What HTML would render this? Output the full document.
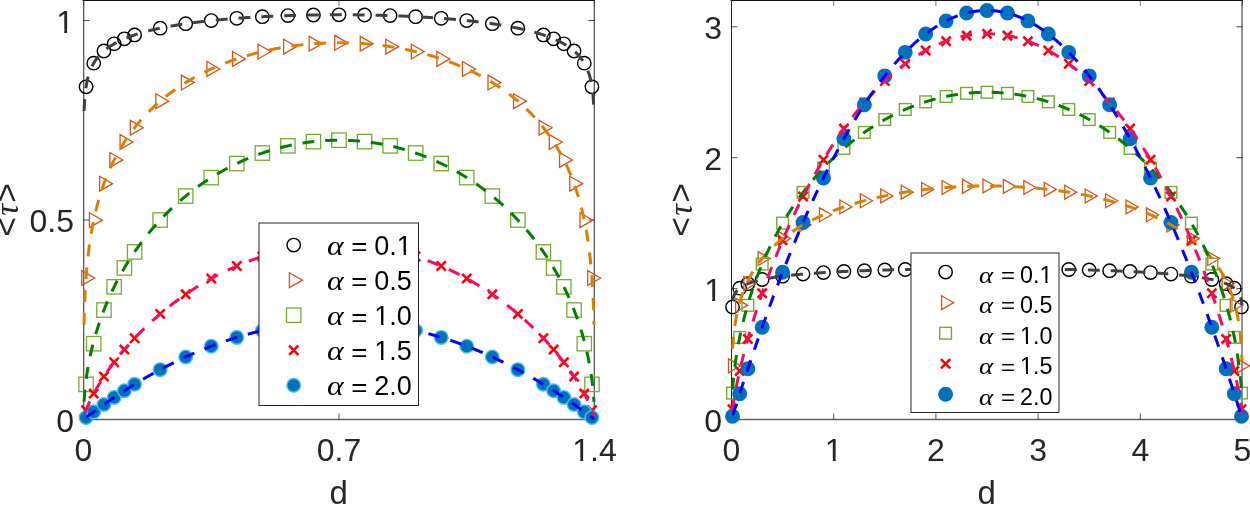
<!DOCTYPE html>
<html><head><meta charset="utf-8"><title>plot</title>
<style>html,body{margin:0;padding:0;background:#fff;overflow:hidden}svg{display:block}</style>
</head><body>
<svg width="1250" height="505" viewBox="0 0 1250 505" font-family="'Liberation Sans', Helvetica, Arial, sans-serif" font-size="32" fill="#262626">
<defs><clipPath id="c0"><path clip-rule="evenodd" d="M552.26,421.20h84.48v60.00h-84.48zM573.20,457.50H580.29V464.20H573.20zM583.15,457.50H589.76V464.20H583.15z"/></clipPath><clipPath id="c1"><path clip-rule="evenodd" d="M36.20,-7.50h57.80v60.00h-57.80zM57.14,28.80H64.23V35.50H57.14zM67.09,28.80H73.70V35.50H67.09z"/></clipPath><clipPath id="c2"><path clip-rule="evenodd" d="M354.30,215.00h77.53v60.00h-77.53zM397.61,251.69H403.59V258.00H397.61zM406.01,251.69H411.58V258.00H406.01z"/></clipPath><clipPath id="c3"><path clip-rule="evenodd" d="M354.30,285.10h77.53v60.00h-77.53zM375.09,321.79H381.08V328.10H375.09zM383.49,321.79H389.07V328.10H383.49z"/></clipPath><clipPath id="c4"><path clip-rule="evenodd" d="M354.30,320.15h77.53v60.00h-77.53zM375.09,356.84H381.08V363.15H375.09zM383.49,356.84H389.07V363.15H383.49z"/></clipPath><clipPath id="c5"><path clip-rule="evenodd" d="M804.80,421.20h57.80v60.00h-57.80zM825.74,457.50H832.83V464.20H825.74zM835.69,457.50H842.30V464.20H835.69z"/></clipPath><clipPath id="c6"><path clip-rule="evenodd" d="M684.20,260.60h57.80v60.00h-57.80zM705.14,296.90H712.23V303.60H705.14zM715.09,296.90H721.70V303.60H715.09z"/></clipPath><clipPath id="c7"><path clip-rule="evenodd" d="M1000.10,242.60h72.39v60.00h-72.39zM1040.21,279.58H1045.38V285.60H1040.21zM1047.46,279.58H1052.27V285.60H1047.46z"/></clipPath><clipPath id="c8"><path clip-rule="evenodd" d="M1000.10,303.70h72.39v60.00h-72.39zM1020.78,340.68H1025.95V346.70H1020.78zM1028.03,340.68H1032.84V346.70H1028.03z"/></clipPath><clipPath id="c9"><path clip-rule="evenodd" d="M1000.10,334.25h72.39v60.00h-72.39zM1020.78,371.23H1025.95V377.25H1020.78zM1028.03,371.23H1032.84V377.25H1028.03z"/></clipPath></defs>
<rect x="82.5" y="0" width="512.5" height="1" fill="#111"/>
<line x1="83.75" y1="0" x2="83.75" y2="420.00" stroke="#262626" stroke-width="1" opacity="1.0"/>
<line x1="594.25" y1="0" x2="594.25" y2="420.00" stroke="#262626" stroke-width="1" opacity="1.0"/>
<line x1="83.50" y1="419.50" x2="595.00" y2="419.50" stroke="#262626" stroke-width="1.3" opacity="0.72"/>
<line x1="83.50" y1="419.50" x2="83.50" y2="413.50" stroke="#262626" stroke-width="1" opacity="0.8"/>
<line x1="83.50" y1="0" x2="83.50" y2="6.00" stroke="#262626" stroke-width="1" opacity="0.6"/>
<text x="83.50" y="461.20" text-anchor="middle">0</text>
<line x1="339.00" y1="419.50" x2="339.00" y2="413.50" stroke="#262626" stroke-width="1" opacity="0.8"/>
<line x1="339.00" y1="0" x2="339.00" y2="6.00" stroke="#262626" stroke-width="1" opacity="0.6"/>
<text x="339.00" y="461.20" text-anchor="middle">0.7</text>
<line x1="594.50" y1="419.50" x2="594.50" y2="413.50" stroke="#262626" stroke-width="1" opacity="0.8"/>
<line x1="594.50" y1="0" x2="594.50" y2="6.00" stroke="#262626" stroke-width="1" opacity="0.6"/>
<text x="594.50" y="461.20" text-anchor="middle" clip-path="url(#c0)">1.4</text>
<line x1="83.50" y1="419.50" x2="89.50" y2="419.50" stroke="#262626" stroke-width="1" opacity="0.8"/>
<line x1="594.50" y1="419.50" x2="588.50" y2="419.50" stroke="#262626" stroke-width="1" opacity="0.9"/>
<text x="74.00" y="431.50" text-anchor="end">0</text>
<line x1="83.50" y1="220.00" x2="89.50" y2="220.00" stroke="#262626" stroke-width="1" opacity="0.8"/>
<line x1="594.50" y1="220.00" x2="588.50" y2="220.00" stroke="#262626" stroke-width="1" opacity="0.9"/>
<text x="74.00" y="232.00" text-anchor="end">0.5</text>
<line x1="83.50" y1="20.50" x2="89.50" y2="20.50" stroke="#262626" stroke-width="1" opacity="0.8"/>
<line x1="594.50" y1="20.50" x2="588.50" y2="20.50" stroke="#262626" stroke-width="1" opacity="0.9"/>
<text x="74.00" y="32.50" text-anchor="end" clip-path="url(#c1)">1</text>
<text x="338.70" y="503.8" text-anchor="middle" font-size="33">d</text>
<circle cx="86.06" cy="86.78" r="6.7" fill="none" stroke="#000" stroke-width="1.4"/>
<circle cx="93.72" cy="63.17" r="6.7" fill="none" stroke="#000" stroke-width="1.4"/>
<circle cx="103.94" cy="50.98" r="6.7" fill="none" stroke="#000" stroke-width="1.4"/>
<circle cx="114.16" cy="43.83" r="6.7" fill="none" stroke="#000" stroke-width="1.4"/>
<circle cx="124.38" cy="38.79" r="6.7" fill="none" stroke="#000" stroke-width="1.4"/>
<circle cx="134.60" cy="34.95" r="6.7" fill="none" stroke="#000" stroke-width="1.4"/>
<circle cx="160.15" cy="28.19" r="6.7" fill="none" stroke="#000" stroke-width="1.4"/>
<circle cx="185.70" cy="23.72" r="6.7" fill="none" stroke="#000" stroke-width="1.4"/>
<circle cx="211.25" cy="20.57" r="6.7" fill="none" stroke="#000" stroke-width="1.4"/>
<circle cx="236.80" cy="18.30" r="6.7" fill="none" stroke="#000" stroke-width="1.4"/>
<circle cx="262.35" cy="16.70" r="6.7" fill="none" stroke="#000" stroke-width="1.4"/>
<circle cx="287.90" cy="15.62" r="6.7" fill="none" stroke="#000" stroke-width="1.4"/>
<circle cx="313.45" cy="15.00" r="6.7" fill="none" stroke="#000" stroke-width="1.4"/>
<circle cx="339.00" cy="14.79" r="6.7" fill="none" stroke="#000" stroke-width="1.4"/>
<circle cx="364.55" cy="15.00" r="6.7" fill="none" stroke="#000" stroke-width="1.4"/>
<circle cx="390.10" cy="15.62" r="6.7" fill="none" stroke="#000" stroke-width="1.4"/>
<circle cx="415.65" cy="16.70" r="6.7" fill="none" stroke="#000" stroke-width="1.4"/>
<circle cx="441.20" cy="18.30" r="6.7" fill="none" stroke="#000" stroke-width="1.4"/>
<circle cx="466.75" cy="20.57" r="6.7" fill="none" stroke="#000" stroke-width="1.4"/>
<circle cx="492.30" cy="23.72" r="6.7" fill="none" stroke="#000" stroke-width="1.4"/>
<circle cx="517.85" cy="28.19" r="6.7" fill="none" stroke="#000" stroke-width="1.4"/>
<circle cx="543.40" cy="34.95" r="6.7" fill="none" stroke="#000" stroke-width="1.4"/>
<circle cx="553.62" cy="38.79" r="6.7" fill="none" stroke="#000" stroke-width="1.4"/>
<circle cx="563.84" cy="43.83" r="6.7" fill="none" stroke="#000" stroke-width="1.4"/>
<circle cx="574.06" cy="50.98" r="6.7" fill="none" stroke="#000" stroke-width="1.4"/>
<circle cx="584.28" cy="63.17" r="6.7" fill="none" stroke="#000" stroke-width="1.4"/>
<circle cx="591.94" cy="86.78" r="6.7" fill="none" stroke="#000" stroke-width="1.4"/>
<polygon points="81.76,270.62 94.66,278.02 81.76,285.42" fill="none" stroke="#D95319" stroke-width="1.3"/>
<polygon points="89.42,212.78 102.32,220.18 89.42,227.58" fill="none" stroke="#D95319" stroke-width="1.3"/>
<polygon points="99.64,176.28 112.54,183.68 99.64,191.08" fill="none" stroke="#D95319" stroke-width="1.3"/>
<polygon points="109.86,152.50 122.76,159.90 109.86,167.30" fill="none" stroke="#D95319" stroke-width="1.3"/>
<polygon points="120.08,134.63 132.98,142.03 120.08,149.43" fill="none" stroke="#D95319" stroke-width="1.3"/>
<polygon points="130.30,120.32 143.20,127.72 130.30,135.12" fill="none" stroke="#D95319" stroke-width="1.3"/>
<polygon points="155.85,93.78 168.75,101.18 155.85,108.58" fill="none" stroke="#D95319" stroke-width="1.3"/>
<polygon points="181.40,75.18 194.30,82.58 181.40,89.98" fill="none" stroke="#D95319" stroke-width="1.3"/>
<polygon points="206.95,61.56 219.85,68.96 206.95,76.36" fill="none" stroke="#D95319" stroke-width="1.3"/>
<polygon points="232.50,51.48 245.40,58.88 232.50,66.28" fill="none" stroke="#D95319" stroke-width="1.3"/>
<polygon points="258.05,44.19 270.95,51.59 258.05,58.99" fill="none" stroke="#D95319" stroke-width="1.3"/>
<polygon points="283.60,39.24 296.50,46.64 283.60,54.04" fill="none" stroke="#D95319" stroke-width="1.3"/>
<polygon points="309.15,36.36 322.05,43.76 309.15,51.16" fill="none" stroke="#D95319" stroke-width="1.3"/>
<polygon points="334.70,35.42 347.60,42.82 334.70,50.22" fill="none" stroke="#D95319" stroke-width="1.3"/>
<polygon points="360.25,36.36 373.15,43.76 360.25,51.16" fill="none" stroke="#D95319" stroke-width="1.3"/>
<polygon points="385.80,39.24 398.70,46.64 385.80,54.04" fill="none" stroke="#D95319" stroke-width="1.3"/>
<polygon points="411.35,44.19 424.25,51.59 411.35,58.99" fill="none" stroke="#D95319" stroke-width="1.3"/>
<polygon points="436.90,51.48 449.80,58.88 436.90,66.28" fill="none" stroke="#D95319" stroke-width="1.3"/>
<polygon points="462.45,61.56 475.35,68.96 462.45,76.36" fill="none" stroke="#D95319" stroke-width="1.3"/>
<polygon points="488.00,75.18 500.90,82.58 488.00,89.98" fill="none" stroke="#D95319" stroke-width="1.3"/>
<polygon points="513.55,93.78 526.45,101.18 513.55,108.58" fill="none" stroke="#D95319" stroke-width="1.3"/>
<polygon points="539.10,120.32 552.00,127.72 539.10,135.12" fill="none" stroke="#D95319" stroke-width="1.3"/>
<polygon points="549.32,134.63 562.22,142.03 549.32,149.43" fill="none" stroke="#D95319" stroke-width="1.3"/>
<polygon points="559.54,152.50 572.44,159.90 559.54,167.30" fill="none" stroke="#D95319" stroke-width="1.3"/>
<polygon points="569.76,176.28 582.66,183.68 569.76,191.08" fill="none" stroke="#D95319" stroke-width="1.3"/>
<polygon points="579.98,212.78 592.88,220.18 579.98,227.58" fill="none" stroke="#D95319" stroke-width="1.3"/>
<polygon points="587.64,270.62 600.54,278.02 587.64,285.42" fill="none" stroke="#D95319" stroke-width="1.3"/>
<rect x="78.86" y="377.19" width="14.40" height="14.40" fill="none" stroke="#77AC30" stroke-width="1.3"/>
<rect x="86.52" y="336.49" width="14.40" height="14.40" fill="none" stroke="#77AC30" stroke-width="1.3"/>
<rect x="96.74" y="302.84" width="14.40" height="14.40" fill="none" stroke="#77AC30" stroke-width="1.3"/>
<rect x="106.96" y="279.64" width="14.40" height="14.40" fill="none" stroke="#77AC30" stroke-width="1.3"/>
<rect x="117.18" y="260.76" width="14.40" height="14.40" fill="none" stroke="#77AC30" stroke-width="1.3"/>
<rect x="127.40" y="244.72" width="14.40" height="14.40" fill="none" stroke="#77AC30" stroke-width="1.3"/>
<rect x="152.95" y="212.84" width="14.40" height="14.40" fill="none" stroke="#77AC30" stroke-width="1.3"/>
<rect x="178.50" y="188.86" width="14.40" height="14.40" fill="none" stroke="#77AC30" stroke-width="1.3"/>
<rect x="204.05" y="170.42" width="14.40" height="14.40" fill="none" stroke="#77AC30" stroke-width="1.3"/>
<rect x="229.60" y="156.32" width="14.40" height="14.40" fill="none" stroke="#77AC30" stroke-width="1.3"/>
<rect x="255.15" y="145.86" width="14.40" height="14.40" fill="none" stroke="#77AC30" stroke-width="1.3"/>
<rect x="280.70" y="138.64" width="14.40" height="14.40" fill="none" stroke="#77AC30" stroke-width="1.3"/>
<rect x="306.25" y="134.40" width="14.40" height="14.40" fill="none" stroke="#77AC30" stroke-width="1.3"/>
<rect x="331.80" y="133.00" width="14.40" height="14.40" fill="none" stroke="#77AC30" stroke-width="1.3"/>
<rect x="357.35" y="134.40" width="14.40" height="14.40" fill="none" stroke="#77AC30" stroke-width="1.3"/>
<rect x="382.90" y="138.64" width="14.40" height="14.40" fill="none" stroke="#77AC30" stroke-width="1.3"/>
<rect x="408.45" y="145.86" width="14.40" height="14.40" fill="none" stroke="#77AC30" stroke-width="1.3"/>
<rect x="434.00" y="156.32" width="14.40" height="14.40" fill="none" stroke="#77AC30" stroke-width="1.3"/>
<rect x="459.55" y="170.42" width="14.40" height="14.40" fill="none" stroke="#77AC30" stroke-width="1.3"/>
<rect x="485.10" y="188.86" width="14.40" height="14.40" fill="none" stroke="#77AC30" stroke-width="1.3"/>
<rect x="510.65" y="212.84" width="14.40" height="14.40" fill="none" stroke="#77AC30" stroke-width="1.3"/>
<rect x="536.20" y="244.72" width="14.40" height="14.40" fill="none" stroke="#77AC30" stroke-width="1.3"/>
<rect x="546.42" y="260.76" width="14.40" height="14.40" fill="none" stroke="#77AC30" stroke-width="1.3"/>
<rect x="556.64" y="279.64" width="14.40" height="14.40" fill="none" stroke="#77AC30" stroke-width="1.3"/>
<rect x="566.86" y="302.84" width="14.40" height="14.40" fill="none" stroke="#77AC30" stroke-width="1.3"/>
<rect x="577.08" y="336.49" width="14.40" height="14.40" fill="none" stroke="#77AC30" stroke-width="1.3"/>
<rect x="584.74" y="377.19" width="14.40" height="14.40" fill="none" stroke="#77AC30" stroke-width="1.3"/>
<path d="M81.46,405.63L90.66,414.83M81.46,414.83L90.66,405.63" stroke="#FF0000" stroke-width="2.6" fill="none"/>
<path d="M89.12,388.99L98.32,398.19M89.12,398.19L98.32,388.99" stroke="#FF0000" stroke-width="2.6" fill="none"/>
<path d="M99.34,371.99L108.54,381.19M99.34,381.19L108.54,371.99" stroke="#FF0000" stroke-width="2.6" fill="none"/>
<path d="M109.56,357.65L118.76,366.85M109.56,366.85L118.76,357.65" stroke="#FF0000" stroke-width="2.6" fill="none"/>
<path d="M119.78,344.99L128.98,354.19M119.78,354.19L128.98,344.99" stroke="#FF0000" stroke-width="2.6" fill="none"/>
<path d="M130.00,333.61L139.20,342.81M130.00,342.81L139.20,333.61" stroke="#FF0000" stroke-width="2.6" fill="none"/>
<path d="M155.55,309.34L164.75,318.54M155.55,318.54L164.75,309.34" stroke="#FF0000" stroke-width="2.6" fill="none"/>
<path d="M181.10,289.75L190.30,298.95M181.10,298.95L190.30,289.75" stroke="#FF0000" stroke-width="2.6" fill="none"/>
<path d="M206.65,273.94L215.85,283.14M206.65,283.14L215.85,273.94" stroke="#FF0000" stroke-width="2.6" fill="none"/>
<path d="M232.20,261.43L241.40,270.63M232.20,270.63L241.40,261.43" stroke="#FF0000" stroke-width="2.6" fill="none"/>
<path d="M257.75,251.94L266.95,261.14M257.75,261.14L266.95,251.94" stroke="#FF0000" stroke-width="2.6" fill="none"/>
<path d="M283.30,245.27L292.50,254.47M283.30,254.47L292.50,245.27" stroke="#FF0000" stroke-width="2.6" fill="none"/>
<path d="M308.85,241.31L318.05,250.51M308.85,250.51L318.05,241.31" stroke="#FF0000" stroke-width="2.6" fill="none"/>
<path d="M334.40,239.99L343.60,249.19M334.40,249.19L343.60,239.99" stroke="#FF0000" stroke-width="2.6" fill="none"/>
<path d="M359.95,241.31L369.15,250.51M359.95,250.51L369.15,241.31" stroke="#FF0000" stroke-width="2.6" fill="none"/>
<path d="M385.50,245.27L394.70,254.47M385.50,254.47L394.70,245.27" stroke="#FF0000" stroke-width="2.6" fill="none"/>
<path d="M411.05,251.94L420.25,261.14M411.05,261.14L420.25,251.94" stroke="#FF0000" stroke-width="2.6" fill="none"/>
<path d="M436.60,261.43L445.80,270.63M436.60,270.63L445.80,261.43" stroke="#FF0000" stroke-width="2.6" fill="none"/>
<path d="M462.15,273.94L471.35,283.14M462.15,283.14L471.35,273.94" stroke="#FF0000" stroke-width="2.6" fill="none"/>
<path d="M487.70,289.75L496.90,298.95M487.70,298.95L496.90,289.75" stroke="#FF0000" stroke-width="2.6" fill="none"/>
<path d="M513.25,309.34L522.45,318.54M513.25,318.54L522.45,309.34" stroke="#FF0000" stroke-width="2.6" fill="none"/>
<path d="M538.80,333.61L548.00,342.81M538.80,342.81L548.00,333.61" stroke="#FF0000" stroke-width="2.6" fill="none"/>
<path d="M549.02,344.99L558.22,354.19M549.02,354.19L558.22,344.99" stroke="#FF0000" stroke-width="2.6" fill="none"/>
<path d="M559.24,357.65L568.44,366.85M559.24,366.85L568.44,357.65" stroke="#FF0000" stroke-width="2.6" fill="none"/>
<path d="M569.46,371.99L578.66,381.19M569.46,381.19L578.66,371.99" stroke="#FF0000" stroke-width="2.6" fill="none"/>
<path d="M579.68,388.99L588.88,398.19M579.68,398.19L588.88,388.99" stroke="#FF0000" stroke-width="2.6" fill="none"/>
<path d="M587.34,405.63L596.54,414.83M587.34,414.83L596.54,405.63" stroke="#FF0000" stroke-width="2.6" fill="none"/>
<circle cx="86.06" cy="417.55" r="6.8" fill="#0072BD" stroke="#4DBEEE" stroke-width="1.4"/>
<circle cx="93.72" cy="411.84" r="6.8" fill="#0072BD" stroke="#4DBEEE" stroke-width="1.4"/>
<circle cx="103.94" cy="404.48" r="6.8" fill="#0072BD" stroke="#4DBEEE" stroke-width="1.4"/>
<circle cx="114.16" cy="397.45" r="6.8" fill="#0072BD" stroke="#4DBEEE" stroke-width="1.4"/>
<circle cx="124.38" cy="390.72" r="6.8" fill="#0072BD" stroke="#4DBEEE" stroke-width="1.4"/>
<circle cx="134.60" cy="384.31" r="6.8" fill="#0072BD" stroke="#4DBEEE" stroke-width="1.4"/>
<circle cx="160.15" cy="369.64" r="6.8" fill="#0072BD" stroke="#4DBEEE" stroke-width="1.4"/>
<circle cx="185.70" cy="356.94" r="6.8" fill="#0072BD" stroke="#4DBEEE" stroke-width="1.4"/>
<circle cx="211.25" cy="346.18" r="6.8" fill="#0072BD" stroke="#4DBEEE" stroke-width="1.4"/>
<circle cx="236.80" cy="337.39" r="6.8" fill="#0072BD" stroke="#4DBEEE" stroke-width="1.4"/>
<circle cx="262.35" cy="330.54" r="6.8" fill="#0072BD" stroke="#4DBEEE" stroke-width="1.4"/>
<circle cx="287.90" cy="325.66" r="6.8" fill="#0072BD" stroke="#4DBEEE" stroke-width="1.4"/>
<circle cx="313.45" cy="322.72" r="6.8" fill="#0072BD" stroke="#4DBEEE" stroke-width="1.4"/>
<circle cx="339.00" cy="321.75" r="6.8" fill="#0072BD" stroke="#4DBEEE" stroke-width="1.4"/>
<circle cx="364.55" cy="322.72" r="6.8" fill="#0072BD" stroke="#4DBEEE" stroke-width="1.4"/>
<circle cx="390.10" cy="325.66" r="6.8" fill="#0072BD" stroke="#4DBEEE" stroke-width="1.4"/>
<circle cx="415.65" cy="330.54" r="6.8" fill="#0072BD" stroke="#4DBEEE" stroke-width="1.4"/>
<circle cx="441.20" cy="337.39" r="6.8" fill="#0072BD" stroke="#4DBEEE" stroke-width="1.4"/>
<circle cx="466.75" cy="346.18" r="6.8" fill="#0072BD" stroke="#4DBEEE" stroke-width="1.4"/>
<circle cx="492.30" cy="356.94" r="6.8" fill="#0072BD" stroke="#4DBEEE" stroke-width="1.4"/>
<circle cx="517.85" cy="369.64" r="6.8" fill="#0072BD" stroke="#4DBEEE" stroke-width="1.4"/>
<circle cx="543.40" cy="384.31" r="6.8" fill="#0072BD" stroke="#4DBEEE" stroke-width="1.4"/>
<circle cx="553.62" cy="390.72" r="6.8" fill="#0072BD" stroke="#4DBEEE" stroke-width="1.4"/>
<circle cx="563.84" cy="397.45" r="6.8" fill="#0072BD" stroke="#4DBEEE" stroke-width="1.4"/>
<circle cx="574.06" cy="404.48" r="6.8" fill="#0072BD" stroke="#4DBEEE" stroke-width="1.4"/>
<circle cx="584.28" cy="411.84" r="6.8" fill="#0072BD" stroke="#4DBEEE" stroke-width="1.4"/>
<circle cx="591.94" cy="417.55" r="6.8" fill="#0072BD" stroke="#4DBEEE" stroke-width="1.4"/>
<polyline points="84.01,112.44 84.52,101.63 85.03,95.13 85.54,90.45 86.06,86.78 86.57,83.75 87.08,81.16 87.59,78.92 88.10,76.92 88.61,75.13 89.12,73.50 89.63,72.01 90.14,70.63 90.65,69.36 91.17,68.17 91.68,67.05 92.19,66.00 92.70,65.00 93.21,64.06 93.72,63.17 94.23,62.31 94.74,61.50 95.25,60.72 95.76,59.98 96.28,59.26 96.79,58.57 97.30,57.91 97.81,57.27 98.32,56.65 98.83,56.05 99.34,55.48 99.85,54.92 100.36,54.37 100.87,53.85 101.39,53.34 101.90,52.84 102.41,52.36 102.92,51.89 103.43,51.43 103.94,50.98 104.45,50.54 104.96,50.12 105.47,49.70 105.98,49.30 106.49,48.90 107.01,48.51 107.52,48.13 108.03,47.76 108.54,47.40 109.05,47.04 109.56,46.69 110.07,46.35 110.58,46.01 111.09,45.68 111.61,45.36 112.12,45.04 112.63,44.73 113.14,44.42 113.65,44.12 114.16,43.83 114.67,43.54 115.18,43.25 115.69,42.97 116.20,42.69 116.72,42.42 117.23,42.15 117.74,41.89 118.25,41.63 118.76,41.38 119.27,41.12 119.78,40.88 120.29,40.63 120.80,40.39 121.31,40.15 121.82,39.92 122.34,39.69 122.85,39.46 123.36,39.24 123.87,39.01 124.38,38.79 124.89,38.58 125.40,38.37 125.91,38.16 126.42,37.95 126.94,37.74 127.45,37.54 127.96,37.34 128.47,37.14 128.98,36.95 129.49,36.76 130.00,36.56 130.51,36.38 131.02,36.19 131.53,36.01 132.05,35.82 132.56,35.65 133.07,35.47 133.58,35.29 134.09,35.12 134.60,34.95 135.11,34.78 135.62,34.61 136.13,34.44 136.64,34.28 137.16,34.11 137.67,33.95 138.18,33.79 138.69,33.64 139.20,33.48 139.71,33.32 140.22,33.17 140.73,33.02 141.24,32.87 141.75,32.72 142.26,32.57 142.78,32.43 143.29,32.28 143.80,32.14 144.31,32.00 144.82,31.86 145.33,31.72 145.84,31.58 146.35,31.45 146.86,31.31 147.38,31.18 147.89,31.05 148.40,30.92 148.91,30.78 149.42,30.66 149.93,30.53 150.44,30.40 150.95,30.28 151.46,30.15 151.97,30.03 152.49,29.91 153.00,29.78 153.51,29.66 154.02,29.55 154.53,29.43 155.04,29.31 155.55,29.19 156.06,29.08 156.57,28.96 157.08,28.85 157.59,28.74 158.11,28.63 158.62,28.52 159.13,28.41 159.64,28.30 160.15,28.19 160.66,28.08 161.17,27.98 161.68,27.87 162.19,27.77 162.70,27.66 163.22,27.56 163.73,27.46 164.24,27.36 164.75,27.26 165.26,27.16 165.77,27.06 166.28,26.96 166.79,26.86 167.30,26.77 167.81,26.67 168.33,26.58 168.84,26.48 169.35,26.39 169.86,26.29 170.37,26.20 170.88,26.11 171.39,26.02 171.90,25.93 172.41,25.84 172.92,25.75 173.44,25.66 173.95,25.57 174.46,25.49 174.97,25.40 175.48,25.32 175.99,25.23 176.50,25.15 177.01,25.06 177.52,24.98 178.03,24.90 178.55,24.81 179.06,24.73 179.57,24.65 180.08,24.57 180.59,24.49 181.10,24.41 181.61,24.33 182.12,24.25 182.63,24.18 183.15,24.10 183.66,24.02 184.17,23.95 184.68,23.87 185.19,23.80 185.70,23.72 186.21,23.65 186.72,23.58 187.23,23.50 187.74,23.43 188.25,23.36 188.77,23.29 189.28,23.22 189.79,23.14 190.30,23.07 190.81,23.01 191.32,22.94 191.83,22.87 192.34,22.80 192.85,22.73 193.37,22.66 193.88,22.60 194.39,22.53 194.90,22.47 195.41,22.40 195.92,22.34 196.43,22.27 196.94,22.21 197.45,22.14 197.96,22.08 198.47,22.02 198.99,21.95 199.50,21.89 200.01,21.83 200.52,21.77 201.03,21.71 201.54,21.65 202.05,21.59 202.56,21.53 203.07,21.47 203.59,21.41 204.10,21.35 204.61,21.29 205.12,21.24 205.63,21.18 206.14,21.12 206.65,21.06 207.16,21.01 207.67,20.95 208.18,20.90 208.69,20.84 209.21,20.79 209.72,20.73 210.23,20.68 210.74,20.62 211.25,20.57 211.76,20.52 212.27,20.47 212.78,20.41 213.29,20.36 213.81,20.31 214.32,20.26 214.83,20.21 215.34,20.16 215.85,20.11 216.36,20.06 216.87,20.01 217.38,19.96 217.89,19.91 218.40,19.86 218.91,19.81 219.43,19.76 219.94,19.72 220.45,19.67 220.96,19.62 221.47,19.57 221.98,19.53 222.49,19.48 223.00,19.44 223.51,19.39 224.03,19.34 224.54,19.30 225.05,19.25 225.56,19.21 226.07,19.17 226.58,19.12 227.09,19.08 227.60,19.04 228.11,18.99 228.62,18.95 229.14,18.91 229.65,18.87 230.16,18.82 230.67,18.78 231.18,18.74 231.69,18.70 232.20,18.66 232.71,18.62 233.22,18.58 233.73,18.54 234.25,18.50 234.76,18.46 235.27,18.42 235.78,18.38 236.29,18.34 236.80,18.30 237.31,18.27 237.82,18.23 238.33,18.19 238.84,18.15 239.35,18.12 239.87,18.08 240.38,18.04 240.89,18.01 241.40,17.97 241.91,17.94 242.42,17.90 242.93,17.86 243.44,17.83 243.95,17.79 244.47,17.76 244.98,17.73 245.49,17.69 246.00,17.66 246.51,17.62 247.02,17.59 247.53,17.56 248.04,17.52 248.55,17.49 249.06,17.46 249.57,17.43 250.09,17.40 250.60,17.36 251.11,17.33 251.62,17.30 252.13,17.27 252.64,17.24 253.15,17.21 253.66,17.18 254.17,17.15 254.68,17.12 255.20,17.09 255.71,17.06 256.22,17.03 256.73,17.00 257.24,16.97 257.75,16.94 258.26,16.91 258.77,16.89 259.28,16.86 259.79,16.83 260.31,16.80 260.82,16.78 261.33,16.75 261.84,16.72 262.35,16.70 262.86,16.67 263.37,16.64 263.88,16.62 264.39,16.59 264.90,16.57 265.42,16.54 265.93,16.51 266.44,16.49 266.95,16.47 267.46,16.44 267.97,16.42 268.48,16.39 268.99,16.37 269.50,16.34 270.01,16.32 270.53,16.30 271.04,16.27 271.55,16.25 272.06,16.23 272.57,16.21 273.08,16.18 273.59,16.16 274.10,16.14 274.61,16.12 275.12,16.10 275.64,16.07 276.15,16.05 276.66,16.03 277.17,16.01 277.68,15.99 278.19,15.97 278.70,15.95 279.21,15.93 279.72,15.91 280.24,15.89 280.75,15.87 281.26,15.85 281.77,15.83 282.28,15.81 282.79,15.79 283.30,15.78 283.81,15.76 284.32,15.74 284.83,15.72 285.35,15.70 285.86,15.69 286.37,15.67 286.88,15.65 287.39,15.63 287.90,15.62 288.41,15.60 288.92,15.58 289.43,15.57 289.94,15.55 290.45,15.54 290.97,15.52 291.48,15.50 291.99,15.49 292.50,15.47 293.01,15.46 293.52,15.44 294.03,15.43 294.54,15.41 295.05,15.40 295.56,15.38 296.08,15.37 296.59,15.36 297.10,15.34 297.61,15.33 298.12,15.32 298.63,15.30 299.14,15.29 299.65,15.28 300.16,15.26 300.67,15.25 301.19,15.24 301.70,15.23 302.21,15.22 302.72,15.20 303.23,15.19 303.74,15.18 304.25,15.17 304.76,15.16 305.27,15.15 305.78,15.14 306.30,15.13 306.81,15.12 307.32,15.11 307.83,15.10 308.34,15.09 308.85,15.08 309.36,15.07 309.87,15.06 310.38,15.05 310.89,15.04 311.41,15.03 311.92,15.02 312.43,15.01 312.94,15.00 313.45,15.00 313.96,14.99 314.47,14.98 314.98,14.97 315.49,14.96 316.00,14.96 316.52,14.95 317.03,14.94 317.54,14.94 318.05,14.93 318.56,14.92 319.07,14.92 319.58,14.91 320.09,14.90 320.60,14.90 321.12,14.89 321.63,14.89 322.14,14.88 322.65,14.87 323.16,14.87 323.67,14.86 324.18,14.86 324.69,14.86 325.20,14.85 325.71,14.85 326.23,14.84 326.74,14.84 327.25,14.83 327.76,14.83 328.27,14.83 328.78,14.82 329.29,14.82 329.80,14.82 330.31,14.82 330.82,14.81 331.34,14.81 331.85,14.81 332.36,14.81 332.87,14.80 333.38,14.80 333.89,14.80 334.40,14.80 334.91,14.80 335.42,14.80 335.93,14.79 336.44,14.79 336.96,14.79 337.47,14.79 337.98,14.79 338.49,14.79 339.00,14.79 339.51,14.79 340.02,14.79 340.53,14.79 341.04,14.79 341.56,14.79 342.07,14.79 342.58,14.80 343.09,14.80 343.60,14.80 344.11,14.80 344.62,14.80 345.13,14.80 345.64,14.81 346.15,14.81 346.66,14.81 347.18,14.81 347.69,14.82 348.20,14.82 348.71,14.82 349.22,14.82 349.73,14.83 350.24,14.83 350.75,14.83 351.26,14.84 351.77,14.84 352.29,14.85 352.80,14.85 353.31,14.86 353.82,14.86 354.33,14.86 354.84,14.87 355.35,14.87 355.86,14.88 356.37,14.89 356.88,14.89 357.40,14.90 357.91,14.90 358.42,14.91 358.93,14.92 359.44,14.92 359.95,14.93 360.46,14.94 360.97,14.94 361.48,14.95 362.00,14.96 362.51,14.96 363.02,14.97 363.53,14.98 364.04,14.99 364.55,15.00 365.06,15.00 365.57,15.01 366.08,15.02 366.59,15.03 367.11,15.04 367.62,15.05 368.13,15.06 368.64,15.07 369.15,15.08 369.66,15.09 370.17,15.10 370.68,15.11 371.19,15.12 371.70,15.13 372.22,15.14 372.73,15.15 373.24,15.16 373.75,15.17 374.26,15.18 374.77,15.19 375.28,15.20 375.79,15.22 376.30,15.23 376.81,15.24 377.33,15.25 377.84,15.26 378.35,15.28 378.86,15.29 379.37,15.30 379.88,15.32 380.39,15.33 380.90,15.34 381.41,15.36 381.92,15.37 382.44,15.38 382.95,15.40 383.46,15.41 383.97,15.43 384.48,15.44 384.99,15.46 385.50,15.47 386.01,15.49 386.52,15.50 387.03,15.52 387.54,15.54 388.06,15.55 388.57,15.57 389.08,15.58 389.59,15.60 390.10,15.62 390.61,15.63 391.12,15.65 391.63,15.67 392.14,15.69 392.65,15.70 393.17,15.72 393.68,15.74 394.19,15.76 394.70,15.78 395.21,15.79 395.72,15.81 396.23,15.83 396.74,15.85 397.25,15.87 397.76,15.89 398.28,15.91 398.79,15.93 399.30,15.95 399.81,15.97 400.32,15.99 400.83,16.01 401.34,16.03 401.85,16.05 402.36,16.07 402.88,16.10 403.39,16.12 403.90,16.14 404.41,16.16 404.92,16.18 405.43,16.21 405.94,16.23 406.45,16.25 406.96,16.27 407.47,16.30 407.99,16.32 408.50,16.34 409.01,16.37 409.52,16.39 410.03,16.42 410.54,16.44 411.05,16.47 411.56,16.49 412.07,16.51 412.58,16.54 413.09,16.57 413.61,16.59 414.12,16.62 414.63,16.64 415.14,16.67 415.65,16.70 416.16,16.72 416.67,16.75 417.18,16.78 417.69,16.80 418.20,16.83 418.72,16.86 419.23,16.89 419.74,16.91 420.25,16.94 420.76,16.97 421.27,17.00 421.78,17.03 422.29,17.06 422.80,17.09 423.31,17.12 423.83,17.15 424.34,17.18 424.85,17.21 425.36,17.24 425.87,17.27 426.38,17.30 426.89,17.33 427.40,17.36 427.91,17.40 428.42,17.43 428.94,17.46 429.45,17.49 429.96,17.52 430.47,17.56 430.98,17.59 431.49,17.62 432.00,17.66 432.51,17.69 433.02,17.73 433.53,17.76 434.05,17.79 434.56,17.83 435.07,17.86 435.58,17.90 436.09,17.94 436.60,17.97 437.11,18.01 437.62,18.04 438.13,18.08 438.64,18.12 439.16,18.15 439.67,18.19 440.18,18.23 440.69,18.27 441.20,18.30 441.71,18.34 442.22,18.38 442.73,18.42 443.24,18.46 443.75,18.50 444.27,18.54 444.78,18.58 445.29,18.62 445.80,18.66 446.31,18.70 446.82,18.74 447.33,18.78 447.84,18.82 448.35,18.87 448.86,18.91 449.38,18.95 449.89,18.99 450.40,19.04 450.91,19.08 451.42,19.12 451.93,19.17 452.44,19.21 452.95,19.25 453.46,19.30 453.97,19.34 454.49,19.39 455.00,19.44 455.51,19.48 456.02,19.53 456.53,19.57 457.04,19.62 457.55,19.67 458.06,19.72 458.57,19.76 459.08,19.81 459.60,19.86 460.11,19.91 460.62,19.96 461.13,20.01 461.64,20.06 462.15,20.11 462.66,20.16 463.17,20.21 463.68,20.26 464.19,20.31 464.71,20.36 465.22,20.41 465.73,20.47 466.24,20.52 466.75,20.57 467.26,20.62 467.77,20.68 468.28,20.73 468.79,20.79 469.30,20.84 469.82,20.90 470.33,20.95 470.84,21.01 471.35,21.06 471.86,21.12 472.37,21.18 472.88,21.24 473.39,21.29 473.90,21.35 474.41,21.41 474.93,21.47 475.44,21.53 475.95,21.59 476.46,21.65 476.97,21.71 477.48,21.77 477.99,21.83 478.50,21.89 479.01,21.95 479.52,22.02 480.04,22.08 480.55,22.14 481.06,22.21 481.57,22.27 482.08,22.34 482.59,22.40 483.10,22.47 483.61,22.53 484.12,22.60 484.63,22.66 485.15,22.73 485.66,22.80 486.17,22.87 486.68,22.94 487.19,23.01 487.70,23.07 488.21,23.14 488.72,23.22 489.23,23.29 489.75,23.36 490.26,23.43 490.77,23.50 491.28,23.58 491.79,23.65 492.30,23.72 492.81,23.80 493.32,23.87 493.83,23.95 494.34,24.02 494.86,24.10 495.37,24.18 495.88,24.25 496.39,24.33 496.90,24.41 497.41,24.49 497.92,24.57 498.43,24.65 498.94,24.73 499.45,24.81 499.97,24.90 500.48,24.98 500.99,25.06 501.50,25.15 502.01,25.23 502.52,25.32 503.03,25.40 503.54,25.49 504.05,25.57 504.56,25.66 505.07,25.75 505.59,25.84 506.10,25.93 506.61,26.02 507.12,26.11 507.63,26.20 508.14,26.29 508.65,26.39 509.16,26.48 509.67,26.58 510.19,26.67 510.70,26.77 511.21,26.86 511.72,26.96 512.23,27.06 512.74,27.16 513.25,27.26 513.76,27.36 514.27,27.46 514.78,27.56 515.30,27.66 515.81,27.77 516.32,27.87 516.83,27.98 517.34,28.08 517.85,28.19 518.36,28.30 518.87,28.41 519.38,28.52 519.89,28.63 520.40,28.74 520.92,28.85 521.43,28.96 521.94,29.08 522.45,29.19 522.96,29.31 523.47,29.43 523.98,29.55 524.49,29.66 525.00,29.78 525.52,29.91 526.03,30.03 526.54,30.15 527.05,30.28 527.56,30.40 528.07,30.53 528.58,30.66 529.09,30.78 529.60,30.92 530.11,31.05 530.62,31.18 531.14,31.31 531.65,31.45 532.16,31.58 532.67,31.72 533.18,31.86 533.69,32.00 534.20,32.14 534.71,32.28 535.22,32.43 535.74,32.57 536.25,32.72 536.76,32.87 537.27,33.02 537.78,33.17 538.29,33.32 538.80,33.48 539.31,33.64 539.82,33.79 540.33,33.95 540.85,34.11 541.36,34.28 541.87,34.44 542.38,34.61 542.89,34.78 543.40,34.95 543.91,35.12 544.42,35.29 544.93,35.47 545.44,35.65 545.95,35.82 546.47,36.01 546.98,36.19 547.49,36.38 548.00,36.56 548.51,36.76 549.02,36.95 549.53,37.14 550.04,37.34 550.55,37.54 551.07,37.74 551.58,37.95 552.09,38.16 552.60,38.37 553.11,38.58 553.62,38.79 554.13,39.01 554.64,39.24 555.15,39.46 555.66,39.69 556.17,39.92 556.69,40.15 557.20,40.39 557.71,40.63 558.22,40.88 558.73,41.12 559.24,41.38 559.75,41.63 560.26,41.89 560.77,42.15 561.28,42.42 561.80,42.69 562.31,42.97 562.82,43.25 563.33,43.54 563.84,43.83 564.35,44.12 564.86,44.42 565.37,44.73 565.88,45.04 566.39,45.36 566.91,45.68 567.42,46.01 567.93,46.35 568.44,46.69 568.95,47.04 569.46,47.40 569.97,47.76 570.48,48.13 570.99,48.51 571.50,48.90 572.02,49.30 572.53,49.70 573.04,50.12 573.55,50.54 574.06,50.98 574.57,51.43 575.08,51.89 575.59,52.36 576.10,52.84 576.62,53.34 577.13,53.85 577.64,54.37 578.15,54.92 578.66,55.48 579.17,56.05 579.68,56.65 580.19,57.27 580.70,57.91 581.21,58.57 581.73,59.26 582.24,59.98 582.75,60.72 583.26,61.50 583.77,62.31 584.28,63.17 584.79,64.06 585.30,65.00 585.81,66.00 586.32,67.05 586.84,68.17 587.35,69.36 587.86,70.63 588.37,72.01 588.88,73.50 589.39,75.13 589.90,76.92 590.41,78.92 590.92,81.16 591.43,83.75 591.94,86.78 592.46,90.45 592.97,95.13 593.48,101.63 593.99,112.44" fill="none" stroke="#404040" stroke-width="3.0" stroke-dasharray="11.9 10.95" stroke-dashoffset="-1.43" stroke-linejoin="round"/>
<polyline points="84.01,324.79 84.52,306.90 85.03,294.92 85.54,285.66 86.06,278.02 86.57,271.46 87.08,265.68 87.59,260.50 88.10,255.79 88.61,251.46 89.12,247.46 89.63,243.72 90.14,240.21 90.65,236.90 91.17,233.77 91.68,230.80 92.19,227.97 92.70,225.26 93.21,222.67 93.72,220.18 94.23,217.78 94.74,215.48 95.25,213.25 95.76,211.10 96.28,209.01 96.79,206.99 97.30,205.03 97.81,203.13 98.32,201.28 98.83,199.48 99.34,197.72 99.85,196.02 100.36,194.35 100.87,192.72 101.39,191.13 101.90,189.57 102.41,188.05 102.92,186.57 103.43,185.11 103.94,183.68 104.45,182.28 104.96,180.91 105.47,179.57 105.98,178.25 106.49,176.95 107.01,175.68 107.52,174.43 108.03,173.20 108.54,171.99 109.05,170.81 109.56,169.64 110.07,168.49 110.58,167.36 111.09,166.24 111.61,165.14 112.12,164.06 112.63,163.00 113.14,161.95 113.65,160.92 114.16,159.90 114.67,158.89 115.18,157.90 115.69,156.92 116.20,155.95 116.72,155.00 117.23,154.06 117.74,153.13 118.25,152.22 118.76,151.31 119.27,150.42 119.78,149.53 120.29,148.66 120.80,147.80 121.31,146.95 121.82,146.10 122.34,145.27 122.85,144.45 123.36,143.63 123.87,142.83 124.38,142.03 124.89,141.25 125.40,140.47 125.91,139.70 126.42,138.93 126.94,138.18 127.45,137.43 127.96,136.69 128.47,135.96 128.98,135.24 129.49,134.52 130.00,133.81 130.51,133.11 131.02,132.41 131.53,131.72 132.05,131.04 132.56,130.36 133.07,129.69 133.58,129.03 134.09,128.37 134.60,127.72 135.11,127.08 135.62,126.44 136.13,125.80 136.64,125.17 137.16,124.55 137.67,123.94 138.18,123.32 138.69,122.72 139.20,122.12 139.71,121.52 140.22,120.93 140.73,120.34 141.24,119.76 141.75,119.19 142.26,118.61 142.78,118.05 143.29,117.48 143.80,116.93 144.31,116.37 144.82,115.83 145.33,115.28 145.84,114.74 146.35,114.21 146.86,113.67 147.38,113.15 147.89,112.62 148.40,112.11 148.91,111.59 149.42,111.08 149.93,110.57 150.44,110.07 150.95,109.57 151.46,109.07 151.97,108.58 152.49,108.09 153.00,107.61 153.51,107.13 154.02,106.65 154.53,106.17 155.04,105.70 155.55,105.24 156.06,104.77 156.57,104.31 157.08,103.85 157.59,103.40 158.11,102.95 158.62,102.50 159.13,102.06 159.64,101.61 160.15,101.18 160.66,100.74 161.17,100.31 161.68,99.88 162.19,99.45 162.70,99.03 163.22,98.61 163.73,98.19 164.24,97.78 164.75,97.36 165.26,96.95 165.77,96.55 166.28,96.14 166.79,95.74 167.30,95.34 167.81,94.95 168.33,94.55 168.84,94.16 169.35,93.78 169.86,93.39 170.37,93.01 170.88,92.63 171.39,92.25 171.90,91.87 172.41,91.50 172.92,91.13 173.44,90.76 173.95,90.39 174.46,90.03 174.97,89.67 175.48,89.31 175.99,88.95 176.50,88.60 177.01,88.25 177.52,87.90 178.03,87.55 178.55,87.20 179.06,86.86 179.57,86.52 180.08,86.18 180.59,85.84 181.10,85.51 181.61,85.17 182.12,84.84 182.63,84.51 183.15,84.19 183.66,83.86 184.17,83.54 184.68,83.22 185.19,82.90 185.70,82.58 186.21,82.27 186.72,81.96 187.23,81.64 187.74,81.34 188.25,81.03 188.77,80.72 189.28,80.42 189.79,80.12 190.30,79.82 190.81,79.52 191.32,79.22 191.83,78.93 192.34,78.64 192.85,78.35 193.37,78.06 193.88,77.77 194.39,77.48 194.90,77.20 195.41,76.92 195.92,76.64 196.43,76.36 196.94,76.08 197.45,75.80 197.96,75.53 198.47,75.26 198.99,74.99 199.50,74.72 200.01,74.45 200.52,74.19 201.03,73.92 201.54,73.66 202.05,73.40 202.56,73.14 203.07,72.88 203.59,72.62 204.10,72.37 204.61,72.12 205.12,71.86 205.63,71.61 206.14,71.36 206.65,71.12 207.16,70.87 207.67,70.63 208.18,70.38 208.69,70.14 209.21,69.90 209.72,69.66 210.23,69.43 210.74,69.19 211.25,68.96 211.76,68.72 212.27,68.49 212.78,68.26 213.29,68.03 213.81,67.81 214.32,67.58 214.83,67.35 215.34,67.13 215.85,66.91 216.36,66.69 216.87,66.47 217.38,66.25 217.89,66.03 218.40,65.82 218.91,65.60 219.43,65.39 219.94,65.18 220.45,64.97 220.96,64.76 221.47,64.55 221.98,64.35 222.49,64.14 223.00,63.94 223.51,63.73 224.03,63.53 224.54,63.33 225.05,63.13 225.56,62.94 226.07,62.74 226.58,62.54 227.09,62.35 227.60,62.16 228.11,61.97 228.62,61.77 229.14,61.59 229.65,61.40 230.16,61.21 230.67,61.02 231.18,60.84 231.69,60.66 232.20,60.47 232.71,60.29 233.22,60.11 233.73,59.93 234.25,59.76 234.76,59.58 235.27,59.40 235.78,59.23 236.29,59.05 236.80,58.88 237.31,58.71 237.82,58.54 238.33,58.37 238.84,58.20 239.35,58.04 239.87,57.87 240.38,57.71 240.89,57.54 241.40,57.38 241.91,57.22 242.42,57.06 242.93,56.90 243.44,56.74 243.95,56.58 244.47,56.43 244.98,56.27 245.49,56.12 246.00,55.97 246.51,55.81 247.02,55.66 247.53,55.51 248.04,55.36 248.55,55.22 249.06,55.07 249.57,54.92 250.09,54.78 250.60,54.63 251.11,54.49 251.62,54.35 252.13,54.21 252.64,54.07 253.15,53.93 253.66,53.79 254.17,53.65 254.68,53.52 255.20,53.38 255.71,53.25 256.22,53.12 256.73,52.98 257.24,52.85 257.75,52.72 258.26,52.59 258.77,52.47 259.28,52.34 259.79,52.21 260.31,52.09 260.82,51.96 261.33,51.84 261.84,51.72 262.35,51.59 262.86,51.47 263.37,51.35 263.88,51.23 264.39,51.12 264.90,51.00 265.42,50.88 265.93,50.77 266.44,50.65 266.95,50.54 267.46,50.43 267.97,50.32 268.48,50.20 268.99,50.09 269.50,49.99 270.01,49.88 270.53,49.77 271.04,49.66 271.55,49.56 272.06,49.45 272.57,49.35 273.08,49.25 273.59,49.15 274.10,49.04 274.61,48.94 275.12,48.85 275.64,48.75 276.15,48.65 276.66,48.55 277.17,48.46 277.68,48.36 278.19,48.27 278.70,48.17 279.21,48.08 279.72,47.99 280.24,47.90 280.75,47.81 281.26,47.72 281.77,47.63 282.28,47.55 282.79,47.46 283.30,47.37 283.81,47.29 284.32,47.20 284.83,47.12 285.35,47.04 285.86,46.96 286.37,46.88 286.88,46.80 287.39,46.72 287.90,46.64 288.41,46.56 288.92,46.49 289.43,46.41 289.94,46.34 290.45,46.26 290.97,46.19 291.48,46.12 291.99,46.05 292.50,45.98 293.01,45.91 293.52,45.84 294.03,45.77 294.54,45.70 295.05,45.63 295.56,45.57 296.08,45.50 296.59,45.44 297.10,45.37 297.61,45.31 298.12,45.25 298.63,45.19 299.14,45.13 299.65,45.07 300.16,45.01 300.67,44.95 301.19,44.90 301.70,44.84 302.21,44.78 302.72,44.73 303.23,44.68 303.74,44.62 304.25,44.57 304.76,44.52 305.27,44.47 305.78,44.42 306.30,44.37 306.81,44.32 307.32,44.27 307.83,44.23 308.34,44.18 308.85,44.13 309.36,44.09 309.87,44.05 310.38,44.00 310.89,43.96 311.41,43.92 311.92,43.88 312.43,43.84 312.94,43.80 313.45,43.76 313.96,43.72 314.47,43.69 314.98,43.65 315.49,43.62 316.00,43.58 316.52,43.55 317.03,43.51 317.54,43.48 318.05,43.45 318.56,43.42 319.07,43.39 319.58,43.36 320.09,43.33 320.60,43.31 321.12,43.28 321.63,43.25 322.14,43.23 322.65,43.20 323.16,43.18 323.67,43.16 324.18,43.13 324.69,43.11 325.20,43.09 325.71,43.07 326.23,43.05 326.74,43.03 327.25,43.02 327.76,43.00 328.27,42.98 328.78,42.97 329.29,42.95 329.80,42.94 330.31,42.93 330.82,42.91 331.34,42.90 331.85,42.89 332.36,42.88 332.87,42.87 333.38,42.86 333.89,42.85 334.40,42.85 334.91,42.84 335.42,42.83 335.93,42.83 336.44,42.83 336.96,42.82 337.47,42.82 337.98,42.82 338.49,42.82 339.00,42.82 339.51,42.82 340.02,42.82 340.53,42.82 341.04,42.82 341.56,42.83 342.07,42.83 342.58,42.83 343.09,42.84 343.60,42.85 344.11,42.85 344.62,42.86 345.13,42.87 345.64,42.88 346.15,42.89 346.66,42.90 347.18,42.91 347.69,42.93 348.20,42.94 348.71,42.95 349.22,42.97 349.73,42.98 350.24,43.00 350.75,43.02 351.26,43.03 351.77,43.05 352.29,43.07 352.80,43.09 353.31,43.11 353.82,43.13 354.33,43.16 354.84,43.18 355.35,43.20 355.86,43.23 356.37,43.25 356.88,43.28 357.40,43.31 357.91,43.33 358.42,43.36 358.93,43.39 359.44,43.42 359.95,43.45 360.46,43.48 360.97,43.51 361.48,43.55 362.00,43.58 362.51,43.62 363.02,43.65 363.53,43.69 364.04,43.72 364.55,43.76 365.06,43.80 365.57,43.84 366.08,43.88 366.59,43.92 367.11,43.96 367.62,44.00 368.13,44.05 368.64,44.09 369.15,44.13 369.66,44.18 370.17,44.23 370.68,44.27 371.19,44.32 371.70,44.37 372.22,44.42 372.73,44.47 373.24,44.52 373.75,44.57 374.26,44.62 374.77,44.68 375.28,44.73 375.79,44.78 376.30,44.84 376.81,44.90 377.33,44.95 377.84,45.01 378.35,45.07 378.86,45.13 379.37,45.19 379.88,45.25 380.39,45.31 380.90,45.37 381.41,45.44 381.92,45.50 382.44,45.57 382.95,45.63 383.46,45.70 383.97,45.77 384.48,45.84 384.99,45.91 385.50,45.98 386.01,46.05 386.52,46.12 387.03,46.19 387.54,46.26 388.06,46.34 388.57,46.41 389.08,46.49 389.59,46.56 390.10,46.64 390.61,46.72 391.12,46.80 391.63,46.88 392.14,46.96 392.65,47.04 393.17,47.12 393.68,47.20 394.19,47.29 394.70,47.37 395.21,47.46 395.72,47.55 396.23,47.63 396.74,47.72 397.25,47.81 397.76,47.90 398.28,47.99 398.79,48.08 399.30,48.17 399.81,48.27 400.32,48.36 400.83,48.46 401.34,48.55 401.85,48.65 402.36,48.75 402.88,48.85 403.39,48.94 403.90,49.04 404.41,49.15 404.92,49.25 405.43,49.35 405.94,49.45 406.45,49.56 406.96,49.66 407.47,49.77 407.99,49.88 408.50,49.99 409.01,50.09 409.52,50.20 410.03,50.32 410.54,50.43 411.05,50.54 411.56,50.65 412.07,50.77 412.58,50.88 413.09,51.00 413.61,51.12 414.12,51.23 414.63,51.35 415.14,51.47 415.65,51.59 416.16,51.72 416.67,51.84 417.18,51.96 417.69,52.09 418.20,52.21 418.72,52.34 419.23,52.47 419.74,52.59 420.25,52.72 420.76,52.85 421.27,52.98 421.78,53.12 422.29,53.25 422.80,53.38 423.31,53.52 423.83,53.65 424.34,53.79 424.85,53.93 425.36,54.07 425.87,54.21 426.38,54.35 426.89,54.49 427.40,54.63 427.91,54.78 428.42,54.92 428.94,55.07 429.45,55.22 429.96,55.36 430.47,55.51 430.98,55.66 431.49,55.81 432.00,55.97 432.51,56.12 433.02,56.27 433.53,56.43 434.05,56.58 434.56,56.74 435.07,56.90 435.58,57.06 436.09,57.22 436.60,57.38 437.11,57.54 437.62,57.71 438.13,57.87 438.64,58.04 439.16,58.20 439.67,58.37 440.18,58.54 440.69,58.71 441.20,58.88 441.71,59.05 442.22,59.23 442.73,59.40 443.24,59.58 443.75,59.76 444.27,59.93 444.78,60.11 445.29,60.29 445.80,60.47 446.31,60.66 446.82,60.84 447.33,61.02 447.84,61.21 448.35,61.40 448.86,61.59 449.38,61.77 449.89,61.97 450.40,62.16 450.91,62.35 451.42,62.54 451.93,62.74 452.44,62.94 452.95,63.13 453.46,63.33 453.97,63.53 454.49,63.73 455.00,63.94 455.51,64.14 456.02,64.35 456.53,64.55 457.04,64.76 457.55,64.97 458.06,65.18 458.57,65.39 459.08,65.60 459.60,65.82 460.11,66.03 460.62,66.25 461.13,66.47 461.64,66.69 462.15,66.91 462.66,67.13 463.17,67.35 463.68,67.58 464.19,67.81 464.71,68.03 465.22,68.26 465.73,68.49 466.24,68.72 466.75,68.96 467.26,69.19 467.77,69.43 468.28,69.66 468.79,69.90 469.30,70.14 469.82,70.38 470.33,70.63 470.84,70.87 471.35,71.12 471.86,71.36 472.37,71.61 472.88,71.86 473.39,72.12 473.90,72.37 474.41,72.62 474.93,72.88 475.44,73.14 475.95,73.40 476.46,73.66 476.97,73.92 477.48,74.19 477.99,74.45 478.50,74.72 479.01,74.99 479.52,75.26 480.04,75.53 480.55,75.80 481.06,76.08 481.57,76.36 482.08,76.64 482.59,76.92 483.10,77.20 483.61,77.48 484.12,77.77 484.63,78.06 485.15,78.35 485.66,78.64 486.17,78.93 486.68,79.22 487.19,79.52 487.70,79.82 488.21,80.12 488.72,80.42 489.23,80.72 489.75,81.03 490.26,81.34 490.77,81.64 491.28,81.96 491.79,82.27 492.30,82.58 492.81,82.90 493.32,83.22 493.83,83.54 494.34,83.86 494.86,84.19 495.37,84.51 495.88,84.84 496.39,85.17 496.90,85.51 497.41,85.84 497.92,86.18 498.43,86.52 498.94,86.86 499.45,87.20 499.97,87.55 500.48,87.90 500.99,88.25 501.50,88.60 502.01,88.95 502.52,89.31 503.03,89.67 503.54,90.03 504.05,90.39 504.56,90.76 505.07,91.13 505.59,91.50 506.10,91.87 506.61,92.25 507.12,92.63 507.63,93.01 508.14,93.39 508.65,93.78 509.16,94.16 509.67,94.55 510.19,94.95 510.70,95.34 511.21,95.74 511.72,96.14 512.23,96.55 512.74,96.95 513.25,97.36 513.76,97.78 514.27,98.19 514.78,98.61 515.30,99.03 515.81,99.45 516.32,99.88 516.83,100.31 517.34,100.74 517.85,101.18 518.36,101.61 518.87,102.06 519.38,102.50 519.89,102.95 520.40,103.40 520.92,103.85 521.43,104.31 521.94,104.77 522.45,105.24 522.96,105.70 523.47,106.17 523.98,106.65 524.49,107.13 525.00,107.61 525.52,108.09 526.03,108.58 526.54,109.07 527.05,109.57 527.56,110.07 528.07,110.57 528.58,111.08 529.09,111.59 529.60,112.11 530.11,112.62 530.62,113.15 531.14,113.67 531.65,114.21 532.16,114.74 532.67,115.28 533.18,115.83 533.69,116.37 534.20,116.93 534.71,117.48 535.22,118.05 535.74,118.61 536.25,119.19 536.76,119.76 537.27,120.34 537.78,120.93 538.29,121.52 538.80,122.12 539.31,122.72 539.82,123.32 540.33,123.94 540.85,124.55 541.36,125.17 541.87,125.80 542.38,126.44 542.89,127.08 543.40,127.72 543.91,128.37 544.42,129.03 544.93,129.69 545.44,130.36 545.95,131.04 546.47,131.72 546.98,132.41 547.49,133.11 548.00,133.81 548.51,134.52 549.02,135.24 549.53,135.96 550.04,136.69 550.55,137.43 551.07,138.18 551.58,138.93 552.09,139.70 552.60,140.47 553.11,141.25 553.62,142.03 554.13,142.83 554.64,143.63 555.15,144.45 555.66,145.27 556.17,146.10 556.69,146.95 557.20,147.80 557.71,148.66 558.22,149.53 558.73,150.42 559.24,151.31 559.75,152.22 560.26,153.13 560.77,154.06 561.28,155.00 561.80,155.95 562.31,156.92 562.82,157.90 563.33,158.89 563.84,159.90 564.35,160.92 564.86,161.95 565.37,163.00 565.88,164.06 566.39,165.14 566.91,166.24 567.42,167.36 567.93,168.49 568.44,169.64 568.95,170.81 569.46,171.99 569.97,173.20 570.48,174.43 570.99,175.68 571.50,176.95 572.02,178.25 572.53,179.57 573.04,180.91 573.55,182.28 574.06,183.68 574.57,185.11 575.08,186.57 575.59,188.05 576.10,189.57 576.62,191.13 577.13,192.72 577.64,194.35 578.15,196.02 578.66,197.72 579.17,199.48 579.68,201.28 580.19,203.13 580.70,205.03 581.21,206.99 581.73,209.01 582.24,211.10 582.75,213.25 583.26,215.48 583.77,217.78 584.28,220.18 584.79,222.67 585.30,225.26 585.81,227.97 586.32,230.80 586.84,233.77 587.35,236.90 587.86,240.21 588.37,243.72 588.88,247.46 589.39,251.46 589.90,255.79 590.41,260.50 590.92,265.68 591.43,271.46 591.94,278.02 592.46,285.66 592.97,294.92 593.48,306.90 593.99,324.79" fill="none" stroke="#E07E00" stroke-width="3.0" stroke-dasharray="11.9 10.95" stroke-dashoffset="0.0" stroke-linejoin="round"/>
<polyline points="84.01,401.84 84.52,394.54 85.03,388.95 85.54,384.24 86.06,380.10 86.57,376.36 87.08,372.93 87.59,369.74 88.10,366.75 88.61,363.92 89.12,361.24 89.63,358.68 90.14,356.23 90.65,353.87 91.17,351.60 91.68,349.41 92.19,347.29 92.70,345.23 93.21,343.24 93.72,341.30 94.23,339.41 94.74,337.56 95.25,335.76 95.76,334.01 96.28,332.29 96.79,330.61 97.30,328.96 97.81,327.35 98.32,325.76 98.83,324.21 99.34,322.68 99.85,321.19 100.36,319.71 100.87,318.27 101.39,316.84 101.90,315.44 102.41,314.06 102.92,312.70 103.43,311.36 103.94,310.04 104.45,308.74 104.96,307.45 105.47,306.18 105.98,304.93 106.49,303.70 107.01,302.48 107.52,301.28 108.03,300.09 108.54,298.92 109.05,297.76 109.56,296.61 110.07,295.48 110.58,294.35 111.09,293.25 111.61,292.15 112.12,291.07 112.63,289.99 113.14,288.93 113.65,287.88 114.16,286.84 114.67,285.81 115.18,284.79 115.69,283.78 116.20,282.78 116.72,281.79 117.23,280.81 117.74,279.84 118.25,278.87 118.76,277.92 119.27,276.97 119.78,276.04 120.29,275.11 120.80,274.19 121.31,273.27 121.82,272.37 122.34,271.47 122.85,270.58 123.36,269.70 123.87,268.82 124.38,267.96 124.89,267.09 125.40,266.24 125.91,265.39 126.42,264.55 126.94,263.72 127.45,262.89 127.96,262.07 128.47,261.25 128.98,260.44 129.49,259.64 130.00,258.84 130.51,258.05 131.02,257.26 131.53,256.48 132.05,255.71 132.56,254.94 133.07,254.18 133.58,253.42 134.09,252.67 134.60,251.92 135.11,251.18 135.62,250.44 136.13,249.71 136.64,248.98 137.16,248.26 137.67,247.54 138.18,246.83 138.69,246.12 139.20,245.42 139.71,244.72 140.22,244.03 140.73,243.34 141.24,242.65 141.75,241.97 142.26,241.29 142.78,240.62 143.29,239.95 143.80,239.29 144.31,238.63 144.82,237.98 145.33,237.33 145.84,236.68 146.35,236.03 146.86,235.40 147.38,234.76 147.89,234.13 148.40,233.50 148.91,232.88 149.42,232.26 149.93,231.64 150.44,231.03 150.95,230.42 151.46,229.81 151.97,229.21 152.49,228.61 153.00,228.02 153.51,227.43 154.02,226.84 154.53,226.25 155.04,225.67 155.55,225.10 156.06,224.52 156.57,223.95 157.08,223.38 157.59,222.82 158.11,222.25 158.62,221.70 159.13,221.14 159.64,220.59 160.15,220.04 160.66,219.49 161.17,218.95 161.68,218.41 162.19,217.87 162.70,217.34 163.22,216.81 163.73,216.28 164.24,215.76 164.75,215.23 165.26,214.71 165.77,214.20 166.28,213.68 166.79,213.17 167.30,212.66 167.81,212.16 168.33,211.66 168.84,211.16 169.35,210.66 169.86,210.16 170.37,209.67 170.88,209.18 171.39,208.70 171.90,208.21 172.41,207.73 172.92,207.25 173.44,206.77 173.95,206.30 174.46,205.83 174.97,205.36 175.48,204.89 175.99,204.43 176.50,203.97 177.01,203.51 177.52,203.05 178.03,202.60 178.55,202.15 179.06,201.70 179.57,201.25 180.08,200.80 180.59,200.36 181.10,199.92 181.61,199.48 182.12,199.05 182.63,198.61 183.15,198.18 183.66,197.75 184.17,197.33 184.68,196.90 185.19,196.48 185.70,196.06 186.21,195.64 186.72,195.23 187.23,194.81 187.74,194.40 188.25,193.99 188.77,193.59 189.28,193.18 189.79,192.78 190.30,192.38 190.81,191.98 191.32,191.58 191.83,191.19 192.34,190.79 192.85,190.40 193.37,190.01 193.88,189.63 194.39,189.24 194.90,188.86 195.41,188.48 195.92,188.10 196.43,187.73 196.94,187.35 197.45,186.98 197.96,186.61 198.47,186.24 198.99,185.87 199.50,185.51 200.01,185.14 200.52,184.78 201.03,184.42 201.54,184.07 202.05,183.71 202.56,183.36 203.07,183.00 203.59,182.65 204.10,182.31 204.61,181.96 205.12,181.62 205.63,181.27 206.14,180.93 206.65,180.59 207.16,180.25 207.67,179.92 208.18,179.59 208.69,179.25 209.21,178.92 209.72,178.59 210.23,178.27 210.74,177.94 211.25,177.62 211.76,177.30 212.27,176.98 212.78,176.66 213.29,176.34 213.81,176.03 214.32,175.71 214.83,175.40 215.34,175.09 215.85,174.79 216.36,174.48 216.87,174.17 217.38,173.87 217.89,173.57 218.40,173.27 218.91,172.97 219.43,172.67 219.94,172.38 220.45,172.09 220.96,171.79 221.47,171.50 221.98,171.22 222.49,170.93 223.00,170.64 223.51,170.36 224.03,170.08 224.54,169.80 225.05,169.52 225.56,169.24 226.07,168.96 226.58,168.69 227.09,168.42 227.60,168.14 228.11,167.88 228.62,167.61 229.14,167.34 229.65,167.07 230.16,166.81 230.67,166.55 231.18,166.29 231.69,166.03 232.20,165.77 232.71,165.51 233.22,165.26 233.73,165.01 234.25,164.75 234.76,164.50 235.27,164.26 235.78,164.01 236.29,163.76 236.80,163.52 237.31,163.27 237.82,163.03 238.33,162.79 238.84,162.55 239.35,162.32 239.87,162.08 240.38,161.85 240.89,161.61 241.40,161.38 241.91,161.15 242.42,160.92 242.93,160.70 243.44,160.47 243.95,160.24 244.47,160.02 244.98,159.80 245.49,159.58 246.00,159.36 246.51,159.14 247.02,158.93 247.53,158.71 248.04,158.50 248.55,158.29 249.06,158.08 249.57,157.87 250.09,157.66 250.60,157.45 251.11,157.25 251.62,157.04 252.13,156.84 252.64,156.64 253.15,156.44 253.66,156.24 254.17,156.04 254.68,155.85 255.20,155.65 255.71,155.46 256.22,155.27 256.73,155.08 257.24,154.89 257.75,154.70 258.26,154.51 258.77,154.33 259.28,154.14 259.79,153.96 260.31,153.78 260.82,153.60 261.33,153.42 261.84,153.24 262.35,153.06 262.86,152.89 263.37,152.72 263.88,152.54 264.39,152.37 264.90,152.20 265.42,152.03 265.93,151.87 266.44,151.70 266.95,151.54 267.46,151.37 267.97,151.21 268.48,151.05 268.99,150.89 269.50,150.73 270.01,150.57 270.53,150.42 271.04,150.26 271.55,150.11 272.06,149.96 272.57,149.81 273.08,149.66 273.59,149.51 274.10,149.36 274.61,149.21 275.12,149.07 275.64,148.93 276.15,148.78 276.66,148.64 277.17,148.50 277.68,148.36 278.19,148.23 278.70,148.09 279.21,147.95 279.72,147.82 280.24,147.69 280.75,147.56 281.26,147.43 281.77,147.30 282.28,147.17 282.79,147.04 283.30,146.92 283.81,146.79 284.32,146.67 284.83,146.55 285.35,146.43 285.86,146.31 286.37,146.19 286.88,146.07 287.39,145.96 287.90,145.84 288.41,145.73 288.92,145.62 289.43,145.51 289.94,145.40 290.45,145.29 290.97,145.18 291.48,145.07 291.99,144.97 292.50,144.86 293.01,144.76 293.52,144.66 294.03,144.56 294.54,144.46 295.05,144.36 295.56,144.27 296.08,144.17 296.59,144.08 297.10,143.98 297.61,143.89 298.12,143.80 298.63,143.71 299.14,143.62 299.65,143.53 300.16,143.45 300.67,143.36 301.19,143.28 301.70,143.19 302.21,143.11 302.72,143.03 303.23,142.95 303.74,142.87 304.25,142.80 304.76,142.72 305.27,142.64 305.78,142.57 306.30,142.50 306.81,142.43 307.32,142.36 307.83,142.29 308.34,142.22 308.85,142.15 309.36,142.09 309.87,142.02 310.38,141.96 310.89,141.89 311.41,141.83 311.92,141.77 312.43,141.71 312.94,141.66 313.45,141.60 313.96,141.54 314.47,141.49 314.98,141.44 315.49,141.38 316.00,141.33 316.52,141.28 317.03,141.23 317.54,141.19 318.05,141.14 318.56,141.10 319.07,141.05 319.58,141.01 320.09,140.97 320.60,140.92 321.12,140.89 321.63,140.85 322.14,140.81 322.65,140.77 323.16,140.74 323.67,140.70 324.18,140.67 324.69,140.64 325.20,140.61 325.71,140.58 326.23,140.55 326.74,140.52 327.25,140.50 327.76,140.47 328.27,140.45 328.78,140.42 329.29,140.40 329.80,140.38 330.31,140.36 330.82,140.34 331.34,140.33 331.85,140.31 332.36,140.29 332.87,140.28 333.38,140.27 333.89,140.26 334.40,140.25 334.91,140.24 335.42,140.23 335.93,140.22 336.44,140.21 336.96,140.21 337.47,140.21 337.98,140.20 338.49,140.20 339.00,140.20 339.51,140.20 340.02,140.20 340.53,140.21 341.04,140.21 341.56,140.21 342.07,140.22 342.58,140.23 343.09,140.24 343.60,140.25 344.11,140.26 344.62,140.27 345.13,140.28 345.64,140.29 346.15,140.31 346.66,140.33 347.18,140.34 347.69,140.36 348.20,140.38 348.71,140.40 349.22,140.42 349.73,140.45 350.24,140.47 350.75,140.50 351.26,140.52 351.77,140.55 352.29,140.58 352.80,140.61 353.31,140.64 353.82,140.67 354.33,140.70 354.84,140.74 355.35,140.77 355.86,140.81 356.37,140.85 356.88,140.89 357.40,140.92 357.91,140.97 358.42,141.01 358.93,141.05 359.44,141.10 359.95,141.14 360.46,141.19 360.97,141.23 361.48,141.28 362.00,141.33 362.51,141.38 363.02,141.44 363.53,141.49 364.04,141.54 364.55,141.60 365.06,141.66 365.57,141.71 366.08,141.77 366.59,141.83 367.11,141.89 367.62,141.96 368.13,142.02 368.64,142.09 369.15,142.15 369.66,142.22 370.17,142.29 370.68,142.36 371.19,142.43 371.70,142.50 372.22,142.57 372.73,142.64 373.24,142.72 373.75,142.80 374.26,142.87 374.77,142.95 375.28,143.03 375.79,143.11 376.30,143.19 376.81,143.28 377.33,143.36 377.84,143.45 378.35,143.53 378.86,143.62 379.37,143.71 379.88,143.80 380.39,143.89 380.90,143.98 381.41,144.08 381.92,144.17 382.44,144.27 382.95,144.36 383.46,144.46 383.97,144.56 384.48,144.66 384.99,144.76 385.50,144.86 386.01,144.97 386.52,145.07 387.03,145.18 387.54,145.29 388.06,145.40 388.57,145.51 389.08,145.62 389.59,145.73 390.10,145.84 390.61,145.96 391.12,146.07 391.63,146.19 392.14,146.31 392.65,146.43 393.17,146.55 393.68,146.67 394.19,146.79 394.70,146.92 395.21,147.04 395.72,147.17 396.23,147.30 396.74,147.43 397.25,147.56 397.76,147.69 398.28,147.82 398.79,147.95 399.30,148.09 399.81,148.23 400.32,148.36 400.83,148.50 401.34,148.64 401.85,148.78 402.36,148.93 402.88,149.07 403.39,149.21 403.90,149.36 404.41,149.51 404.92,149.66 405.43,149.81 405.94,149.96 406.45,150.11 406.96,150.26 407.47,150.42 407.99,150.57 408.50,150.73 409.01,150.89 409.52,151.05 410.03,151.21 410.54,151.37 411.05,151.54 411.56,151.70 412.07,151.87 412.58,152.03 413.09,152.20 413.61,152.37 414.12,152.54 414.63,152.72 415.14,152.89 415.65,153.06 416.16,153.24 416.67,153.42 417.18,153.60 417.69,153.78 418.20,153.96 418.72,154.14 419.23,154.33 419.74,154.51 420.25,154.70 420.76,154.89 421.27,155.08 421.78,155.27 422.29,155.46 422.80,155.65 423.31,155.85 423.83,156.04 424.34,156.24 424.85,156.44 425.36,156.64 425.87,156.84 426.38,157.04 426.89,157.25 427.40,157.45 427.91,157.66 428.42,157.87 428.94,158.08 429.45,158.29 429.96,158.50 430.47,158.71 430.98,158.93 431.49,159.14 432.00,159.36 432.51,159.58 433.02,159.80 433.53,160.02 434.05,160.24 434.56,160.47 435.07,160.70 435.58,160.92 436.09,161.15 436.60,161.38 437.11,161.61 437.62,161.85 438.13,162.08 438.64,162.32 439.16,162.55 439.67,162.79 440.18,163.03 440.69,163.27 441.20,163.52 441.71,163.76 442.22,164.01 442.73,164.26 443.24,164.50 443.75,164.75 444.27,165.01 444.78,165.26 445.29,165.51 445.80,165.77 446.31,166.03 446.82,166.29 447.33,166.55 447.84,166.81 448.35,167.07 448.86,167.34 449.38,167.61 449.89,167.88 450.40,168.14 450.91,168.42 451.42,168.69 451.93,168.96 452.44,169.24 452.95,169.52 453.46,169.80 453.97,170.08 454.49,170.36 455.00,170.64 455.51,170.93 456.02,171.22 456.53,171.50 457.04,171.79 457.55,172.09 458.06,172.38 458.57,172.67 459.08,172.97 459.60,173.27 460.11,173.57 460.62,173.87 461.13,174.17 461.64,174.48 462.15,174.79 462.66,175.09 463.17,175.40 463.68,175.71 464.19,176.03 464.71,176.34 465.22,176.66 465.73,176.98 466.24,177.30 466.75,177.62 467.26,177.94 467.77,178.27 468.28,178.59 468.79,178.92 469.30,179.25 469.82,179.59 470.33,179.92 470.84,180.25 471.35,180.59 471.86,180.93 472.37,181.27 472.88,181.62 473.39,181.96 473.90,182.31 474.41,182.65 474.93,183.00 475.44,183.36 475.95,183.71 476.46,184.07 476.97,184.42 477.48,184.78 477.99,185.14 478.50,185.51 479.01,185.87 479.52,186.24 480.04,186.61 480.55,186.98 481.06,187.35 481.57,187.73 482.08,188.10 482.59,188.48 483.10,188.86 483.61,189.24 484.12,189.63 484.63,190.01 485.15,190.40 485.66,190.79 486.17,191.19 486.68,191.58 487.19,191.98 487.70,192.38 488.21,192.78 488.72,193.18 489.23,193.59 489.75,193.99 490.26,194.40 490.77,194.81 491.28,195.23 491.79,195.64 492.30,196.06 492.81,196.48 493.32,196.90 493.83,197.33 494.34,197.75 494.86,198.18 495.37,198.61 495.88,199.05 496.39,199.48 496.90,199.92 497.41,200.36 497.92,200.80 498.43,201.25 498.94,201.70 499.45,202.15 499.97,202.60 500.48,203.05 500.99,203.51 501.50,203.97 502.01,204.43 502.52,204.89 503.03,205.36 503.54,205.83 504.05,206.30 504.56,206.77 505.07,207.25 505.59,207.73 506.10,208.21 506.61,208.70 507.12,209.18 507.63,209.67 508.14,210.16 508.65,210.66 509.16,211.16 509.67,211.66 510.19,212.16 510.70,212.66 511.21,213.17 511.72,213.68 512.23,214.20 512.74,214.71 513.25,215.23 513.76,215.76 514.27,216.28 514.78,216.81 515.30,217.34 515.81,217.87 516.32,218.41 516.83,218.95 517.34,219.49 517.85,220.04 518.36,220.59 518.87,221.14 519.38,221.70 519.89,222.25 520.40,222.82 520.92,223.38 521.43,223.95 521.94,224.52 522.45,225.10 522.96,225.67 523.47,226.25 523.98,226.84 524.49,227.43 525.00,228.02 525.52,228.61 526.03,229.21 526.54,229.81 527.05,230.42 527.56,231.03 528.07,231.64 528.58,232.26 529.09,232.88 529.60,233.50 530.11,234.13 530.62,234.76 531.14,235.40 531.65,236.03 532.16,236.68 532.67,237.33 533.18,237.98 533.69,238.63 534.20,239.29 534.71,239.95 535.22,240.62 535.74,241.29 536.25,241.97 536.76,242.65 537.27,243.34 537.78,244.03 538.29,244.72 538.80,245.42 539.31,246.12 539.82,246.83 540.33,247.54 540.85,248.26 541.36,248.98 541.87,249.71 542.38,250.44 542.89,251.18 543.40,251.92 543.91,252.67 544.42,253.42 544.93,254.18 545.44,254.94 545.95,255.71 546.47,256.48 546.98,257.26 547.49,258.05 548.00,258.84 548.51,259.64 549.02,260.44 549.53,261.25 550.04,262.07 550.55,262.89 551.07,263.72 551.58,264.55 552.09,265.39 552.60,266.24 553.11,267.09 553.62,267.96 554.13,268.82 554.64,269.70 555.15,270.58 555.66,271.47 556.17,272.37 556.69,273.27 557.20,274.19 557.71,275.11 558.22,276.04 558.73,276.97 559.24,277.92 559.75,278.87 560.26,279.84 560.77,280.81 561.28,281.79 561.80,282.78 562.31,283.78 562.82,284.79 563.33,285.81 563.84,286.84 564.35,287.88 564.86,288.93 565.37,289.99 565.88,291.07 566.39,292.15 566.91,293.25 567.42,294.35 567.93,295.48 568.44,296.61 568.95,297.76 569.46,298.92 569.97,300.09 570.48,301.28 570.99,302.48 571.50,303.70 572.02,304.93 572.53,306.18 573.04,307.45 573.55,308.74 574.06,310.04 574.57,311.36 575.08,312.70 575.59,314.06 576.10,315.44 576.62,316.84 577.13,318.27 577.64,319.71 578.15,321.19 578.66,322.68 579.17,324.21 579.68,325.76 580.19,327.35 580.70,328.96 581.21,330.61 581.73,332.29 582.24,334.01 582.75,335.76 583.26,337.56 583.77,339.41 584.28,341.30 584.79,343.24 585.30,345.23 585.81,347.29 586.32,349.41 586.84,351.60 587.35,353.87 587.86,356.23 588.37,358.68 588.88,361.24 589.39,363.92 589.90,366.75 590.41,369.74 590.92,372.93 591.43,376.36 591.94,380.10 592.46,384.24 592.97,388.95 593.48,394.54 593.99,401.84" fill="none" stroke="#008000" stroke-width="3.0" stroke-dasharray="11.9 10.95" stroke-dashoffset="-0.32" stroke-linejoin="round"/>
<polyline points="84.01,416.72 84.52,414.83 85.03,413.17 85.54,411.66 86.06,410.23 86.57,408.88 87.08,407.59 87.59,406.35 88.10,405.14 88.61,403.97 89.12,402.84 89.63,401.73 90.14,400.64 90.65,399.58 91.17,398.53 91.68,397.51 92.19,396.51 92.70,395.52 93.21,394.54 93.72,393.59 94.23,392.64 94.74,391.71 95.25,390.79 95.76,389.88 96.28,388.98 96.79,388.09 97.30,387.22 97.81,386.35 98.32,385.49 98.83,384.64 99.34,383.80 99.85,382.97 100.36,382.15 100.87,381.33 101.39,380.52 101.90,379.72 102.41,378.93 102.92,378.14 103.43,377.36 103.94,376.59 104.45,375.82 104.96,375.06 105.47,374.30 105.98,373.55 106.49,372.81 107.01,372.07 107.52,371.33 108.03,370.61 108.54,369.88 109.05,369.16 109.56,368.45 110.07,367.74 110.58,367.04 111.09,366.34 111.61,365.65 112.12,364.96 112.63,364.27 113.14,363.59 113.65,362.92 114.16,362.25 114.67,361.58 115.18,360.91 115.69,360.25 116.20,359.60 116.72,358.95 117.23,358.30 117.74,357.65 118.25,357.01 118.76,356.38 119.27,355.74 119.78,355.11 120.29,354.49 120.80,353.86 121.31,353.24 121.82,352.63 122.34,352.01 122.85,351.40 123.36,350.80 123.87,350.19 124.38,349.59 124.89,349.00 125.40,348.40 125.91,347.81 126.42,347.23 126.94,346.64 127.45,346.06 127.96,345.48 128.47,344.90 128.98,344.33 129.49,343.76 130.00,343.19 130.51,342.63 131.02,342.07 131.53,341.51 132.05,340.95 132.56,340.40 133.07,339.85 133.58,339.30 134.09,338.75 134.60,338.21 135.11,337.67 135.62,337.13 136.13,336.60 136.64,336.06 137.16,335.53 137.67,335.00 138.18,334.48 138.69,333.96 139.20,333.43 139.71,332.92 140.22,332.40 140.73,331.89 141.24,331.37 141.75,330.86 142.26,330.36 142.78,329.85 143.29,329.35 143.80,328.85 144.31,328.35 144.82,327.86 145.33,327.36 145.84,326.87 146.35,326.38 146.86,325.90 147.38,325.41 147.89,324.93 148.40,324.45 148.91,323.97 149.42,323.49 149.93,323.02 150.44,322.55 150.95,322.07 151.46,321.61 151.97,321.14 152.49,320.68 153.00,320.21 153.51,319.75 154.02,319.29 154.53,318.84 155.04,318.38 155.55,317.93 156.06,317.48 156.57,317.03 157.08,316.58 157.59,316.14 158.11,315.70 158.62,315.26 159.13,314.82 159.64,314.38 160.15,313.94 160.66,313.51 161.17,313.08 161.68,312.65 162.19,312.22 162.70,311.79 163.22,311.37 163.73,310.95 164.24,310.52 164.75,310.11 165.26,309.69 165.77,309.27 166.28,308.86 166.79,308.45 167.30,308.03 167.81,307.63 168.33,307.22 168.84,306.81 169.35,306.41 169.86,306.01 170.37,305.61 170.88,305.21 171.39,304.81 171.90,304.42 172.41,304.02 172.92,303.63 173.44,303.24 173.95,302.85 174.46,302.46 174.97,302.08 175.48,301.69 175.99,301.31 176.50,300.93 177.01,300.55 177.52,300.17 178.03,299.80 178.55,299.42 179.06,299.05 179.57,298.68 180.08,298.31 180.59,297.94 181.10,297.58 181.61,297.21 182.12,296.85 182.63,296.49 183.15,296.13 183.66,295.77 184.17,295.41 184.68,295.05 185.19,294.70 185.70,294.35 186.21,294.00 186.72,293.65 187.23,293.30 187.74,292.95 188.25,292.61 188.77,292.26 189.28,291.92 189.79,291.58 190.30,291.24 190.81,290.90 191.32,290.56 191.83,290.23 192.34,289.90 192.85,289.56 193.37,289.23 193.88,288.90 194.39,288.58 194.90,288.25 195.41,287.93 195.92,287.60 196.43,287.28 196.94,286.96 197.45,286.64 197.96,286.32 198.47,286.01 198.99,285.69 199.50,285.38 200.01,285.06 200.52,284.75 201.03,284.44 201.54,284.14 202.05,283.83 202.56,283.52 203.07,283.22 203.59,282.92 204.10,282.62 204.61,282.32 205.12,282.02 205.63,281.72 206.14,281.42 206.65,281.13 207.16,280.84 207.67,280.54 208.18,280.25 208.69,279.96 209.21,279.68 209.72,279.39 210.23,279.10 210.74,278.82 211.25,278.54 211.76,278.26 212.27,277.98 212.78,277.70 213.29,277.42 213.81,277.14 214.32,276.87 214.83,276.60 215.34,276.32 215.85,276.05 216.36,275.78 216.87,275.52 217.38,275.25 217.89,274.98 218.40,274.72 218.91,274.46 219.43,274.19 219.94,273.93 220.45,273.67 220.96,273.42 221.47,273.16 221.98,272.90 222.49,272.65 223.00,272.40 223.51,272.14 224.03,271.89 224.54,271.64 225.05,271.40 225.56,271.15 226.07,270.90 226.58,270.66 227.09,270.42 227.60,270.18 228.11,269.93 228.62,269.70 229.14,269.46 229.65,269.22 230.16,268.98 230.67,268.75 231.18,268.52 231.69,268.29 232.20,268.05 232.71,267.83 233.22,267.60 233.73,267.37 234.25,267.14 234.76,266.92 235.27,266.70 235.78,266.47 236.29,266.25 236.80,266.03 237.31,265.81 237.82,265.60 238.33,265.38 238.84,265.17 239.35,264.95 239.87,264.74 240.38,264.53 240.89,264.32 241.40,264.11 241.91,263.90 242.42,263.69 242.93,263.49 243.44,263.28 243.95,263.08 244.47,262.88 244.98,262.68 245.49,262.48 246.00,262.28 246.51,262.08 247.02,261.89 247.53,261.69 248.04,261.50 248.55,261.30 249.06,261.11 249.57,260.92 250.09,260.73 250.60,260.55 251.11,260.36 251.62,260.17 252.13,259.99 252.64,259.80 253.15,259.62 253.66,259.44 254.17,259.26 254.68,259.08 255.20,258.90 255.71,258.73 256.22,258.55 256.73,258.38 257.24,258.21 257.75,258.03 258.26,257.86 258.77,257.69 259.28,257.52 259.79,257.36 260.31,257.19 260.82,257.03 261.33,256.86 261.84,256.70 262.35,256.54 262.86,256.38 263.37,256.22 263.88,256.06 264.39,255.90 264.90,255.75 265.42,255.59 265.93,255.44 266.44,255.28 266.95,255.13 267.46,254.98 267.97,254.83 268.48,254.68 268.99,254.54 269.50,254.39 270.01,254.25 270.53,254.10 271.04,253.96 271.55,253.82 272.06,253.68 272.57,253.54 273.08,253.40 273.59,253.26 274.10,253.13 274.61,252.99 275.12,252.86 275.64,252.72 276.15,252.59 276.66,252.46 277.17,252.33 277.68,252.20 278.19,252.08 278.70,251.95 279.21,251.83 279.72,251.70 280.24,251.58 280.75,251.46 281.26,251.34 281.77,251.22 282.28,251.10 282.79,250.98 283.30,250.87 283.81,250.75 284.32,250.64 284.83,250.52 285.35,250.41 285.86,250.30 286.37,250.19 286.88,250.08 287.39,249.97 287.90,249.87 288.41,249.76 288.92,249.66 289.43,249.55 289.94,249.45 290.45,249.35 290.97,249.25 291.48,249.15 291.99,249.05 292.50,248.96 293.01,248.86 293.52,248.77 294.03,248.67 294.54,248.58 295.05,248.49 295.56,248.40 296.08,248.31 296.59,248.22 297.10,248.13 297.61,248.05 298.12,247.96 298.63,247.88 299.14,247.80 299.65,247.71 300.16,247.63 300.67,247.55 301.19,247.47 301.70,247.40 302.21,247.32 302.72,247.24 303.23,247.17 303.74,247.10 304.25,247.03 304.76,246.95 305.27,246.88 305.78,246.81 306.30,246.75 306.81,246.68 307.32,246.61 307.83,246.55 308.34,246.49 308.85,246.42 309.36,246.36 309.87,246.30 310.38,246.24 310.89,246.18 311.41,246.13 311.92,246.07 312.43,246.01 312.94,245.96 313.45,245.91 313.96,245.85 314.47,245.80 314.98,245.75 315.49,245.70 316.00,245.66 316.52,245.61 317.03,245.56 317.54,245.52 318.05,245.48 318.56,245.43 319.07,245.39 319.58,245.35 320.09,245.31 320.60,245.27 321.12,245.24 321.63,245.20 322.14,245.16 322.65,245.13 323.16,245.10 323.67,245.07 324.18,245.03 324.69,245.00 325.20,244.98 325.71,244.95 326.23,244.92 326.74,244.90 327.25,244.87 327.76,244.85 328.27,244.82 328.78,244.80 329.29,244.78 329.80,244.76 330.31,244.74 330.82,244.73 331.34,244.71 331.85,244.70 332.36,244.68 332.87,244.67 333.38,244.66 333.89,244.65 334.40,244.64 334.91,244.63 335.42,244.62 335.93,244.61 336.44,244.61 336.96,244.60 337.47,244.60 337.98,244.60 338.49,244.59 339.00,244.59 339.51,244.59 340.02,244.60 340.53,244.60 341.04,244.60 341.56,244.61 342.07,244.61 342.58,244.62 343.09,244.63 343.60,244.64 344.11,244.65 344.62,244.66 345.13,244.67 345.64,244.68 346.15,244.70 346.66,244.71 347.18,244.73 347.69,244.74 348.20,244.76 348.71,244.78 349.22,244.80 349.73,244.82 350.24,244.85 350.75,244.87 351.26,244.90 351.77,244.92 352.29,244.95 352.80,244.98 353.31,245.00 353.82,245.03 354.33,245.07 354.84,245.10 355.35,245.13 355.86,245.16 356.37,245.20 356.88,245.24 357.40,245.27 357.91,245.31 358.42,245.35 358.93,245.39 359.44,245.43 359.95,245.48 360.46,245.52 360.97,245.56 361.48,245.61 362.00,245.66 362.51,245.70 363.02,245.75 363.53,245.80 364.04,245.85 364.55,245.91 365.06,245.96 365.57,246.01 366.08,246.07 366.59,246.13 367.11,246.18 367.62,246.24 368.13,246.30 368.64,246.36 369.15,246.42 369.66,246.49 370.17,246.55 370.68,246.61 371.19,246.68 371.70,246.75 372.22,246.81 372.73,246.88 373.24,246.95 373.75,247.03 374.26,247.10 374.77,247.17 375.28,247.24 375.79,247.32 376.30,247.40 376.81,247.47 377.33,247.55 377.84,247.63 378.35,247.71 378.86,247.80 379.37,247.88 379.88,247.96 380.39,248.05 380.90,248.13 381.41,248.22 381.92,248.31 382.44,248.40 382.95,248.49 383.46,248.58 383.97,248.67 384.48,248.77 384.99,248.86 385.50,248.96 386.01,249.05 386.52,249.15 387.03,249.25 387.54,249.35 388.06,249.45 388.57,249.55 389.08,249.66 389.59,249.76 390.10,249.87 390.61,249.97 391.12,250.08 391.63,250.19 392.14,250.30 392.65,250.41 393.17,250.52 393.68,250.64 394.19,250.75 394.70,250.87 395.21,250.98 395.72,251.10 396.23,251.22 396.74,251.34 397.25,251.46 397.76,251.58 398.28,251.70 398.79,251.83 399.30,251.95 399.81,252.08 400.32,252.20 400.83,252.33 401.34,252.46 401.85,252.59 402.36,252.72 402.88,252.86 403.39,252.99 403.90,253.13 404.41,253.26 404.92,253.40 405.43,253.54 405.94,253.68 406.45,253.82 406.96,253.96 407.47,254.10 407.99,254.25 408.50,254.39 409.01,254.54 409.52,254.68 410.03,254.83 410.54,254.98 411.05,255.13 411.56,255.28 412.07,255.44 412.58,255.59 413.09,255.75 413.61,255.90 414.12,256.06 414.63,256.22 415.14,256.38 415.65,256.54 416.16,256.70 416.67,256.86 417.18,257.03 417.69,257.19 418.20,257.36 418.72,257.52 419.23,257.69 419.74,257.86 420.25,258.03 420.76,258.21 421.27,258.38 421.78,258.55 422.29,258.73 422.80,258.90 423.31,259.08 423.83,259.26 424.34,259.44 424.85,259.62 425.36,259.80 425.87,259.99 426.38,260.17 426.89,260.36 427.40,260.55 427.91,260.73 428.42,260.92 428.94,261.11 429.45,261.30 429.96,261.50 430.47,261.69 430.98,261.89 431.49,262.08 432.00,262.28 432.51,262.48 433.02,262.68 433.53,262.88 434.05,263.08 434.56,263.28 435.07,263.49 435.58,263.69 436.09,263.90 436.60,264.11 437.11,264.32 437.62,264.53 438.13,264.74 438.64,264.95 439.16,265.17 439.67,265.38 440.18,265.60 440.69,265.81 441.20,266.03 441.71,266.25 442.22,266.47 442.73,266.70 443.24,266.92 443.75,267.14 444.27,267.37 444.78,267.60 445.29,267.83 445.80,268.05 446.31,268.29 446.82,268.52 447.33,268.75 447.84,268.98 448.35,269.22 448.86,269.46 449.38,269.70 449.89,269.93 450.40,270.18 450.91,270.42 451.42,270.66 451.93,270.90 452.44,271.15 452.95,271.40 453.46,271.64 453.97,271.89 454.49,272.14 455.00,272.40 455.51,272.65 456.02,272.90 456.53,273.16 457.04,273.42 457.55,273.67 458.06,273.93 458.57,274.19 459.08,274.46 459.60,274.72 460.11,274.98 460.62,275.25 461.13,275.52 461.64,275.78 462.15,276.05 462.66,276.32 463.17,276.60 463.68,276.87 464.19,277.14 464.71,277.42 465.22,277.70 465.73,277.98 466.24,278.26 466.75,278.54 467.26,278.82 467.77,279.10 468.28,279.39 468.79,279.68 469.30,279.96 469.82,280.25 470.33,280.54 470.84,280.84 471.35,281.13 471.86,281.42 472.37,281.72 472.88,282.02 473.39,282.32 473.90,282.62 474.41,282.92 474.93,283.22 475.44,283.52 475.95,283.83 476.46,284.14 476.97,284.44 477.48,284.75 477.99,285.06 478.50,285.38 479.01,285.69 479.52,286.01 480.04,286.32 480.55,286.64 481.06,286.96 481.57,287.28 482.08,287.60 482.59,287.93 483.10,288.25 483.61,288.58 484.12,288.90 484.63,289.23 485.15,289.56 485.66,289.90 486.17,290.23 486.68,290.56 487.19,290.90 487.70,291.24 488.21,291.58 488.72,291.92 489.23,292.26 489.75,292.61 490.26,292.95 490.77,293.30 491.28,293.65 491.79,294.00 492.30,294.35 492.81,294.70 493.32,295.05 493.83,295.41 494.34,295.77 494.86,296.13 495.37,296.49 495.88,296.85 496.39,297.21 496.90,297.58 497.41,297.94 497.92,298.31 498.43,298.68 498.94,299.05 499.45,299.42 499.97,299.80 500.48,300.17 500.99,300.55 501.50,300.93 502.01,301.31 502.52,301.69 503.03,302.08 503.54,302.46 504.05,302.85 504.56,303.24 505.07,303.63 505.59,304.02 506.10,304.42 506.61,304.81 507.12,305.21 507.63,305.61 508.14,306.01 508.65,306.41 509.16,306.81 509.67,307.22 510.19,307.63 510.70,308.03 511.21,308.45 511.72,308.86 512.23,309.27 512.74,309.69 513.25,310.11 513.76,310.52 514.27,310.95 514.78,311.37 515.30,311.79 515.81,312.22 516.32,312.65 516.83,313.08 517.34,313.51 517.85,313.94 518.36,314.38 518.87,314.82 519.38,315.26 519.89,315.70 520.40,316.14 520.92,316.58 521.43,317.03 521.94,317.48 522.45,317.93 522.96,318.38 523.47,318.84 523.98,319.29 524.49,319.75 525.00,320.21 525.52,320.68 526.03,321.14 526.54,321.61 527.05,322.07 527.56,322.55 528.07,323.02 528.58,323.49 529.09,323.97 529.60,324.45 530.11,324.93 530.62,325.41 531.14,325.90 531.65,326.38 532.16,326.87 532.67,327.36 533.18,327.86 533.69,328.35 534.20,328.85 534.71,329.35 535.22,329.85 535.74,330.36 536.25,330.86 536.76,331.37 537.27,331.89 537.78,332.40 538.29,332.92 538.80,333.43 539.31,333.96 539.82,334.48 540.33,335.00 540.85,335.53 541.36,336.06 541.87,336.60 542.38,337.13 542.89,337.67 543.40,338.21 543.91,338.75 544.42,339.30 544.93,339.85 545.44,340.40 545.95,340.95 546.47,341.51 546.98,342.07 547.49,342.63 548.00,343.19 548.51,343.76 549.02,344.33 549.53,344.90 550.04,345.48 550.55,346.06 551.07,346.64 551.58,347.23 552.09,347.81 552.60,348.40 553.11,349.00 553.62,349.59 554.13,350.19 554.64,350.80 555.15,351.40 555.66,352.01 556.17,352.63 556.69,353.24 557.20,353.86 557.71,354.49 558.22,355.11 558.73,355.74 559.24,356.38 559.75,357.01 560.26,357.65 560.77,358.30 561.28,358.95 561.80,359.60 562.31,360.25 562.82,360.91 563.33,361.58 563.84,362.25 564.35,362.92 564.86,363.59 565.37,364.27 565.88,364.96 566.39,365.65 566.91,366.34 567.42,367.04 567.93,367.74 568.44,368.45 568.95,369.16 569.46,369.88 569.97,370.61 570.48,371.33 570.99,372.07 571.50,372.81 572.02,373.55 572.53,374.30 573.04,375.06 573.55,375.82 574.06,376.59 574.57,377.36 575.08,378.14 575.59,378.93 576.10,379.72 576.62,380.52 577.13,381.33 577.64,382.15 578.15,382.97 578.66,383.80 579.17,384.64 579.68,385.49 580.19,386.35 580.70,387.22 581.21,388.09 581.73,388.98 582.24,389.88 582.75,390.79 583.26,391.71 583.77,392.64 584.28,393.59 584.79,394.54 585.30,395.52 585.81,396.51 586.32,397.51 586.84,398.53 587.35,399.58 587.86,400.64 588.37,401.73 588.88,402.84 589.39,403.97 589.90,405.14 590.41,406.35 590.92,407.59 591.43,408.88 591.94,410.23 592.46,411.66 592.97,413.17 593.48,414.83 593.99,416.72" fill="none" stroke="#FA0A64" stroke-width="3.0" stroke-dasharray="11.9 10.95" stroke-dashoffset="-4.6" stroke-linejoin="round"/>
<polyline points="84.01,419.11 84.52,418.72 85.03,418.33 85.54,417.94 86.06,417.55 86.57,417.17 87.08,416.78 87.59,416.40 88.10,416.01 88.61,415.63 89.12,415.25 89.63,414.86 90.14,414.48 90.65,414.10 91.17,413.72 91.68,413.34 92.19,412.97 92.70,412.59 93.21,412.21 93.72,411.84 94.23,411.46 94.74,411.09 95.25,410.71 95.76,410.34 96.28,409.97 96.79,409.60 97.30,409.23 97.81,408.86 98.32,408.49 98.83,408.12 99.34,407.75 99.85,407.39 100.36,407.02 100.87,406.66 101.39,406.29 101.90,405.93 102.41,405.57 102.92,405.21 103.43,404.84 103.94,404.48 104.45,404.13 104.96,403.77 105.47,403.41 105.98,403.05 106.49,402.70 107.01,402.34 107.52,401.99 108.03,401.63 108.54,401.28 109.05,400.93 109.56,400.58 110.07,400.22 110.58,399.87 111.09,399.53 111.61,399.18 112.12,398.83 112.63,398.48 113.14,398.14 113.65,397.79 114.16,397.45 114.67,397.10 115.18,396.76 115.69,396.42 116.20,396.08 116.72,395.74 117.23,395.40 117.74,395.06 118.25,394.72 118.76,394.38 119.27,394.04 119.78,393.71 120.29,393.37 120.80,393.04 121.31,392.71 121.82,392.37 122.34,392.04 122.85,391.71 123.36,391.38 123.87,391.05 124.38,390.72 124.89,390.39 125.40,390.07 125.91,389.74 126.42,389.41 126.94,389.09 127.45,388.76 127.96,388.44 128.47,388.12 128.98,387.80 129.49,387.48 130.00,387.16 130.51,386.84 131.02,386.52 131.53,386.20 132.05,385.88 132.56,385.57 133.07,385.25 133.58,384.94 134.09,384.62 134.60,384.31 135.11,384.00 135.62,383.68 136.13,383.37 136.64,383.06 137.16,382.75 137.67,382.45 138.18,382.14 138.69,381.83 139.20,381.52 139.71,381.22 140.22,380.91 140.73,380.61 141.24,380.31 141.75,380.01 142.26,379.70 142.78,379.40 143.29,379.10 143.80,378.80 144.31,378.51 144.82,378.21 145.33,377.91 145.84,377.62 146.35,377.32 146.86,377.03 147.38,376.73 147.89,376.44 148.40,376.15 148.91,375.86 149.42,375.57 149.93,375.28 150.44,374.99 150.95,374.70 151.46,374.41 151.97,374.12 152.49,373.84 153.00,373.55 153.51,373.27 154.02,372.99 154.53,372.70 155.04,372.42 155.55,372.14 156.06,371.86 156.57,371.58 157.08,371.30 157.59,371.02 158.11,370.75 158.62,370.47 159.13,370.19 159.64,369.92 160.15,369.64 160.66,369.37 161.17,369.10 161.68,368.83 162.19,368.56 162.70,368.29 163.22,368.02 163.73,367.75 164.24,367.48 164.75,367.21 165.26,366.95 165.77,366.68 166.28,366.42 166.79,366.15 167.30,365.89 167.81,365.63 168.33,365.37 168.84,365.10 169.35,364.84 169.86,364.59 170.37,364.33 170.88,364.07 171.39,363.81 171.90,363.56 172.41,363.30 172.92,363.05 173.44,362.79 173.95,362.54 174.46,362.29 174.97,362.04 175.48,361.79 175.99,361.54 176.50,361.29 177.01,361.04 177.52,360.79 178.03,360.54 178.55,360.30 179.06,360.05 179.57,359.81 180.08,359.56 180.59,359.32 181.10,359.08 181.61,358.84 182.12,358.60 182.63,358.36 183.15,358.12 183.66,357.88 184.17,357.64 184.68,357.41 185.19,357.17 185.70,356.94 186.21,356.70 186.72,356.47 187.23,356.24 187.74,356.00 188.25,355.77 188.77,355.54 189.28,355.31 189.79,355.08 190.30,354.86 190.81,354.63 191.32,354.40 191.83,354.18 192.34,353.95 192.85,353.73 193.37,353.51 193.88,353.28 194.39,353.06 194.90,352.84 195.41,352.62 195.92,352.40 196.43,352.18 196.94,351.96 197.45,351.75 197.96,351.53 198.47,351.32 198.99,351.10 199.50,350.89 200.01,350.67 200.52,350.46 201.03,350.25 201.54,350.04 202.05,349.83 202.56,349.62 203.07,349.41 203.59,349.20 204.10,349.00 204.61,348.79 205.12,348.59 205.63,348.38 206.14,348.18 206.65,347.98 207.16,347.77 207.67,347.57 208.18,347.37 208.69,347.17 209.21,346.97 209.72,346.77 210.23,346.58 210.74,346.38 211.25,346.18 211.76,345.99 212.27,345.79 212.78,345.60 213.29,345.41 213.81,345.22 214.32,345.02 214.83,344.83 215.34,344.64 215.85,344.46 216.36,344.27 216.87,344.08 217.38,343.89 217.89,343.71 218.40,343.52 218.91,343.34 219.43,343.16 219.94,342.97 220.45,342.79 220.96,342.61 221.47,342.43 221.98,342.25 222.49,342.07 223.00,341.89 223.51,341.72 224.03,341.54 224.54,341.36 225.05,341.19 225.56,341.02 226.07,340.84 226.58,340.67 227.09,340.50 227.60,340.33 228.11,340.16 228.62,339.99 229.14,339.82 229.65,339.65 230.16,339.49 230.67,339.32 231.18,339.15 231.69,338.99 232.20,338.83 232.71,338.66 233.22,338.50 233.73,338.34 234.25,338.18 234.76,338.02 235.27,337.86 235.78,337.70 236.29,337.54 236.80,337.39 237.31,337.23 237.82,337.07 238.33,336.92 238.84,336.77 239.35,336.61 239.87,336.46 240.38,336.31 240.89,336.16 241.40,336.01 241.91,335.86 242.42,335.71 242.93,335.57 243.44,335.42 243.95,335.27 244.47,335.13 244.98,334.98 245.49,334.84 246.00,334.70 246.51,334.56 247.02,334.41 247.53,334.27 248.04,334.13 248.55,334.00 249.06,333.86 249.57,333.72 250.09,333.58 250.60,333.45 251.11,333.31 251.62,333.18 252.13,333.05 252.64,332.91 253.15,332.78 253.66,332.65 254.17,332.52 254.68,332.39 255.20,332.26 255.71,332.13 256.22,332.01 256.73,331.88 257.24,331.76 257.75,331.63 258.26,331.51 258.77,331.38 259.28,331.26 259.79,331.14 260.31,331.02 260.82,330.90 261.33,330.78 261.84,330.66 262.35,330.54 262.86,330.43 263.37,330.31 263.88,330.19 264.39,330.08 264.90,329.97 265.42,329.85 265.93,329.74 266.44,329.63 266.95,329.52 267.46,329.41 267.97,329.30 268.48,329.19 268.99,329.08 269.50,328.98 270.01,328.87 270.53,328.77 271.04,328.66 271.55,328.56 272.06,328.46 272.57,328.35 273.08,328.25 273.59,328.15 274.10,328.05 274.61,327.95 275.12,327.85 275.64,327.76 276.15,327.66 276.66,327.56 277.17,327.47 277.68,327.38 278.19,327.28 278.70,327.19 279.21,327.10 279.72,327.01 280.24,326.92 280.75,326.83 281.26,326.74 281.77,326.65 282.28,326.56 282.79,326.48 283.30,326.39 283.81,326.31 284.32,326.22 284.83,326.14 285.35,326.06 285.86,325.97 286.37,325.89 286.88,325.81 287.39,325.73 287.90,325.66 288.41,325.58 288.92,325.50 289.43,325.42 289.94,325.35 290.45,325.27 290.97,325.20 291.48,325.13 291.99,325.05 292.50,324.98 293.01,324.91 293.52,324.84 294.03,324.77 294.54,324.70 295.05,324.64 295.56,324.57 296.08,324.50 296.59,324.44 297.10,324.37 297.61,324.31 298.12,324.25 298.63,324.19 299.14,324.12 299.65,324.06 300.16,324.00 300.67,323.94 301.19,323.89 301.70,323.83 302.21,323.77 302.72,323.72 303.23,323.66 303.74,323.61 304.25,323.55 304.76,323.50 305.27,323.45 305.78,323.40 306.30,323.35 306.81,323.30 307.32,323.25 307.83,323.20 308.34,323.15 308.85,323.11 309.36,323.06 309.87,323.02 310.38,322.97 310.89,322.93 311.41,322.89 311.92,322.84 312.43,322.80 312.94,322.76 313.45,322.72 313.96,322.68 314.47,322.65 314.98,322.61 315.49,322.57 316.00,322.54 316.52,322.50 317.03,322.47 317.54,322.43 318.05,322.40 318.56,322.37 319.07,322.34 319.58,322.31 320.09,322.28 320.60,322.25 321.12,322.22 321.63,322.20 322.14,322.17 322.65,322.15 323.16,322.12 323.67,322.10 324.18,322.07 324.69,322.05 325.20,322.03 325.71,322.01 326.23,321.99 326.74,321.97 327.25,321.95 327.76,321.93 328.27,321.92 328.78,321.90 329.29,321.89 329.80,321.87 330.31,321.86 330.82,321.85 331.34,321.83 331.85,321.82 332.36,321.81 332.87,321.80 333.38,321.79 333.89,321.78 334.40,321.78 334.91,321.77 335.42,321.76 335.93,321.76 336.44,321.75 336.96,321.75 337.47,321.75 337.98,321.75 338.49,321.75 339.00,321.75 339.51,321.75 340.02,321.75 340.53,321.75 341.04,321.75 341.56,321.75 342.07,321.76 342.58,321.76 343.09,321.77 343.60,321.78 344.11,321.78 344.62,321.79 345.13,321.80 345.64,321.81 346.15,321.82 346.66,321.83 347.18,321.85 347.69,321.86 348.20,321.87 348.71,321.89 349.22,321.90 349.73,321.92 350.24,321.93 350.75,321.95 351.26,321.97 351.77,321.99 352.29,322.01 352.80,322.03 353.31,322.05 353.82,322.07 354.33,322.10 354.84,322.12 355.35,322.15 355.86,322.17 356.37,322.20 356.88,322.22 357.40,322.25 357.91,322.28 358.42,322.31 358.93,322.34 359.44,322.37 359.95,322.40 360.46,322.43 360.97,322.47 361.48,322.50 362.00,322.54 362.51,322.57 363.02,322.61 363.53,322.65 364.04,322.68 364.55,322.72 365.06,322.76 365.57,322.80 366.08,322.84 366.59,322.89 367.11,322.93 367.62,322.97 368.13,323.02 368.64,323.06 369.15,323.11 369.66,323.15 370.17,323.20 370.68,323.25 371.19,323.30 371.70,323.35 372.22,323.40 372.73,323.45 373.24,323.50 373.75,323.55 374.26,323.61 374.77,323.66 375.28,323.72 375.79,323.77 376.30,323.83 376.81,323.89 377.33,323.94 377.84,324.00 378.35,324.06 378.86,324.12 379.37,324.19 379.88,324.25 380.39,324.31 380.90,324.37 381.41,324.44 381.92,324.50 382.44,324.57 382.95,324.64 383.46,324.70 383.97,324.77 384.48,324.84 384.99,324.91 385.50,324.98 386.01,325.05 386.52,325.13 387.03,325.20 387.54,325.27 388.06,325.35 388.57,325.42 389.08,325.50 389.59,325.58 390.10,325.66 390.61,325.73 391.12,325.81 391.63,325.89 392.14,325.97 392.65,326.06 393.17,326.14 393.68,326.22 394.19,326.31 394.70,326.39 395.21,326.48 395.72,326.56 396.23,326.65 396.74,326.74 397.25,326.83 397.76,326.92 398.28,327.01 398.79,327.10 399.30,327.19 399.81,327.28 400.32,327.38 400.83,327.47 401.34,327.56 401.85,327.66 402.36,327.76 402.88,327.85 403.39,327.95 403.90,328.05 404.41,328.15 404.92,328.25 405.43,328.35 405.94,328.46 406.45,328.56 406.96,328.66 407.47,328.77 407.99,328.87 408.50,328.98 409.01,329.08 409.52,329.19 410.03,329.30 410.54,329.41 411.05,329.52 411.56,329.63 412.07,329.74 412.58,329.85 413.09,329.97 413.61,330.08 414.12,330.19 414.63,330.31 415.14,330.43 415.65,330.54 416.16,330.66 416.67,330.78 417.18,330.90 417.69,331.02 418.20,331.14 418.72,331.26 419.23,331.38 419.74,331.51 420.25,331.63 420.76,331.76 421.27,331.88 421.78,332.01 422.29,332.13 422.80,332.26 423.31,332.39 423.83,332.52 424.34,332.65 424.85,332.78 425.36,332.91 425.87,333.05 426.38,333.18 426.89,333.31 427.40,333.45 427.91,333.58 428.42,333.72 428.94,333.86 429.45,334.00 429.96,334.13 430.47,334.27 430.98,334.41 431.49,334.56 432.00,334.70 432.51,334.84 433.02,334.98 433.53,335.13 434.05,335.27 434.56,335.42 435.07,335.57 435.58,335.71 436.09,335.86 436.60,336.01 437.11,336.16 437.62,336.31 438.13,336.46 438.64,336.61 439.16,336.77 439.67,336.92 440.18,337.07 440.69,337.23 441.20,337.39 441.71,337.54 442.22,337.70 442.73,337.86 443.24,338.02 443.75,338.18 444.27,338.34 444.78,338.50 445.29,338.66 445.80,338.83 446.31,338.99 446.82,339.15 447.33,339.32 447.84,339.49 448.35,339.65 448.86,339.82 449.38,339.99 449.89,340.16 450.40,340.33 450.91,340.50 451.42,340.67 451.93,340.84 452.44,341.02 452.95,341.19 453.46,341.36 453.97,341.54 454.49,341.72 455.00,341.89 455.51,342.07 456.02,342.25 456.53,342.43 457.04,342.61 457.55,342.79 458.06,342.97 458.57,343.16 459.08,343.34 459.60,343.52 460.11,343.71 460.62,343.89 461.13,344.08 461.64,344.27 462.15,344.46 462.66,344.64 463.17,344.83 463.68,345.02 464.19,345.22 464.71,345.41 465.22,345.60 465.73,345.79 466.24,345.99 466.75,346.18 467.26,346.38 467.77,346.58 468.28,346.77 468.79,346.97 469.30,347.17 469.82,347.37 470.33,347.57 470.84,347.77 471.35,347.98 471.86,348.18 472.37,348.38 472.88,348.59 473.39,348.79 473.90,349.00 474.41,349.20 474.93,349.41 475.44,349.62 475.95,349.83 476.46,350.04 476.97,350.25 477.48,350.46 477.99,350.67 478.50,350.89 479.01,351.10 479.52,351.32 480.04,351.53 480.55,351.75 481.06,351.96 481.57,352.18 482.08,352.40 482.59,352.62 483.10,352.84 483.61,353.06 484.12,353.28 484.63,353.51 485.15,353.73 485.66,353.95 486.17,354.18 486.68,354.40 487.19,354.63 487.70,354.86 488.21,355.08 488.72,355.31 489.23,355.54 489.75,355.77 490.26,356.00 490.77,356.24 491.28,356.47 491.79,356.70 492.30,356.94 492.81,357.17 493.32,357.41 493.83,357.64 494.34,357.88 494.86,358.12 495.37,358.36 495.88,358.60 496.39,358.84 496.90,359.08 497.41,359.32 497.92,359.56 498.43,359.81 498.94,360.05 499.45,360.30 499.97,360.54 500.48,360.79 500.99,361.04 501.50,361.29 502.01,361.54 502.52,361.79 503.03,362.04 503.54,362.29 504.05,362.54 504.56,362.79 505.07,363.05 505.59,363.30 506.10,363.56 506.61,363.81 507.12,364.07 507.63,364.33 508.14,364.59 508.65,364.84 509.16,365.10 509.67,365.37 510.19,365.63 510.70,365.89 511.21,366.15 511.72,366.42 512.23,366.68 512.74,366.95 513.25,367.21 513.76,367.48 514.27,367.75 514.78,368.02 515.30,368.29 515.81,368.56 516.32,368.83 516.83,369.10 517.34,369.37 517.85,369.64 518.36,369.92 518.87,370.19 519.38,370.47 519.89,370.75 520.40,371.02 520.92,371.30 521.43,371.58 521.94,371.86 522.45,372.14 522.96,372.42 523.47,372.70 523.98,372.99 524.49,373.27 525.00,373.55 525.52,373.84 526.03,374.12 526.54,374.41 527.05,374.70 527.56,374.99 528.07,375.28 528.58,375.57 529.09,375.86 529.60,376.15 530.11,376.44 530.62,376.73 531.14,377.03 531.65,377.32 532.16,377.62 532.67,377.91 533.18,378.21 533.69,378.51 534.20,378.80 534.71,379.10 535.22,379.40 535.74,379.70 536.25,380.01 536.76,380.31 537.27,380.61 537.78,380.91 538.29,381.22 538.80,381.52 539.31,381.83 539.82,382.14 540.33,382.45 540.85,382.75 541.36,383.06 541.87,383.37 542.38,383.68 542.89,384.00 543.40,384.31 543.91,384.62 544.42,384.94 544.93,385.25 545.44,385.57 545.95,385.88 546.47,386.20 546.98,386.52 547.49,386.84 548.00,387.16 548.51,387.48 549.02,387.80 549.53,388.12 550.04,388.44 550.55,388.76 551.07,389.09 551.58,389.41 552.09,389.74 552.60,390.07 553.11,390.39 553.62,390.72 554.13,391.05 554.64,391.38 555.15,391.71 555.66,392.04 556.17,392.37 556.69,392.71 557.20,393.04 557.71,393.37 558.22,393.71 558.73,394.04 559.24,394.38 559.75,394.72 560.26,395.06 560.77,395.40 561.28,395.74 561.80,396.08 562.31,396.42 562.82,396.76 563.33,397.10 563.84,397.45 564.35,397.79 564.86,398.14 565.37,398.48 565.88,398.83 566.39,399.18 566.91,399.53 567.42,399.87 567.93,400.22 568.44,400.58 568.95,400.93 569.46,401.28 569.97,401.63 570.48,401.99 570.99,402.34 571.50,402.70 572.02,403.05 572.53,403.41 573.04,403.77 573.55,404.13 574.06,404.48 574.57,404.84 575.08,405.21 575.59,405.57 576.10,405.93 576.62,406.29 577.13,406.66 577.64,407.02 578.15,407.39 578.66,407.75 579.17,408.12 579.68,408.49 580.19,408.86 580.70,409.23 581.21,409.60 581.73,409.97 582.24,410.34 582.75,410.71 583.26,411.09 583.77,411.46 584.28,411.84 584.79,412.21 585.30,412.59 585.81,412.97 586.32,413.34 586.84,413.72 587.35,414.10 587.86,414.48 588.37,414.86 588.88,415.25 589.39,415.63 589.90,416.01 590.41,416.40 590.92,416.78 591.43,417.17 591.94,417.55 592.46,417.94 592.97,418.33 593.48,418.72 593.99,419.11" fill="none" stroke="#0000FF" stroke-width="3.0" stroke-dasharray="11.9 10.95" stroke-dashoffset="-2.81" stroke-linejoin="round"/>
<rect x="259.0" y="223.0" width="159.5" height="182.5" fill="#fff" stroke="#262626" stroke-width="1"/>
<circle cx="293.70" cy="245.10" r="6.7" fill="none" stroke="#000" stroke-width="1.4"/>
<text transform="translate(327.00,255.00) scale(1.18,1)" font-family="'Liberation Serif', serif" font-style="italic" font-size="27.0" fill="#000">α</text>
<text transform="translate(351.30,255.40) scale(1.03,0.95)" font-size="27.0" fill="#000">=</text>
<text x="374.30" y="255.00" font-size="27.0" fill="#000" clip-path="url(#c2)">0.1</text>
<polygon points="289.40,272.75 302.30,280.15 289.40,287.55" fill="none" stroke="#D95319" stroke-width="1.3"/>
<text transform="translate(327.00,290.05) scale(1.18,1)" font-family="'Liberation Serif', serif" font-style="italic" font-size="27.0" fill="#000">α</text>
<text transform="translate(351.30,290.45) scale(1.03,0.95)" font-size="27.0" fill="#000">=</text>
<text x="374.30" y="290.05" font-size="27.0" fill="#000">0.5</text>
<rect x="286.50" y="308.00" width="14.40" height="14.40" fill="none" stroke="#77AC30" stroke-width="1.3"/>
<text transform="translate(327.00,325.10) scale(1.18,1)" font-family="'Liberation Serif', serif" font-style="italic" font-size="27.0" fill="#000">α</text>
<text transform="translate(351.30,325.50) scale(1.03,0.95)" font-size="27.0" fill="#000">=</text>
<text x="374.30" y="325.10" font-size="27.0" fill="#000" clip-path="url(#c3)">1.0</text>
<path d="M289.10,345.65L298.30,354.85M289.10,354.85L298.30,345.65" stroke="#FF0000" stroke-width="2.6" fill="none"/>
<text transform="translate(327.00,360.15) scale(1.18,1)" font-family="'Liberation Serif', serif" font-style="italic" font-size="27.0" fill="#000">α</text>
<text transform="translate(351.30,360.55) scale(1.03,0.95)" font-size="27.0" fill="#000">=</text>
<text x="374.30" y="360.15" font-size="27.0" fill="#000" clip-path="url(#c4)">1.5</text>
<circle cx="293.70" cy="385.30" r="6.8" fill="#0072BD" stroke="#4DBEEE" stroke-width="1.4"/>
<text transform="translate(327.00,395.20) scale(1.18,1)" font-family="'Liberation Serif', serif" font-style="italic" font-size="27.0" fill="#000">α</text>
<text transform="translate(351.30,395.60) scale(1.03,0.95)" font-size="27.0" fill="#000">=</text>
<text x="374.30" y="395.20" font-size="27.0" fill="#000">2.0</text>
<text transform="translate(18.10,209.05) rotate(-90)" text-anchor="middle" font-size="33" letter-spacing="1.5">&lt;<tspan font-family="'Liberation Serif', serif" font-style="italic">τ</tspan>&gt;</text>
<rect x="730.5" y="0" width="512.5" height="1" fill="#111"/>
<line x1="731.50" y1="0" x2="731.50" y2="420.00" stroke="#262626" stroke-width="1" opacity="1.0"/>
<line x1="1242.00" y1="0" x2="1242.00" y2="420.00" stroke="#262626" stroke-width="1" opacity="1.0"/>
<line x1="731.50" y1="419.50" x2="1243.00" y2="419.50" stroke="#262626" stroke-width="1.3" opacity="0.72"/>
<line x1="731.50" y1="419.50" x2="731.50" y2="413.50" stroke="#262626" stroke-width="1" opacity="0.8"/>
<line x1="731.50" y1="0" x2="731.50" y2="6.00" stroke="#262626" stroke-width="1" opacity="0.6"/>
<text x="731.50" y="461.20" text-anchor="middle">0</text>
<line x1="833.70" y1="419.50" x2="833.70" y2="413.50" stroke="#262626" stroke-width="1" opacity="0.8"/>
<line x1="833.70" y1="0" x2="833.70" y2="6.00" stroke="#262626" stroke-width="1" opacity="0.6"/>
<text x="833.70" y="461.20" text-anchor="middle" clip-path="url(#c5)">1</text>
<line x1="935.90" y1="419.50" x2="935.90" y2="413.50" stroke="#262626" stroke-width="1" opacity="0.8"/>
<line x1="935.90" y1="0" x2="935.90" y2="6.00" stroke="#262626" stroke-width="1" opacity="0.6"/>
<text x="935.90" y="461.20" text-anchor="middle">2</text>
<line x1="1038.10" y1="419.50" x2="1038.10" y2="413.50" stroke="#262626" stroke-width="1" opacity="0.8"/>
<line x1="1038.10" y1="0" x2="1038.10" y2="6.00" stroke="#262626" stroke-width="1" opacity="0.6"/>
<text x="1038.10" y="461.20" text-anchor="middle">3</text>
<line x1="1140.30" y1="419.50" x2="1140.30" y2="413.50" stroke="#262626" stroke-width="1" opacity="0.8"/>
<line x1="1140.30" y1="0" x2="1140.30" y2="6.00" stroke="#262626" stroke-width="1" opacity="0.6"/>
<text x="1140.30" y="461.20" text-anchor="middle">4</text>
<line x1="1242.50" y1="419.50" x2="1242.50" y2="413.50" stroke="#262626" stroke-width="1" opacity="0.8"/>
<line x1="1242.50" y1="0" x2="1242.50" y2="6.00" stroke="#262626" stroke-width="1" opacity="0.6"/>
<text x="1242.50" y="461.20" text-anchor="middle">5</text>
<line x1="731.50" y1="419.50" x2="737.50" y2="419.50" stroke="#262626" stroke-width="1" opacity="0.8"/>
<line x1="1242.50" y1="419.50" x2="1236.50" y2="419.50" stroke="#262626" stroke-width="1" opacity="0.9"/>
<text x="722.00" y="431.50" text-anchor="end">0</text>
<line x1="731.50" y1="288.60" x2="737.50" y2="288.60" stroke="#262626" stroke-width="1" opacity="0.8"/>
<line x1="1242.50" y1="288.60" x2="1236.50" y2="288.60" stroke="#262626" stroke-width="1" opacity="0.9"/>
<text x="722.00" y="300.60" text-anchor="end" clip-path="url(#c6)">1</text>
<line x1="731.50" y1="157.70" x2="737.50" y2="157.70" stroke="#262626" stroke-width="1" opacity="0.8"/>
<line x1="1242.50" y1="157.70" x2="1236.50" y2="157.70" stroke="#262626" stroke-width="1" opacity="0.9"/>
<text x="722.00" y="169.70" text-anchor="end">2</text>
<line x1="731.50" y1="26.80" x2="737.50" y2="26.80" stroke="#262626" stroke-width="1" opacity="0.8"/>
<line x1="1242.50" y1="26.80" x2="1236.50" y2="26.80" stroke="#262626" stroke-width="1" opacity="0.9"/>
<text x="722.00" y="38.80" text-anchor="end">3</text>
<text x="986.70" y="503.8" text-anchor="middle" font-size="33">d</text>
<circle cx="732.52" cy="306.93" r="6.7" fill="none" stroke="#000" stroke-width="1.4"/>
<circle cx="739.68" cy="288.17" r="6.7" fill="none" stroke="#000" stroke-width="1.4"/>
<circle cx="747.85" cy="283.65" r="6.7" fill="none" stroke="#000" stroke-width="1.4"/>
<circle cx="762.16" cy="279.52" r="6.7" fill="none" stroke="#000" stroke-width="1.4"/>
<circle cx="782.60" cy="276.21" r="6.7" fill="none" stroke="#000" stroke-width="1.4"/>
<circle cx="803.04" cy="274.11" r="6.7" fill="none" stroke="#000" stroke-width="1.4"/>
<circle cx="823.48" cy="272.62" r="6.7" fill="none" stroke="#000" stroke-width="1.4"/>
<circle cx="843.92" cy="271.51" r="6.7" fill="none" stroke="#000" stroke-width="1.4"/>
<circle cx="864.36" cy="270.66" r="6.7" fill="none" stroke="#000" stroke-width="1.4"/>
<circle cx="884.80" cy="270.01" r="6.7" fill="none" stroke="#000" stroke-width="1.4"/>
<circle cx="905.24" cy="269.52" r="6.7" fill="none" stroke="#000" stroke-width="1.4"/>
<circle cx="925.68" cy="269.15" r="6.7" fill="none" stroke="#000" stroke-width="1.4"/>
<circle cx="946.12" cy="268.90" r="6.7" fill="none" stroke="#000" stroke-width="1.4"/>
<circle cx="966.56" cy="268.75" r="6.7" fill="none" stroke="#000" stroke-width="1.4"/>
<circle cx="987.00" cy="268.70" r="6.7" fill="none" stroke="#000" stroke-width="1.4"/>
<circle cx="1007.44" cy="268.75" r="6.7" fill="none" stroke="#000" stroke-width="1.4"/>
<circle cx="1027.88" cy="268.90" r="6.7" fill="none" stroke="#000" stroke-width="1.4"/>
<circle cx="1048.32" cy="269.15" r="6.7" fill="none" stroke="#000" stroke-width="1.4"/>
<circle cx="1068.76" cy="269.52" r="6.7" fill="none" stroke="#000" stroke-width="1.4"/>
<circle cx="1089.20" cy="270.01" r="6.7" fill="none" stroke="#000" stroke-width="1.4"/>
<circle cx="1109.64" cy="270.66" r="6.7" fill="none" stroke="#000" stroke-width="1.4"/>
<circle cx="1130.08" cy="271.51" r="6.7" fill="none" stroke="#000" stroke-width="1.4"/>
<circle cx="1150.52" cy="272.62" r="6.7" fill="none" stroke="#000" stroke-width="1.4"/>
<circle cx="1170.96" cy="274.11" r="6.7" fill="none" stroke="#000" stroke-width="1.4"/>
<circle cx="1191.40" cy="276.21" r="6.7" fill="none" stroke="#000" stroke-width="1.4"/>
<circle cx="1211.84" cy="279.52" r="6.7" fill="none" stroke="#000" stroke-width="1.4"/>
<circle cx="1226.15" cy="283.65" r="6.7" fill="none" stroke="#000" stroke-width="1.4"/>
<circle cx="1234.32" cy="288.17" r="6.7" fill="none" stroke="#000" stroke-width="1.4"/>
<circle cx="1241.48" cy="306.93" r="6.7" fill="none" stroke="#000" stroke-width="1.4"/>
<polygon points="728.48,358.88 740.61,365.83 728.48,372.79" fill="none" stroke="#D95319" stroke-width="1.3"/>
<polygon points="735.63,298.40 747.76,305.36 735.63,312.31" fill="none" stroke="#D95319" stroke-width="1.3"/>
<polygon points="743.81,276.67 755.94,283.63 743.81,290.58" fill="none" stroke="#D95319" stroke-width="1.3"/>
<polygon points="758.12,251.59 770.24,258.55 758.12,265.50" fill="none" stroke="#D95319" stroke-width="1.3"/>
<polygon points="778.56,231.64 790.68,238.60 778.56,245.56" fill="none" stroke="#D95319" stroke-width="1.3"/>
<polygon points="799.00,217.99 811.12,224.95 799.00,231.90" fill="none" stroke="#D95319" stroke-width="1.3"/>
<polygon points="819.44,207.83 831.56,214.78 819.44,221.74" fill="none" stroke="#D95319" stroke-width="1.3"/>
<polygon points="839.88,199.97 852.00,206.93 839.88,213.88" fill="none" stroke="#D95319" stroke-width="1.3"/>
<polygon points="860.32,193.80 872.44,200.76 860.32,207.71" fill="none" stroke="#D95319" stroke-width="1.3"/>
<polygon points="880.76,188.96 892.88,195.92 880.76,202.88" fill="none" stroke="#D95319" stroke-width="1.3"/>
<polygon points="901.20,185.23 913.32,192.18 901.20,199.14" fill="none" stroke="#D95319" stroke-width="1.3"/>
<polygon points="921.64,182.44 933.76,189.40 921.64,196.35" fill="none" stroke="#D95319" stroke-width="1.3"/>
<polygon points="942.08,180.51 954.20,187.47 942.08,194.42" fill="none" stroke="#D95319" stroke-width="1.3"/>
<polygon points="962.52,179.38 974.64,186.33 962.52,193.29" fill="none" stroke="#D95319" stroke-width="1.3"/>
<polygon points="982.96,179.00 995.08,185.96 982.96,192.91" fill="none" stroke="#D95319" stroke-width="1.3"/>
<polygon points="1003.40,179.38 1015.52,186.33 1003.40,193.29" fill="none" stroke="#D95319" stroke-width="1.3"/>
<polygon points="1023.84,180.51 1035.96,187.47 1023.84,194.42" fill="none" stroke="#D95319" stroke-width="1.3"/>
<polygon points="1044.28,182.44 1056.40,189.40 1044.28,196.35" fill="none" stroke="#D95319" stroke-width="1.3"/>
<polygon points="1064.72,185.23 1076.84,192.18 1064.72,199.14" fill="none" stroke="#D95319" stroke-width="1.3"/>
<polygon points="1085.16,188.96 1097.28,195.92 1085.16,202.88" fill="none" stroke="#D95319" stroke-width="1.3"/>
<polygon points="1105.60,193.80 1117.72,200.76 1105.60,207.71" fill="none" stroke="#D95319" stroke-width="1.3"/>
<polygon points="1126.04,199.97 1138.16,206.93 1126.04,213.88" fill="none" stroke="#D95319" stroke-width="1.3"/>
<polygon points="1146.48,207.83 1158.60,214.78 1146.48,221.74" fill="none" stroke="#D95319" stroke-width="1.3"/>
<polygon points="1166.92,217.99 1179.04,224.95 1166.92,231.90" fill="none" stroke="#D95319" stroke-width="1.3"/>
<polygon points="1187.36,231.64 1199.48,238.60 1187.36,245.56" fill="none" stroke="#D95319" stroke-width="1.3"/>
<polygon points="1207.80,251.59 1219.92,258.55 1207.80,265.50" fill="none" stroke="#D95319" stroke-width="1.3"/>
<polygon points="1222.11,276.67 1234.23,283.63 1222.11,290.58" fill="none" stroke="#D95319" stroke-width="1.3"/>
<polygon points="1230.28,298.40 1242.41,305.36 1230.28,312.31" fill="none" stroke="#D95319" stroke-width="1.3"/>
<polygon points="1237.44,358.88 1249.56,365.83 1237.44,372.79" fill="none" stroke="#D95319" stroke-width="1.3"/>
<rect x="726.67" y="387.21" width="11.70" height="11.70" fill="none" stroke="#77AC30" stroke-width="1.4"/>
<rect x="733.83" y="331.53" width="11.70" height="11.70" fill="none" stroke="#77AC30" stroke-width="1.4"/>
<rect x="742.00" y="299.51" width="11.70" height="11.70" fill="none" stroke="#77AC30" stroke-width="1.4"/>
<rect x="756.31" y="258.21" width="11.70" height="11.70" fill="none" stroke="#77AC30" stroke-width="1.4"/>
<rect x="776.75" y="217.30" width="11.70" height="11.70" fill="none" stroke="#77AC30" stroke-width="1.4"/>
<rect x="797.19" y="186.55" width="11.70" height="11.70" fill="none" stroke="#77AC30" stroke-width="1.4"/>
<rect x="817.63" y="162.20" width="11.70" height="11.70" fill="none" stroke="#77AC30" stroke-width="1.4"/>
<rect x="838.07" y="142.53" width="11.70" height="11.70" fill="none" stroke="#77AC30" stroke-width="1.4"/>
<rect x="858.51" y="126.56" width="11.70" height="11.70" fill="none" stroke="#77AC30" stroke-width="1.4"/>
<rect x="878.95" y="113.72" width="11.70" height="11.70" fill="none" stroke="#77AC30" stroke-width="1.4"/>
<rect x="899.39" y="103.61" width="11.70" height="11.70" fill="none" stroke="#77AC30" stroke-width="1.4"/>
<rect x="919.83" y="95.96" width="11.70" height="11.70" fill="none" stroke="#77AC30" stroke-width="1.4"/>
<rect x="940.27" y="90.62" width="11.70" height="11.70" fill="none" stroke="#77AC30" stroke-width="1.4"/>
<rect x="960.71" y="87.45" width="11.70" height="11.70" fill="none" stroke="#77AC30" stroke-width="1.4"/>
<rect x="981.15" y="86.40" width="11.70" height="11.70" fill="none" stroke="#77AC30" stroke-width="1.4"/>
<rect x="1001.59" y="87.45" width="11.70" height="11.70" fill="none" stroke="#77AC30" stroke-width="1.4"/>
<rect x="1022.03" y="90.62" width="11.70" height="11.70" fill="none" stroke="#77AC30" stroke-width="1.4"/>
<rect x="1042.47" y="95.96" width="11.70" height="11.70" fill="none" stroke="#77AC30" stroke-width="1.4"/>
<rect x="1062.91" y="103.61" width="11.70" height="11.70" fill="none" stroke="#77AC30" stroke-width="1.4"/>
<rect x="1083.35" y="113.72" width="11.70" height="11.70" fill="none" stroke="#77AC30" stroke-width="1.4"/>
<rect x="1103.79" y="126.56" width="11.70" height="11.70" fill="none" stroke="#77AC30" stroke-width="1.4"/>
<rect x="1124.23" y="142.53" width="11.70" height="11.70" fill="none" stroke="#77AC30" stroke-width="1.4"/>
<rect x="1144.67" y="162.20" width="11.70" height="11.70" fill="none" stroke="#77AC30" stroke-width="1.4"/>
<rect x="1165.11" y="186.55" width="11.70" height="11.70" fill="none" stroke="#77AC30" stroke-width="1.4"/>
<rect x="1185.55" y="217.30" width="11.70" height="11.70" fill="none" stroke="#77AC30" stroke-width="1.4"/>
<rect x="1205.99" y="258.21" width="11.70" height="11.70" fill="none" stroke="#77AC30" stroke-width="1.4"/>
<rect x="1220.30" y="299.51" width="11.70" height="11.70" fill="none" stroke="#77AC30" stroke-width="1.4"/>
<rect x="1228.47" y="331.53" width="11.70" height="11.70" fill="none" stroke="#77AC30" stroke-width="1.4"/>
<rect x="1235.63" y="387.21" width="11.70" height="11.70" fill="none" stroke="#77AC30" stroke-width="1.4"/>
<path d="M727.92,404.60L737.12,413.80M727.92,413.80L737.12,404.60" stroke="#FF0000" stroke-width="2.6" fill="none"/>
<path d="M735.08,366.41L744.28,375.61M735.08,375.61L744.28,366.41" stroke="#FF0000" stroke-width="2.6" fill="none"/>
<path d="M743.25,334.34L752.45,343.54M743.25,343.54L752.45,334.34" stroke="#FF0000" stroke-width="2.6" fill="none"/>
<path d="M757.56,288.63L766.76,297.83M757.56,297.83L766.76,288.63" stroke="#FF0000" stroke-width="2.6" fill="none"/>
<path d="M778.00,235.63L787.20,244.83M778.00,244.83L787.20,235.63" stroke="#FF0000" stroke-width="2.6" fill="none"/>
<path d="M798.44,191.90L807.64,201.10M798.44,201.10L807.64,191.90" stroke="#FF0000" stroke-width="2.6" fill="none"/>
<path d="M818.88,155.10L828.08,164.30M818.88,164.30L828.08,155.10" stroke="#FF0000" stroke-width="2.6" fill="none"/>
<path d="M839.32,124.02L848.52,133.22M839.32,133.22L848.52,124.02" stroke="#FF0000" stroke-width="2.6" fill="none"/>
<path d="M859.76,97.95L868.96,107.15M859.76,107.15L868.96,97.95" stroke="#FF0000" stroke-width="2.6" fill="none"/>
<path d="M880.20,76.45L889.40,85.65M880.20,85.65L889.40,76.45" stroke="#FF0000" stroke-width="2.6" fill="none"/>
<path d="M900.64,59.19L909.84,68.39M900.64,68.39L909.84,59.19" stroke="#FF0000" stroke-width="2.6" fill="none"/>
<path d="M921.08,45.95L930.28,55.15M921.08,55.15L930.28,45.95" stroke="#FF0000" stroke-width="2.6" fill="none"/>
<path d="M941.52,36.60L950.72,45.80M941.52,45.80L950.72,36.60" stroke="#FF0000" stroke-width="2.6" fill="none"/>
<path d="M961.96,31.02L971.16,40.22M961.96,40.22L971.16,31.02" stroke="#FF0000" stroke-width="2.6" fill="none"/>
<path d="M982.40,29.17L991.60,38.37M982.40,38.37L991.60,29.17" stroke="#FF0000" stroke-width="2.6" fill="none"/>
<path d="M1002.84,31.02L1012.04,40.22M1002.84,40.22L1012.04,31.02" stroke="#FF0000" stroke-width="2.6" fill="none"/>
<path d="M1023.28,36.60L1032.48,45.80M1023.28,45.80L1032.48,36.60" stroke="#FF0000" stroke-width="2.6" fill="none"/>
<path d="M1043.72,45.95L1052.92,55.15M1043.72,55.15L1052.92,45.95" stroke="#FF0000" stroke-width="2.6" fill="none"/>
<path d="M1064.16,59.19L1073.36,68.39M1064.16,68.39L1073.36,59.19" stroke="#FF0000" stroke-width="2.6" fill="none"/>
<path d="M1084.60,76.45L1093.80,85.65M1084.60,85.65L1093.80,76.45" stroke="#FF0000" stroke-width="2.6" fill="none"/>
<path d="M1105.04,97.95L1114.24,107.15M1105.04,107.15L1114.24,97.95" stroke="#FF0000" stroke-width="2.6" fill="none"/>
<path d="M1125.48,124.02L1134.68,133.22M1125.48,133.22L1134.68,124.02" stroke="#FF0000" stroke-width="2.6" fill="none"/>
<path d="M1145.92,155.10L1155.12,164.30M1145.92,164.30L1155.12,155.10" stroke="#FF0000" stroke-width="2.6" fill="none"/>
<path d="M1166.36,191.90L1175.56,201.10M1166.36,201.10L1175.56,191.90" stroke="#FF0000" stroke-width="2.6" fill="none"/>
<path d="M1186.80,235.63L1196.00,244.83M1186.80,244.83L1196.00,235.63" stroke="#FF0000" stroke-width="2.6" fill="none"/>
<path d="M1207.24,288.63L1216.44,297.83M1207.24,297.83L1216.44,288.63" stroke="#FF0000" stroke-width="2.6" fill="none"/>
<path d="M1221.55,334.34L1230.75,343.54M1221.55,343.54L1230.75,334.34" stroke="#FF0000" stroke-width="2.6" fill="none"/>
<path d="M1229.72,366.41L1238.92,375.61M1229.72,375.61L1238.92,366.41" stroke="#FF0000" stroke-width="2.6" fill="none"/>
<path d="M1236.88,404.60L1246.08,413.80M1236.88,413.80L1246.08,404.60" stroke="#FF0000" stroke-width="2.6" fill="none"/>
<circle cx="732.52" cy="416.23" r="7.45" fill="#0072BD"/>
<circle cx="739.68" cy="393.74" r="7.45" fill="#0072BD"/>
<circle cx="747.85" cy="368.82" r="7.45" fill="#0072BD"/>
<circle cx="762.16" cy="327.22" r="7.45" fill="#0072BD"/>
<circle cx="782.60" cy="272.24" r="7.45" fill="#0072BD"/>
<circle cx="803.04" cy="222.50" r="7.45" fill="#0072BD"/>
<circle cx="823.48" cy="177.99" r="7.45" fill="#0072BD"/>
<circle cx="843.92" cy="138.72" r="7.45" fill="#0072BD"/>
<circle cx="864.36" cy="104.69" r="7.45" fill="#0072BD"/>
<circle cx="884.80" cy="75.89" r="7.45" fill="#0072BD"/>
<circle cx="905.24" cy="52.33" r="7.45" fill="#0072BD"/>
<circle cx="925.68" cy="34.00" r="7.45" fill="#0072BD"/>
<circle cx="946.12" cy="20.91" r="7.45" fill="#0072BD"/>
<circle cx="966.56" cy="13.06" r="7.45" fill="#0072BD"/>
<circle cx="987.00" cy="10.44" r="7.45" fill="#0072BD"/>
<circle cx="1007.44" cy="13.06" r="7.45" fill="#0072BD"/>
<circle cx="1027.88" cy="20.91" r="7.45" fill="#0072BD"/>
<circle cx="1048.32" cy="34.00" r="7.45" fill="#0072BD"/>
<circle cx="1068.76" cy="52.33" r="7.45" fill="#0072BD"/>
<circle cx="1089.20" cy="75.89" r="7.45" fill="#0072BD"/>
<circle cx="1109.64" cy="104.69" r="7.45" fill="#0072BD"/>
<circle cx="1130.08" cy="138.72" r="7.45" fill="#0072BD"/>
<circle cx="1150.52" cy="177.99" r="7.45" fill="#0072BD"/>
<circle cx="1170.96" cy="222.50" r="7.45" fill="#0072BD"/>
<circle cx="1191.40" cy="272.24" r="7.45" fill="#0072BD"/>
<circle cx="1211.84" cy="327.22" r="7.45" fill="#0072BD"/>
<circle cx="1226.15" cy="368.82" r="7.45" fill="#0072BD"/>
<circle cx="1234.32" cy="393.74" r="7.45" fill="#0072BD"/>
<circle cx="1241.48" cy="416.23" r="7.45" fill="#0072BD"/>
<polyline points="732.01,305.09 732.52,301.06 733.03,298.64 733.54,296.89 734.05,295.52 734.57,294.40 735.08,293.43 735.59,292.60 736.10,291.85 736.61,291.18 737.12,290.58 737.63,290.02 738.14,289.51 738.65,289.03 739.16,288.59 739.68,288.17 740.19,287.78 740.70,287.41 741.21,287.06 741.72,286.73 742.23,286.41 742.74,286.11 743.25,285.82 743.76,285.54 744.27,285.27 744.79,285.02 745.30,284.77 745.81,284.53 746.32,284.30 746.83,284.08 747.34,283.86 747.85,283.65 748.36,283.45 748.87,283.26 749.38,283.07 749.90,282.88 750.41,282.70 750.92,282.52 751.43,282.35 751.94,282.19 752.45,282.02 752.96,281.87 753.47,281.71 753.98,281.56 754.50,281.41 755.01,281.27 755.52,281.13 756.03,280.99 756.54,280.85 757.05,280.72 757.56,280.59 758.07,280.46 758.58,280.34 759.09,280.21 759.61,280.09 760.12,279.97 760.63,279.86 761.14,279.74 761.65,279.63 762.16,279.52 762.67,279.41 763.18,279.31 763.69,279.20 764.20,279.10 764.72,279.00 765.23,278.90 765.74,278.80 766.25,278.70 766.76,278.61 767.27,278.51 767.78,278.42 768.29,278.33 768.80,278.24 769.31,278.15 769.83,278.07 770.34,277.98 770.85,277.89 771.36,277.81 771.87,277.73 772.38,277.65 772.89,277.57 773.40,277.49 773.91,277.41 774.42,277.33 774.93,277.25 775.45,277.18 775.96,277.10 776.47,277.03 776.98,276.96 777.49,276.89 778.00,276.82 778.51,276.75 779.02,276.68 779.53,276.61 780.04,276.54 780.56,276.47 781.07,276.41 781.58,276.34 782.09,276.28 782.60,276.21 783.11,276.15 783.62,276.09 784.13,276.02 784.64,275.96 785.15,275.90 785.67,275.84 786.18,275.78 786.69,275.72 787.20,275.67 787.71,275.61 788.22,275.55 788.73,275.50 789.24,275.44 789.75,275.38 790.26,275.33 790.78,275.27 791.29,275.22 791.80,275.17 792.31,275.11 792.82,275.06 793.33,275.01 793.84,274.96 794.35,274.91 794.86,274.86 795.38,274.81 795.89,274.76 796.40,274.71 796.91,274.66 797.42,274.61 797.93,274.57 798.44,274.52 798.95,274.47 799.46,274.43 799.97,274.38 800.49,274.33 801.00,274.29 801.51,274.24 802.02,274.20 802.53,274.16 803.04,274.11 803.55,274.07 804.06,274.03 804.57,273.98 805.08,273.94 805.60,273.90 806.11,273.86 806.62,273.82 807.13,273.78 807.64,273.74 808.15,273.70 808.66,273.66 809.17,273.62 809.68,273.58 810.19,273.54 810.71,273.50 811.22,273.46 811.73,273.42 812.24,273.39 812.75,273.35 813.26,273.31 813.77,273.27 814.28,273.24 814.79,273.20 815.30,273.16 815.82,273.13 816.33,273.09 816.84,273.06 817.35,273.02 817.86,272.99 818.37,272.95 818.88,272.92 819.39,272.89 819.90,272.85 820.41,272.82 820.92,272.79 821.44,272.75 821.95,272.72 822.46,272.69 822.97,272.66 823.48,272.62 823.99,272.59 824.50,272.56 825.01,272.53 825.52,272.50 826.03,272.47 826.55,272.44 827.06,272.41 827.57,272.38 828.08,272.35 828.59,272.32 829.10,272.29 829.61,272.26 830.12,272.23 830.63,272.20 831.14,272.17 831.66,272.14 832.17,272.11 832.68,272.09 833.19,272.06 833.70,272.03 834.21,272.00 834.72,271.98 835.23,271.95 835.74,271.92 836.25,271.89 836.77,271.87 837.28,271.84 837.79,271.82 838.30,271.79 838.81,271.76 839.32,271.74 839.83,271.71 840.34,271.69 840.85,271.66 841.37,271.64 841.88,271.61 842.39,271.59 842.90,271.56 843.41,271.54 843.92,271.51 844.43,271.49 844.94,271.47 845.45,271.44 845.96,271.42 846.48,271.39 846.99,271.37 847.50,271.35 848.01,271.33 848.52,271.30 849.03,271.28 849.54,271.26 850.05,271.24 850.56,271.21 851.07,271.19 851.59,271.17 852.10,271.15 852.61,271.13 853.12,271.10 853.63,271.08 854.14,271.06 854.65,271.04 855.16,271.02 855.67,271.00 856.18,270.98 856.70,270.96 857.21,270.94 857.72,270.92 858.23,270.90 858.74,270.88 859.25,270.86 859.76,270.84 860.27,270.82 860.78,270.80 861.29,270.78 861.81,270.76 862.32,270.74 862.83,270.72 863.34,270.70 863.85,270.68 864.36,270.66 864.87,270.65 865.38,270.63 865.89,270.61 866.40,270.59 866.91,270.57 867.43,270.56 867.94,270.54 868.45,270.52 868.96,270.50 869.47,270.48 869.98,270.47 870.49,270.45 871.00,270.43 871.51,270.42 872.02,270.40 872.54,270.38 873.05,270.37 873.56,270.35 874.07,270.33 874.58,270.32 875.09,270.30 875.60,270.28 876.11,270.27 876.62,270.25 877.13,270.24 877.65,270.22 878.16,270.21 878.67,270.19 879.18,270.17 879.69,270.16 880.20,270.14 880.71,270.13 881.22,270.11 881.73,270.10 882.25,270.08 882.76,270.07 883.27,270.05 883.78,270.04 884.29,270.03 884.80,270.01 885.31,270.00 885.82,269.98 886.33,269.97 886.84,269.96 887.36,269.94 887.87,269.93 888.38,269.91 888.89,269.90 889.40,269.89 889.91,269.87 890.42,269.86 890.93,269.85 891.44,269.83 891.95,269.82 892.47,269.81 892.98,269.80 893.49,269.78 894.00,269.77 894.51,269.76 895.02,269.75 895.53,269.73 896.04,269.72 896.55,269.71 897.06,269.70 897.58,269.68 898.09,269.67 898.60,269.66 899.11,269.65 899.62,269.64 900.13,269.63 900.64,269.61 901.15,269.60 901.66,269.59 902.17,269.58 902.68,269.57 903.20,269.56 903.71,269.55 904.22,269.54 904.73,269.53 905.24,269.52 905.75,269.50 906.26,269.49 906.77,269.48 907.28,269.47 907.80,269.46 908.31,269.45 908.82,269.44 909.33,269.43 909.84,269.42 910.35,269.41 910.86,269.40 911.37,269.39 911.88,269.38 912.39,269.37 912.90,269.36 913.42,269.35 913.93,269.34 914.44,269.34 914.95,269.33 915.46,269.32 915.97,269.31 916.48,269.30 916.99,269.29 917.50,269.28 918.01,269.27 918.53,269.26 919.04,269.26 919.55,269.25 920.06,269.24 920.57,269.23 921.08,269.22 921.59,269.21 922.10,269.20 922.61,269.20 923.12,269.19 923.64,269.18 924.15,269.17 924.66,269.17 925.17,269.16 925.68,269.15 926.19,269.14 926.70,269.13 927.21,269.13 927.72,269.12 928.24,269.11 928.75,269.10 929.26,269.10 929.77,269.09 930.28,269.08 930.79,269.08 931.30,269.07 931.81,269.06 932.32,269.06 932.83,269.05 933.35,269.04 933.86,269.04 934.37,269.03 934.88,269.02 935.39,269.02 935.90,269.01 936.41,269.00 936.92,269.00 937.43,268.99 937.94,268.99 938.45,268.98 938.97,268.97 939.48,268.97 939.99,268.96 940.50,268.96 941.01,268.95 941.52,268.95 942.03,268.94 942.54,268.93 943.05,268.93 943.57,268.92 944.08,268.92 944.59,268.91 945.10,268.91 945.61,268.90 946.12,268.90 946.63,268.89 947.14,268.89 947.65,268.88 948.16,268.88 948.67,268.87 949.19,268.87 949.70,268.87 950.21,268.86 950.72,268.86 951.23,268.85 951.74,268.85 952.25,268.84 952.76,268.84 953.27,268.84 953.78,268.83 954.30,268.83 954.81,268.82 955.32,268.82 955.83,268.82 956.34,268.81 956.85,268.81 957.36,268.81 957.87,268.80 958.38,268.80 958.89,268.79 959.41,268.79 959.92,268.79 960.43,268.78 960.94,268.78 961.45,268.78 961.96,268.78 962.47,268.77 962.98,268.77 963.49,268.77 964.00,268.76 964.52,268.76 965.03,268.76 965.54,268.76 966.05,268.75 966.56,268.75 967.07,268.75 967.58,268.75 968.09,268.74 968.60,268.74 969.12,268.74 969.63,268.74 970.14,268.74 970.65,268.73 971.16,268.73 971.67,268.73 972.18,268.73 972.69,268.73 973.20,268.72 973.71,268.72 974.23,268.72 974.74,268.72 975.25,268.72 975.76,268.72 976.27,268.72 976.78,268.71 977.29,268.71 977.80,268.71 978.31,268.71 978.82,268.71 979.34,268.71 979.85,268.71 980.36,268.71 980.87,268.71 981.38,268.71 981.89,268.71 982.40,268.71 982.91,268.70 983.42,268.70 983.93,268.70 984.45,268.70 984.96,268.70 985.47,268.70 985.98,268.70 986.49,268.70 987.00,268.70 987.51,268.70 988.02,268.70 988.53,268.70 989.04,268.70 989.56,268.70 990.07,268.70 990.58,268.70 991.09,268.70 991.60,268.71 992.11,268.71 992.62,268.71 993.13,268.71 993.64,268.71 994.15,268.71 994.66,268.71 995.18,268.71 995.69,268.71 996.20,268.71 996.71,268.71 997.22,268.71 997.73,268.72 998.24,268.72 998.75,268.72 999.26,268.72 999.78,268.72 1000.29,268.72 1000.80,268.72 1001.31,268.73 1001.82,268.73 1002.33,268.73 1002.84,268.73 1003.35,268.73 1003.86,268.74 1004.37,268.74 1004.88,268.74 1005.40,268.74 1005.91,268.74 1006.42,268.75 1006.93,268.75 1007.44,268.75 1007.95,268.75 1008.46,268.76 1008.97,268.76 1009.48,268.76 1010.00,268.76 1010.51,268.77 1011.02,268.77 1011.53,268.77 1012.04,268.78 1012.55,268.78 1013.06,268.78 1013.57,268.78 1014.08,268.79 1014.59,268.79 1015.11,268.79 1015.62,268.80 1016.13,268.80 1016.64,268.81 1017.15,268.81 1017.66,268.81 1018.17,268.82 1018.68,268.82 1019.19,268.82 1019.70,268.83 1020.22,268.83 1020.73,268.84 1021.24,268.84 1021.75,268.84 1022.26,268.85 1022.77,268.85 1023.28,268.86 1023.79,268.86 1024.30,268.87 1024.81,268.87 1025.33,268.87 1025.84,268.88 1026.35,268.88 1026.86,268.89 1027.37,268.89 1027.88,268.90 1028.39,268.90 1028.90,268.91 1029.41,268.91 1029.92,268.92 1030.43,268.92 1030.95,268.93 1031.46,268.93 1031.97,268.94 1032.48,268.95 1032.99,268.95 1033.50,268.96 1034.01,268.96 1034.52,268.97 1035.03,268.97 1035.55,268.98 1036.06,268.99 1036.57,268.99 1037.08,269.00 1037.59,269.00 1038.10,269.01 1038.61,269.02 1039.12,269.02 1039.63,269.03 1040.14,269.04 1040.65,269.04 1041.17,269.05 1041.68,269.06 1042.19,269.06 1042.70,269.07 1043.21,269.08 1043.72,269.08 1044.23,269.09 1044.74,269.10 1045.25,269.10 1045.77,269.11 1046.28,269.12 1046.79,269.13 1047.30,269.13 1047.81,269.14 1048.32,269.15 1048.83,269.16 1049.34,269.17 1049.85,269.17 1050.36,269.18 1050.88,269.19 1051.39,269.20 1051.90,269.20 1052.41,269.21 1052.92,269.22 1053.43,269.23 1053.94,269.24 1054.45,269.25 1054.96,269.26 1055.47,269.26 1055.99,269.27 1056.50,269.28 1057.01,269.29 1057.52,269.30 1058.03,269.31 1058.54,269.32 1059.05,269.33 1059.56,269.34 1060.07,269.34 1060.58,269.35 1061.10,269.36 1061.61,269.37 1062.12,269.38 1062.63,269.39 1063.14,269.40 1063.65,269.41 1064.16,269.42 1064.67,269.43 1065.18,269.44 1065.69,269.45 1066.20,269.46 1066.72,269.47 1067.23,269.48 1067.74,269.49 1068.25,269.50 1068.76,269.52 1069.27,269.53 1069.78,269.54 1070.29,269.55 1070.80,269.56 1071.32,269.57 1071.83,269.58 1072.34,269.59 1072.85,269.60 1073.36,269.61 1073.87,269.63 1074.38,269.64 1074.89,269.65 1075.40,269.66 1075.91,269.67 1076.42,269.68 1076.94,269.70 1077.45,269.71 1077.96,269.72 1078.47,269.73 1078.98,269.75 1079.49,269.76 1080.00,269.77 1080.51,269.78 1081.02,269.80 1081.53,269.81 1082.05,269.82 1082.56,269.83 1083.07,269.85 1083.58,269.86 1084.09,269.87 1084.60,269.89 1085.11,269.90 1085.62,269.91 1086.13,269.93 1086.64,269.94 1087.16,269.96 1087.67,269.97 1088.18,269.98 1088.69,270.00 1089.20,270.01 1089.71,270.03 1090.22,270.04 1090.73,270.05 1091.24,270.07 1091.76,270.08 1092.27,270.10 1092.78,270.11 1093.29,270.13 1093.80,270.14 1094.31,270.16 1094.82,270.17 1095.33,270.19 1095.84,270.21 1096.35,270.22 1096.87,270.24 1097.38,270.25 1097.89,270.27 1098.40,270.28 1098.91,270.30 1099.42,270.32 1099.93,270.33 1100.44,270.35 1100.95,270.37 1101.46,270.38 1101.97,270.40 1102.49,270.42 1103.00,270.43 1103.51,270.45 1104.02,270.47 1104.53,270.48 1105.04,270.50 1105.55,270.52 1106.06,270.54 1106.57,270.56 1107.09,270.57 1107.60,270.59 1108.11,270.61 1108.62,270.63 1109.13,270.65 1109.64,270.66 1110.15,270.68 1110.66,270.70 1111.17,270.72 1111.68,270.74 1112.19,270.76 1112.71,270.78 1113.22,270.80 1113.73,270.82 1114.24,270.84 1114.75,270.86 1115.26,270.88 1115.77,270.90 1116.28,270.92 1116.79,270.94 1117.31,270.96 1117.82,270.98 1118.33,271.00 1118.84,271.02 1119.35,271.04 1119.86,271.06 1120.37,271.08 1120.88,271.10 1121.39,271.13 1121.90,271.15 1122.41,271.17 1122.93,271.19 1123.44,271.21 1123.95,271.24 1124.46,271.26 1124.97,271.28 1125.48,271.30 1125.99,271.33 1126.50,271.35 1127.01,271.37 1127.53,271.39 1128.04,271.42 1128.55,271.44 1129.06,271.47 1129.57,271.49 1130.08,271.51 1130.59,271.54 1131.10,271.56 1131.61,271.59 1132.12,271.61 1132.63,271.64 1133.15,271.66 1133.66,271.69 1134.17,271.71 1134.68,271.74 1135.19,271.76 1135.70,271.79 1136.21,271.82 1136.72,271.84 1137.23,271.87 1137.74,271.89 1138.26,271.92 1138.77,271.95 1139.28,271.98 1139.79,272.00 1140.30,272.03 1140.81,272.06 1141.32,272.09 1141.83,272.11 1142.34,272.14 1142.86,272.17 1143.37,272.20 1143.88,272.23 1144.39,272.26 1144.90,272.29 1145.41,272.32 1145.92,272.35 1146.43,272.38 1146.94,272.41 1147.45,272.44 1147.97,272.47 1148.48,272.50 1148.99,272.53 1149.50,272.56 1150.01,272.59 1150.52,272.62 1151.03,272.66 1151.54,272.69 1152.05,272.72 1152.56,272.75 1153.08,272.79 1153.59,272.82 1154.10,272.85 1154.61,272.89 1155.12,272.92 1155.63,272.95 1156.14,272.99 1156.65,273.02 1157.16,273.06 1157.67,273.09 1158.18,273.13 1158.70,273.16 1159.21,273.20 1159.72,273.24 1160.23,273.27 1160.74,273.31 1161.25,273.35 1161.76,273.39 1162.27,273.42 1162.78,273.46 1163.30,273.50 1163.81,273.54 1164.32,273.58 1164.83,273.62 1165.34,273.66 1165.85,273.70 1166.36,273.74 1166.87,273.78 1167.38,273.82 1167.89,273.86 1168.40,273.90 1168.92,273.94 1169.43,273.98 1169.94,274.03 1170.45,274.07 1170.96,274.11 1171.47,274.16 1171.98,274.20 1172.49,274.24 1173.00,274.29 1173.52,274.33 1174.03,274.38 1174.54,274.43 1175.05,274.47 1175.56,274.52 1176.07,274.57 1176.58,274.61 1177.09,274.66 1177.60,274.71 1178.11,274.76 1178.62,274.81 1179.14,274.86 1179.65,274.91 1180.16,274.96 1180.67,275.01 1181.18,275.06 1181.69,275.11 1182.20,275.17 1182.71,275.22 1183.22,275.27 1183.74,275.33 1184.25,275.38 1184.76,275.44 1185.27,275.50 1185.78,275.55 1186.29,275.61 1186.80,275.67 1187.31,275.72 1187.82,275.78 1188.33,275.84 1188.85,275.90 1189.36,275.96 1189.87,276.02 1190.38,276.09 1190.89,276.15 1191.40,276.21 1191.91,276.28 1192.42,276.34 1192.93,276.41 1193.44,276.47 1193.95,276.54 1194.47,276.61 1194.98,276.68 1195.49,276.75 1196.00,276.82 1196.51,276.89 1197.02,276.96 1197.53,277.03 1198.04,277.10 1198.55,277.18 1199.07,277.25 1199.58,277.33 1200.09,277.41 1200.60,277.49 1201.11,277.57 1201.62,277.65 1202.13,277.73 1202.64,277.81 1203.15,277.89 1203.66,277.98 1204.17,278.07 1204.69,278.15 1205.20,278.24 1205.71,278.33 1206.22,278.42 1206.73,278.51 1207.24,278.61 1207.75,278.70 1208.26,278.80 1208.77,278.90 1209.28,279.00 1209.80,279.10 1210.31,279.20 1210.82,279.31 1211.33,279.41 1211.84,279.52 1212.35,279.63 1212.86,279.74 1213.37,279.86 1213.88,279.97 1214.39,280.09 1214.91,280.21 1215.42,280.34 1215.93,280.46 1216.44,280.59 1216.95,280.72 1217.46,280.85 1217.97,280.99 1218.48,281.13 1218.99,281.27 1219.51,281.41 1220.02,281.56 1220.53,281.71 1221.04,281.87 1221.55,282.02 1222.06,282.19 1222.57,282.35 1223.08,282.52 1223.59,282.70 1224.10,282.88 1224.62,283.07 1225.13,283.26 1225.64,283.45 1226.15,283.65 1226.66,283.86 1227.17,284.08 1227.68,284.30 1228.19,284.53 1228.70,284.77 1229.21,285.02 1229.72,285.27 1230.24,285.54 1230.75,285.82 1231.26,286.11 1231.77,286.41 1232.28,286.73 1232.79,287.06 1233.30,287.41 1233.81,287.78 1234.32,288.17 1234.84,288.59 1235.35,289.03 1235.86,289.51 1236.37,290.02 1236.88,290.58 1237.39,291.18 1237.90,291.85 1238.41,292.60 1238.92,293.43 1239.43,294.40 1239.94,295.52 1240.46,296.89 1240.97,298.64 1241.48,301.06 1241.99,305.09" fill="none" stroke="#404040" stroke-width="3.0" stroke-dasharray="11.9 10.95" stroke-dashoffset="-4.13" stroke-linejoin="round"/>
<polyline points="732.01,360.78 732.52,349.69 733.03,342.26 733.54,336.52 734.05,331.78 734.57,327.72 735.08,324.13 735.59,320.92 736.10,318.00 736.61,315.32 737.12,312.83 737.63,310.52 738.14,308.34 738.65,306.29 739.16,304.35 739.68,302.51 740.19,300.75 740.70,299.07 741.21,297.46 741.72,295.92 742.23,294.44 742.74,293.01 743.25,291.63 743.76,290.29 744.27,289.00 744.79,287.75 745.30,286.53 745.81,285.35 746.32,284.20 746.83,283.09 747.34,282.00 747.85,280.94 748.36,279.91 748.87,278.90 749.38,277.91 749.90,276.95 750.41,276.01 750.92,275.08 751.43,274.18 751.94,273.29 752.45,272.43 752.96,271.58 753.47,270.74 753.98,269.93 754.50,269.12 755.01,268.33 755.52,267.56 756.03,266.80 756.54,266.05 757.05,265.31 757.56,264.59 758.07,263.87 758.58,263.17 759.09,262.48 759.61,261.80 760.12,261.13 760.63,260.47 761.14,259.82 761.65,259.18 762.16,258.55 762.67,257.92 763.18,257.31 763.69,256.70 764.20,256.10 764.72,255.51 765.23,254.93 765.74,254.35 766.25,253.79 766.76,253.22 767.27,252.67 767.78,252.12 768.29,251.58 768.80,251.05 769.31,250.52 769.83,250.00 770.34,249.48 770.85,248.97 771.36,248.46 771.87,247.97 772.38,247.47 772.89,246.98 773.40,246.50 773.91,246.02 774.42,245.55 774.93,245.08 775.45,244.62 775.96,244.16 776.47,243.71 776.98,243.26 777.49,242.81 778.00,242.37 778.51,241.94 779.02,241.51 779.53,241.08 780.04,240.66 780.56,240.24 781.07,239.82 781.58,239.41 782.09,239.00 782.60,238.60 783.11,238.20 783.62,237.80 784.13,237.41 784.64,237.02 785.15,236.63 785.67,236.25 786.18,235.87 786.69,235.50 787.20,235.12 787.71,234.75 788.22,234.39 788.73,234.02 789.24,233.66 789.75,233.31 790.26,232.95 790.78,232.60 791.29,232.25 791.80,231.91 792.31,231.56 792.82,231.22 793.33,230.89 793.84,230.55 794.35,230.22 794.86,229.89 795.38,229.56 795.89,229.24 796.40,228.92 796.91,228.60 797.42,228.28 797.93,227.97 798.44,227.65 798.95,227.34 799.46,227.04 799.97,226.73 800.49,226.43 801.00,226.13 801.51,225.83 802.02,225.53 802.53,225.24 803.04,224.95 803.55,224.66 804.06,224.37 804.57,224.08 805.08,223.80 805.60,223.52 806.11,223.24 806.62,222.96 807.13,222.69 807.64,222.41 808.15,222.14 808.66,221.87 809.17,221.60 809.68,221.34 810.19,221.07 810.71,220.81 811.22,220.55 811.73,220.29 812.24,220.03 812.75,219.78 813.26,219.52 813.77,219.27 814.28,219.02 814.79,218.77 815.30,218.52 815.82,218.28 816.33,218.04 816.84,217.79 817.35,217.55 817.86,217.31 818.37,217.08 818.88,216.84 819.39,216.61 819.90,216.37 820.41,216.14 820.92,215.91 821.44,215.68 821.95,215.46 822.46,215.23 822.97,215.01 823.48,214.78 823.99,214.56 824.50,214.34 825.01,214.12 825.52,213.91 826.03,213.69 826.55,213.48 827.06,213.26 827.57,213.05 828.08,212.84 828.59,212.63 829.10,212.43 829.61,212.22 830.12,212.01 830.63,211.81 831.14,211.61 831.66,211.41 832.17,211.21 832.68,211.01 833.19,210.81 833.70,210.61 834.21,210.42 834.72,210.22 835.23,210.03 835.74,209.84 836.25,209.65 836.77,209.46 837.28,209.27 837.79,209.08 838.30,208.90 838.81,208.71 839.32,208.53 839.83,208.35 840.34,208.17 840.85,207.99 841.37,207.81 841.88,207.63 842.39,207.45 842.90,207.28 843.41,207.10 843.92,206.93 844.43,206.75 844.94,206.58 845.45,206.41 845.96,206.24 846.48,206.07 846.99,205.90 847.50,205.74 848.01,205.57 848.52,205.41 849.03,205.24 849.54,205.08 850.05,204.92 850.56,204.76 851.07,204.60 851.59,204.44 852.10,204.28 852.61,204.12 853.12,203.97 853.63,203.81 854.14,203.66 854.65,203.50 855.16,203.35 855.67,203.20 856.18,203.05 856.70,202.90 857.21,202.75 857.72,202.60 858.23,202.46 858.74,202.31 859.25,202.16 859.76,202.02 860.27,201.88 860.78,201.73 861.29,201.59 861.81,201.45 862.32,201.31 862.83,201.17 863.34,201.03 863.85,200.90 864.36,200.76 864.87,200.62 865.38,200.49 865.89,200.35 866.40,200.22 866.91,200.09 867.43,199.95 867.94,199.82 868.45,199.69 868.96,199.56 869.47,199.43 869.98,199.31 870.49,199.18 871.00,199.05 871.51,198.93 872.02,198.80 872.54,198.68 873.05,198.55 873.56,198.43 874.07,198.31 874.58,198.19 875.09,198.07 875.60,197.95 876.11,197.83 876.62,197.71 877.13,197.59 877.65,197.48 878.16,197.36 878.67,197.25 879.18,197.13 879.69,197.02 880.20,196.91 880.71,196.79 881.22,196.68 881.73,196.57 882.25,196.46 882.76,196.35 883.27,196.24 883.78,196.13 884.29,196.03 884.80,195.92 885.31,195.81 885.82,195.71 886.33,195.60 886.84,195.50 887.36,195.40 887.87,195.29 888.38,195.19 888.89,195.09 889.40,194.99 889.91,194.89 890.42,194.79 890.93,194.69 891.44,194.59 891.95,194.49 892.47,194.40 892.98,194.30 893.49,194.21 894.00,194.11 894.51,194.02 895.02,193.92 895.53,193.83 896.04,193.74 896.55,193.65 897.06,193.56 897.58,193.46 898.09,193.37 898.60,193.29 899.11,193.20 899.62,193.11 900.13,193.02 900.64,192.93 901.15,192.85 901.66,192.76 902.17,192.68 902.68,192.59 903.20,192.51 903.71,192.43 904.22,192.34 904.73,192.26 905.24,192.18 905.75,192.10 906.26,192.02 906.77,191.94 907.28,191.86 907.80,191.78 908.31,191.71 908.82,191.63 909.33,191.55 909.84,191.48 910.35,191.40 910.86,191.33 911.37,191.25 911.88,191.18 912.39,191.10 912.90,191.03 913.42,190.96 913.93,190.89 914.44,190.82 914.95,190.75 915.46,190.68 915.97,190.61 916.48,190.54 916.99,190.47 917.50,190.40 918.01,190.34 918.53,190.27 919.04,190.20 919.55,190.14 920.06,190.07 920.57,190.01 921.08,189.95 921.59,189.88 922.10,189.82 922.61,189.76 923.12,189.70 923.64,189.64 924.15,189.57 924.66,189.51 925.17,189.46 925.68,189.40 926.19,189.34 926.70,189.28 927.21,189.22 927.72,189.17 928.24,189.11 928.75,189.05 929.26,189.00 929.77,188.94 930.28,188.89 930.79,188.84 931.30,188.78 931.81,188.73 932.32,188.68 932.83,188.63 933.35,188.58 933.86,188.53 934.37,188.48 934.88,188.43 935.39,188.38 935.90,188.33 936.41,188.28 936.92,188.23 937.43,188.19 937.94,188.14 938.45,188.10 938.97,188.05 939.48,188.00 939.99,187.96 940.50,187.92 941.01,187.87 941.52,187.83 942.03,187.79 942.54,187.75 943.05,187.70 943.57,187.66 944.08,187.62 944.59,187.58 945.10,187.54 945.61,187.51 946.12,187.47 946.63,187.43 947.14,187.39 947.65,187.36 948.16,187.32 948.67,187.28 949.19,187.25 949.70,187.21 950.21,187.18 950.72,187.14 951.23,187.11 951.74,187.08 952.25,187.05 952.76,187.01 953.27,186.98 953.78,186.95 954.30,186.92 954.81,186.89 955.32,186.86 955.83,186.83 956.34,186.80 956.85,186.78 957.36,186.75 957.87,186.72 958.38,186.69 958.89,186.67 959.41,186.64 959.92,186.62 960.43,186.59 960.94,186.57 961.45,186.54 961.96,186.52 962.47,186.50 962.98,186.48 963.49,186.45 964.00,186.43 964.52,186.41 965.03,186.39 965.54,186.37 966.05,186.35 966.56,186.33 967.07,186.31 967.58,186.30 968.09,186.28 968.60,186.26 969.12,186.24 969.63,186.23 970.14,186.21 970.65,186.20 971.16,186.18 971.67,186.17 972.18,186.15 972.69,186.14 973.20,186.13 973.71,186.12 974.23,186.10 974.74,186.09 975.25,186.08 975.76,186.07 976.27,186.06 976.78,186.05 977.29,186.04 977.80,186.03 978.31,186.03 978.82,186.02 979.34,186.01 979.85,186.00 980.36,186.00 980.87,185.99 981.38,185.99 981.89,185.98 982.40,185.98 982.91,185.97 983.42,185.97 983.93,185.97 984.45,185.96 984.96,185.96 985.47,185.96 985.98,185.96 986.49,185.96 987.00,185.96 987.51,185.96 988.02,185.96 988.53,185.96 989.04,185.96 989.56,185.96 990.07,185.97 990.58,185.97 991.09,185.97 991.60,185.98 992.11,185.98 992.62,185.99 993.13,185.99 993.64,186.00 994.15,186.00 994.66,186.01 995.18,186.02 995.69,186.03 996.20,186.03 996.71,186.04 997.22,186.05 997.73,186.06 998.24,186.07 998.75,186.08 999.26,186.09 999.78,186.10 1000.29,186.12 1000.80,186.13 1001.31,186.14 1001.82,186.15 1002.33,186.17 1002.84,186.18 1003.35,186.20 1003.86,186.21 1004.37,186.23 1004.88,186.24 1005.40,186.26 1005.91,186.28 1006.42,186.30 1006.93,186.31 1007.44,186.33 1007.95,186.35 1008.46,186.37 1008.97,186.39 1009.48,186.41 1010.00,186.43 1010.51,186.45 1011.02,186.48 1011.53,186.50 1012.04,186.52 1012.55,186.54 1013.06,186.57 1013.57,186.59 1014.08,186.62 1014.59,186.64 1015.11,186.67 1015.62,186.69 1016.13,186.72 1016.64,186.75 1017.15,186.78 1017.66,186.80 1018.17,186.83 1018.68,186.86 1019.19,186.89 1019.70,186.92 1020.22,186.95 1020.73,186.98 1021.24,187.01 1021.75,187.05 1022.26,187.08 1022.77,187.11 1023.28,187.14 1023.79,187.18 1024.30,187.21 1024.81,187.25 1025.33,187.28 1025.84,187.32 1026.35,187.36 1026.86,187.39 1027.37,187.43 1027.88,187.47 1028.39,187.51 1028.90,187.54 1029.41,187.58 1029.92,187.62 1030.43,187.66 1030.95,187.70 1031.46,187.75 1031.97,187.79 1032.48,187.83 1032.99,187.87 1033.50,187.92 1034.01,187.96 1034.52,188.00 1035.03,188.05 1035.55,188.10 1036.06,188.14 1036.57,188.19 1037.08,188.23 1037.59,188.28 1038.10,188.33 1038.61,188.38 1039.12,188.43 1039.63,188.48 1040.14,188.53 1040.65,188.58 1041.17,188.63 1041.68,188.68 1042.19,188.73 1042.70,188.78 1043.21,188.84 1043.72,188.89 1044.23,188.94 1044.74,189.00 1045.25,189.05 1045.77,189.11 1046.28,189.17 1046.79,189.22 1047.30,189.28 1047.81,189.34 1048.32,189.40 1048.83,189.46 1049.34,189.51 1049.85,189.57 1050.36,189.64 1050.88,189.70 1051.39,189.76 1051.90,189.82 1052.41,189.88 1052.92,189.95 1053.43,190.01 1053.94,190.07 1054.45,190.14 1054.96,190.20 1055.47,190.27 1055.99,190.34 1056.50,190.40 1057.01,190.47 1057.52,190.54 1058.03,190.61 1058.54,190.68 1059.05,190.75 1059.56,190.82 1060.07,190.89 1060.58,190.96 1061.10,191.03 1061.61,191.10 1062.12,191.18 1062.63,191.25 1063.14,191.33 1063.65,191.40 1064.16,191.48 1064.67,191.55 1065.18,191.63 1065.69,191.71 1066.20,191.78 1066.72,191.86 1067.23,191.94 1067.74,192.02 1068.25,192.10 1068.76,192.18 1069.27,192.26 1069.78,192.34 1070.29,192.43 1070.80,192.51 1071.32,192.59 1071.83,192.68 1072.34,192.76 1072.85,192.85 1073.36,192.93 1073.87,193.02 1074.38,193.11 1074.89,193.20 1075.40,193.29 1075.91,193.37 1076.42,193.46 1076.94,193.56 1077.45,193.65 1077.96,193.74 1078.47,193.83 1078.98,193.92 1079.49,194.02 1080.00,194.11 1080.51,194.21 1081.02,194.30 1081.53,194.40 1082.05,194.49 1082.56,194.59 1083.07,194.69 1083.58,194.79 1084.09,194.89 1084.60,194.99 1085.11,195.09 1085.62,195.19 1086.13,195.29 1086.64,195.40 1087.16,195.50 1087.67,195.60 1088.18,195.71 1088.69,195.81 1089.20,195.92 1089.71,196.03 1090.22,196.13 1090.73,196.24 1091.24,196.35 1091.76,196.46 1092.27,196.57 1092.78,196.68 1093.29,196.79 1093.80,196.91 1094.31,197.02 1094.82,197.13 1095.33,197.25 1095.84,197.36 1096.35,197.48 1096.87,197.59 1097.38,197.71 1097.89,197.83 1098.40,197.95 1098.91,198.07 1099.42,198.19 1099.93,198.31 1100.44,198.43 1100.95,198.55 1101.46,198.68 1101.97,198.80 1102.49,198.93 1103.00,199.05 1103.51,199.18 1104.02,199.31 1104.53,199.43 1105.04,199.56 1105.55,199.69 1106.06,199.82 1106.57,199.95 1107.09,200.09 1107.60,200.22 1108.11,200.35 1108.62,200.49 1109.13,200.62 1109.64,200.76 1110.15,200.90 1110.66,201.03 1111.17,201.17 1111.68,201.31 1112.19,201.45 1112.71,201.59 1113.22,201.73 1113.73,201.88 1114.24,202.02 1114.75,202.16 1115.26,202.31 1115.77,202.46 1116.28,202.60 1116.79,202.75 1117.31,202.90 1117.82,203.05 1118.33,203.20 1118.84,203.35 1119.35,203.50 1119.86,203.66 1120.37,203.81 1120.88,203.97 1121.39,204.12 1121.90,204.28 1122.41,204.44 1122.93,204.60 1123.44,204.76 1123.95,204.92 1124.46,205.08 1124.97,205.24 1125.48,205.41 1125.99,205.57 1126.50,205.74 1127.01,205.90 1127.53,206.07 1128.04,206.24 1128.55,206.41 1129.06,206.58 1129.57,206.75 1130.08,206.93 1130.59,207.10 1131.10,207.28 1131.61,207.45 1132.12,207.63 1132.63,207.81 1133.15,207.99 1133.66,208.17 1134.17,208.35 1134.68,208.53 1135.19,208.71 1135.70,208.90 1136.21,209.08 1136.72,209.27 1137.23,209.46 1137.74,209.65 1138.26,209.84 1138.77,210.03 1139.28,210.22 1139.79,210.42 1140.30,210.61 1140.81,210.81 1141.32,211.01 1141.83,211.21 1142.34,211.41 1142.86,211.61 1143.37,211.81 1143.88,212.01 1144.39,212.22 1144.90,212.43 1145.41,212.63 1145.92,212.84 1146.43,213.05 1146.94,213.26 1147.45,213.48 1147.97,213.69 1148.48,213.91 1148.99,214.12 1149.50,214.34 1150.01,214.56 1150.52,214.78 1151.03,215.01 1151.54,215.23 1152.05,215.46 1152.56,215.68 1153.08,215.91 1153.59,216.14 1154.10,216.37 1154.61,216.61 1155.12,216.84 1155.63,217.08 1156.14,217.31 1156.65,217.55 1157.16,217.79 1157.67,218.04 1158.18,218.28 1158.70,218.52 1159.21,218.77 1159.72,219.02 1160.23,219.27 1160.74,219.52 1161.25,219.78 1161.76,220.03 1162.27,220.29 1162.78,220.55 1163.30,220.81 1163.81,221.07 1164.32,221.34 1164.83,221.60 1165.34,221.87 1165.85,222.14 1166.36,222.41 1166.87,222.69 1167.38,222.96 1167.89,223.24 1168.40,223.52 1168.92,223.80 1169.43,224.08 1169.94,224.37 1170.45,224.66 1170.96,224.95 1171.47,225.24 1171.98,225.53 1172.49,225.83 1173.00,226.13 1173.52,226.43 1174.03,226.73 1174.54,227.04 1175.05,227.34 1175.56,227.65 1176.07,227.97 1176.58,228.28 1177.09,228.60 1177.60,228.92 1178.11,229.24 1178.62,229.56 1179.14,229.89 1179.65,230.22 1180.16,230.55 1180.67,230.89 1181.18,231.22 1181.69,231.56 1182.20,231.91 1182.71,232.25 1183.22,232.60 1183.74,232.95 1184.25,233.31 1184.76,233.66 1185.27,234.02 1185.78,234.39 1186.29,234.75 1186.80,235.12 1187.31,235.50 1187.82,235.87 1188.33,236.25 1188.85,236.63 1189.36,237.02 1189.87,237.41 1190.38,237.80 1190.89,238.20 1191.40,238.60 1191.91,239.00 1192.42,239.41 1192.93,239.82 1193.44,240.24 1193.95,240.66 1194.47,241.08 1194.98,241.51 1195.49,241.94 1196.00,242.37 1196.51,242.81 1197.02,243.26 1197.53,243.71 1198.04,244.16 1198.55,244.62 1199.07,245.08 1199.58,245.55 1200.09,246.02 1200.60,246.50 1201.11,246.98 1201.62,247.47 1202.13,247.97 1202.64,248.46 1203.15,248.97 1203.66,249.48 1204.17,250.00 1204.69,250.52 1205.20,251.05 1205.71,251.58 1206.22,252.12 1206.73,252.67 1207.24,253.22 1207.75,253.79 1208.26,254.35 1208.77,254.93 1209.28,255.51 1209.80,256.10 1210.31,256.70 1210.82,257.31 1211.33,257.92 1211.84,258.55 1212.35,259.18 1212.86,259.82 1213.37,260.47 1213.88,261.13 1214.39,261.80 1214.91,262.48 1215.42,263.17 1215.93,263.87 1216.44,264.59 1216.95,265.31 1217.46,266.05 1217.97,266.80 1218.48,267.56 1218.99,268.33 1219.51,269.12 1220.02,269.93 1220.53,270.74 1221.04,271.58 1221.55,272.43 1222.06,273.29 1222.57,274.18 1223.08,275.08 1223.59,276.01 1224.10,276.95 1224.62,277.91 1225.13,278.90 1225.64,279.91 1226.15,280.94 1226.66,282.00 1227.17,283.09 1227.68,284.20 1228.19,285.35 1228.70,286.53 1229.21,287.75 1229.72,289.00 1230.24,290.29 1230.75,291.63 1231.26,293.01 1231.77,294.44 1232.28,295.92 1232.79,297.46 1233.30,299.07 1233.81,300.75 1234.32,302.51 1234.84,304.35 1235.35,306.29 1235.86,308.34 1236.37,310.52 1236.88,312.83 1237.39,315.32 1237.90,318.00 1238.41,320.92 1238.92,324.13 1239.43,327.72 1239.94,331.78 1240.46,336.52 1240.97,342.26 1241.48,349.69 1241.99,360.78" fill="none" stroke="#E07E00" stroke-width="3.0" stroke-dasharray="11.9 10.95" stroke-dashoffset="-12.14" stroke-linejoin="round"/>
<polyline points="732.01,398.81 732.52,390.26 733.03,383.71 733.54,378.19 734.05,373.34 734.57,368.95 735.08,364.93 735.59,361.19 736.10,357.69 736.61,354.38 737.12,351.23 737.63,348.23 738.14,345.36 738.65,342.60 739.16,339.94 739.68,337.38 740.19,334.89 740.70,332.48 741.21,330.14 741.72,327.87 742.23,325.66 742.74,323.50 743.25,321.39 743.76,319.33 744.27,317.32 744.79,315.35 745.30,313.42 745.81,311.53 746.32,309.67 746.83,307.85 747.34,306.06 747.85,304.31 748.36,302.58 748.87,300.89 749.38,299.22 749.90,297.57 750.41,295.96 750.92,294.36 751.43,292.79 751.94,291.24 752.45,289.72 752.96,288.21 753.47,286.73 753.98,285.27 754.50,283.82 755.01,282.39 755.52,280.98 756.03,279.59 756.54,278.21 757.05,276.86 757.56,275.51 758.07,274.18 758.58,272.87 759.09,271.57 759.61,270.29 760.12,269.02 760.63,267.76 761.14,266.51 761.65,265.28 762.16,264.06 762.67,262.86 763.18,261.66 763.69,260.48 764.20,259.31 764.72,258.15 765.23,257.00 765.74,255.86 766.25,254.73 766.76,253.61 767.27,252.51 767.78,251.41 768.29,250.32 768.80,249.24 769.31,248.17 769.83,247.11 770.34,246.06 770.85,245.02 771.36,243.98 771.87,242.96 772.38,241.94 772.89,240.93 773.40,239.93 773.91,238.94 774.42,237.95 774.93,236.97 775.45,236.00 775.96,235.04 776.47,234.08 776.98,233.14 777.49,232.19 778.00,231.26 778.51,230.33 779.02,229.41 779.53,228.50 780.04,227.59 780.56,226.69 781.07,225.80 781.58,224.91 782.09,224.03 782.60,223.15 783.11,222.28 783.62,221.42 784.13,220.56 784.64,219.71 785.15,218.86 785.67,218.02 786.18,217.19 786.69,216.36 787.20,215.53 787.71,214.71 788.22,213.90 788.73,213.09 789.24,212.29 789.75,211.49 790.26,210.70 790.78,209.91 791.29,209.13 791.80,208.35 792.31,207.58 792.82,206.81 793.33,206.05 793.84,205.29 794.35,204.54 794.86,203.79 795.38,203.04 795.89,202.30 796.40,201.57 796.91,200.84 797.42,200.11 797.93,199.39 798.44,198.67 798.95,197.96 799.46,197.25 799.97,196.54 800.49,195.84 801.00,195.14 801.51,194.45 802.02,193.76 802.53,193.08 803.04,192.40 803.55,191.72 804.06,191.05 804.57,190.38 805.08,189.71 805.60,189.05 806.11,188.39 806.62,187.74 807.13,187.09 807.64,186.44 808.15,185.80 808.66,185.16 809.17,184.52 809.68,183.89 810.19,183.26 810.71,182.63 811.22,182.01 811.73,181.39 812.24,180.78 812.75,180.17 813.26,179.56 813.77,178.95 814.28,178.35 814.79,177.75 815.30,177.15 815.82,176.56 816.33,175.97 816.84,175.39 817.35,174.80 817.86,174.22 818.37,173.65 818.88,173.07 819.39,172.50 819.90,171.94 820.41,171.37 820.92,170.81 821.44,170.25 821.95,169.70 822.46,169.15 822.97,168.60 823.48,168.05 823.99,167.51 824.50,166.96 825.01,166.43 825.52,165.89 826.03,165.36 826.55,164.83 827.06,164.30 827.57,163.78 828.08,163.26 828.59,162.74 829.10,162.22 829.61,161.71 830.12,161.20 830.63,160.69 831.14,160.19 831.66,159.68 832.17,159.18 832.68,158.69 833.19,158.19 833.70,157.70 834.21,157.21 834.72,156.72 835.23,156.24 835.74,155.76 836.25,155.28 836.77,154.80 837.28,154.33 837.79,153.85 838.30,153.38 838.81,152.92 839.32,152.45 839.83,151.99 840.34,151.53 840.85,151.07 841.37,150.62 841.88,150.16 842.39,149.71 842.90,149.27 843.41,148.82 843.92,148.38 844.43,147.93 844.94,147.50 845.45,147.06 845.96,146.62 846.48,146.19 846.99,145.76 847.50,145.33 848.01,144.91 848.52,144.49 849.03,144.07 849.54,143.65 850.05,143.23 850.56,142.82 851.07,142.40 851.59,141.99 852.10,141.58 852.61,141.18 853.12,140.78 853.63,140.37 854.14,139.97 854.65,139.58 855.16,139.18 855.67,138.79 856.18,138.40 856.70,138.01 857.21,137.62 857.72,137.24 858.23,136.85 858.74,136.47 859.25,136.09 859.76,135.72 860.27,135.34 860.78,134.97 861.29,134.60 861.81,134.23 862.32,133.86 862.83,133.50 863.34,133.13 863.85,132.77 864.36,132.41 864.87,132.06 865.38,131.70 865.89,131.35 866.40,131.00 866.91,130.65 867.43,130.30 867.94,129.95 868.45,129.61 868.96,129.27 869.47,128.93 869.98,128.59 870.49,128.25 871.00,127.92 871.51,127.59 872.02,127.26 872.54,126.93 873.05,126.60 873.56,126.28 874.07,125.95 874.58,125.63 875.09,125.31 875.60,124.99 876.11,124.68 876.62,124.36 877.13,124.05 877.65,123.74 878.16,123.43 878.67,123.12 879.18,122.82 879.69,122.51 880.20,122.21 880.71,121.91 881.22,121.61 881.73,121.32 882.25,121.02 882.76,120.73 883.27,120.44 883.78,120.15 884.29,119.86 884.80,119.57 885.31,119.29 885.82,119.00 886.33,118.72 886.84,118.44 887.36,118.16 887.87,117.89 888.38,117.61 888.89,117.34 889.40,117.07 889.91,116.80 890.42,116.53 890.93,116.26 891.44,116.00 891.95,115.74 892.47,115.47 892.98,115.21 893.49,114.96 894.00,114.70 894.51,114.44 895.02,114.19 895.53,113.94 896.04,113.69 896.55,113.44 897.06,113.19 897.58,112.95 898.09,112.70 898.60,112.46 899.11,112.22 899.62,111.98 900.13,111.75 900.64,111.51 901.15,111.28 901.66,111.04 902.17,110.81 902.68,110.58 903.20,110.35 903.71,110.13 904.22,109.90 904.73,109.68 905.24,109.46 905.75,109.24 906.26,109.02 906.77,108.80 907.28,108.59 907.80,108.37 908.31,108.16 908.82,107.95 909.33,107.74 909.84,107.53 910.35,107.32 910.86,107.12 911.37,106.91 911.88,106.71 912.39,106.51 912.90,106.31 913.42,106.12 913.93,105.92 914.44,105.72 914.95,105.53 915.46,105.34 915.97,105.15 916.48,104.96 916.99,104.77 917.50,104.59 918.01,104.40 918.53,104.22 919.04,104.04 919.55,103.86 920.06,103.68 920.57,103.50 921.08,103.33 921.59,103.16 922.10,102.98 922.61,102.81 923.12,102.64 923.64,102.47 924.15,102.31 924.66,102.14 925.17,101.98 925.68,101.81 926.19,101.65 926.70,101.49 927.21,101.34 927.72,101.18 928.24,101.02 928.75,100.87 929.26,100.72 929.77,100.57 930.28,100.42 930.79,100.27 931.30,100.12 931.81,99.98 932.32,99.83 932.83,99.69 933.35,99.55 933.86,99.41 934.37,99.27 934.88,99.13 935.39,99.00 935.90,98.86 936.41,98.73 936.92,98.60 937.43,98.47 937.94,98.34 938.45,98.21 938.97,98.09 939.48,97.96 939.99,97.84 940.50,97.72 941.01,97.60 941.52,97.48 942.03,97.36 942.54,97.24 943.05,97.13 943.57,97.01 944.08,96.90 944.59,96.79 945.10,96.68 945.61,96.57 946.12,96.47 946.63,96.36 947.14,96.26 947.65,96.15 948.16,96.05 948.67,95.95 949.19,95.85 949.70,95.76 950.21,95.66 950.72,95.57 951.23,95.47 951.74,95.38 952.25,95.29 952.76,95.20 953.27,95.11 953.78,95.03 954.30,94.94 954.81,94.86 955.32,94.78 955.83,94.69 956.34,94.61 956.85,94.54 957.36,94.46 957.87,94.38 958.38,94.31 958.89,94.24 959.41,94.16 959.92,94.09 960.43,94.02 960.94,93.96 961.45,93.89 961.96,93.83 962.47,93.76 962.98,93.70 963.49,93.64 964.00,93.58 964.52,93.52 965.03,93.46 965.54,93.41 966.05,93.35 966.56,93.30 967.07,93.25 967.58,93.20 968.09,93.15 968.60,93.10 969.12,93.05 969.63,93.01 970.14,92.96 970.65,92.92 971.16,92.88 971.67,92.84 972.18,92.80 972.69,92.76 973.20,92.73 973.71,92.69 974.23,92.66 974.74,92.63 975.25,92.60 975.76,92.57 976.27,92.54 976.78,92.51 977.29,92.49 977.80,92.46 978.31,92.44 978.82,92.42 979.34,92.40 979.85,92.38 980.36,92.36 980.87,92.34 981.38,92.33 981.89,92.32 982.40,92.30 982.91,92.29 983.42,92.28 983.93,92.27 984.45,92.27 984.96,92.26 985.47,92.26 985.98,92.25 986.49,92.25 987.00,92.25 987.51,92.25 988.02,92.25 988.53,92.26 989.04,92.26 989.56,92.27 990.07,92.27 990.58,92.28 991.09,92.29 991.60,92.30 992.11,92.32 992.62,92.33 993.13,92.34 993.64,92.36 994.15,92.38 994.66,92.40 995.18,92.42 995.69,92.44 996.20,92.46 996.71,92.49 997.22,92.51 997.73,92.54 998.24,92.57 998.75,92.60 999.26,92.63 999.78,92.66 1000.29,92.69 1000.80,92.73 1001.31,92.76 1001.82,92.80 1002.33,92.84 1002.84,92.88 1003.35,92.92 1003.86,92.96 1004.37,93.01 1004.88,93.05 1005.40,93.10 1005.91,93.15 1006.42,93.20 1006.93,93.25 1007.44,93.30 1007.95,93.35 1008.46,93.41 1008.97,93.46 1009.48,93.52 1010.00,93.58 1010.51,93.64 1011.02,93.70 1011.53,93.76 1012.04,93.83 1012.55,93.89 1013.06,93.96 1013.57,94.02 1014.08,94.09 1014.59,94.16 1015.11,94.24 1015.62,94.31 1016.13,94.38 1016.64,94.46 1017.15,94.54 1017.66,94.61 1018.17,94.69 1018.68,94.78 1019.19,94.86 1019.70,94.94 1020.22,95.03 1020.73,95.11 1021.24,95.20 1021.75,95.29 1022.26,95.38 1022.77,95.47 1023.28,95.57 1023.79,95.66 1024.30,95.76 1024.81,95.85 1025.33,95.95 1025.84,96.05 1026.35,96.15 1026.86,96.26 1027.37,96.36 1027.88,96.47 1028.39,96.57 1028.90,96.68 1029.41,96.79 1029.92,96.90 1030.43,97.01 1030.95,97.13 1031.46,97.24 1031.97,97.36 1032.48,97.48 1032.99,97.60 1033.50,97.72 1034.01,97.84 1034.52,97.96 1035.03,98.09 1035.55,98.21 1036.06,98.34 1036.57,98.47 1037.08,98.60 1037.59,98.73 1038.10,98.86 1038.61,99.00 1039.12,99.13 1039.63,99.27 1040.14,99.41 1040.65,99.55 1041.17,99.69 1041.68,99.83 1042.19,99.98 1042.70,100.12 1043.21,100.27 1043.72,100.42 1044.23,100.57 1044.74,100.72 1045.25,100.87 1045.77,101.02 1046.28,101.18 1046.79,101.34 1047.30,101.49 1047.81,101.65 1048.32,101.81 1048.83,101.98 1049.34,102.14 1049.85,102.31 1050.36,102.47 1050.88,102.64 1051.39,102.81 1051.90,102.98 1052.41,103.16 1052.92,103.33 1053.43,103.50 1053.94,103.68 1054.45,103.86 1054.96,104.04 1055.47,104.22 1055.99,104.40 1056.50,104.59 1057.01,104.77 1057.52,104.96 1058.03,105.15 1058.54,105.34 1059.05,105.53 1059.56,105.72 1060.07,105.92 1060.58,106.12 1061.10,106.31 1061.61,106.51 1062.12,106.71 1062.63,106.91 1063.14,107.12 1063.65,107.32 1064.16,107.53 1064.67,107.74 1065.18,107.95 1065.69,108.16 1066.20,108.37 1066.72,108.59 1067.23,108.80 1067.74,109.02 1068.25,109.24 1068.76,109.46 1069.27,109.68 1069.78,109.90 1070.29,110.13 1070.80,110.35 1071.32,110.58 1071.83,110.81 1072.34,111.04 1072.85,111.28 1073.36,111.51 1073.87,111.75 1074.38,111.98 1074.89,112.22 1075.40,112.46 1075.91,112.70 1076.42,112.95 1076.94,113.19 1077.45,113.44 1077.96,113.69 1078.47,113.94 1078.98,114.19 1079.49,114.44 1080.00,114.70 1080.51,114.96 1081.02,115.21 1081.53,115.47 1082.05,115.74 1082.56,116.00 1083.07,116.26 1083.58,116.53 1084.09,116.80 1084.60,117.07 1085.11,117.34 1085.62,117.61 1086.13,117.89 1086.64,118.16 1087.16,118.44 1087.67,118.72 1088.18,119.00 1088.69,119.29 1089.20,119.57 1089.71,119.86 1090.22,120.15 1090.73,120.44 1091.24,120.73 1091.76,121.02 1092.27,121.32 1092.78,121.61 1093.29,121.91 1093.80,122.21 1094.31,122.51 1094.82,122.82 1095.33,123.12 1095.84,123.43 1096.35,123.74 1096.87,124.05 1097.38,124.36 1097.89,124.68 1098.40,124.99 1098.91,125.31 1099.42,125.63 1099.93,125.95 1100.44,126.28 1100.95,126.60 1101.46,126.93 1101.97,127.26 1102.49,127.59 1103.00,127.92 1103.51,128.25 1104.02,128.59 1104.53,128.93 1105.04,129.27 1105.55,129.61 1106.06,129.95 1106.57,130.30 1107.09,130.65 1107.60,131.00 1108.11,131.35 1108.62,131.70 1109.13,132.06 1109.64,132.41 1110.15,132.77 1110.66,133.13 1111.17,133.50 1111.68,133.86 1112.19,134.23 1112.71,134.60 1113.22,134.97 1113.73,135.34 1114.24,135.72 1114.75,136.09 1115.26,136.47 1115.77,136.85 1116.28,137.24 1116.79,137.62 1117.31,138.01 1117.82,138.40 1118.33,138.79 1118.84,139.18 1119.35,139.58 1119.86,139.97 1120.37,140.37 1120.88,140.78 1121.39,141.18 1121.90,141.58 1122.41,141.99 1122.93,142.40 1123.44,142.82 1123.95,143.23 1124.46,143.65 1124.97,144.07 1125.48,144.49 1125.99,144.91 1126.50,145.33 1127.01,145.76 1127.53,146.19 1128.04,146.62 1128.55,147.06 1129.06,147.50 1129.57,147.93 1130.08,148.38 1130.59,148.82 1131.10,149.27 1131.61,149.71 1132.12,150.16 1132.63,150.62 1133.15,151.07 1133.66,151.53 1134.17,151.99 1134.68,152.45 1135.19,152.92 1135.70,153.38 1136.21,153.85 1136.72,154.33 1137.23,154.80 1137.74,155.28 1138.26,155.76 1138.77,156.24 1139.28,156.72 1139.79,157.21 1140.30,157.70 1140.81,158.19 1141.32,158.69 1141.83,159.18 1142.34,159.68 1142.86,160.19 1143.37,160.69 1143.88,161.20 1144.39,161.71 1144.90,162.22 1145.41,162.74 1145.92,163.26 1146.43,163.78 1146.94,164.30 1147.45,164.83 1147.97,165.36 1148.48,165.89 1148.99,166.43 1149.50,166.96 1150.01,167.51 1150.52,168.05 1151.03,168.60 1151.54,169.15 1152.05,169.70 1152.56,170.25 1153.08,170.81 1153.59,171.37 1154.10,171.94 1154.61,172.50 1155.12,173.07 1155.63,173.65 1156.14,174.22 1156.65,174.80 1157.16,175.39 1157.67,175.97 1158.18,176.56 1158.70,177.15 1159.21,177.75 1159.72,178.35 1160.23,178.95 1160.74,179.56 1161.25,180.17 1161.76,180.78 1162.27,181.39 1162.78,182.01 1163.30,182.63 1163.81,183.26 1164.32,183.89 1164.83,184.52 1165.34,185.16 1165.85,185.80 1166.36,186.44 1166.87,187.09 1167.38,187.74 1167.89,188.39 1168.40,189.05 1168.92,189.71 1169.43,190.38 1169.94,191.05 1170.45,191.72 1170.96,192.40 1171.47,193.08 1171.98,193.76 1172.49,194.45 1173.00,195.14 1173.52,195.84 1174.03,196.54 1174.54,197.25 1175.05,197.96 1175.56,198.67 1176.07,199.39 1176.58,200.11 1177.09,200.84 1177.60,201.57 1178.11,202.30 1178.62,203.04 1179.14,203.79 1179.65,204.54 1180.16,205.29 1180.67,206.05 1181.18,206.81 1181.69,207.58 1182.20,208.35 1182.71,209.13 1183.22,209.91 1183.74,210.70 1184.25,211.49 1184.76,212.29 1185.27,213.09 1185.78,213.90 1186.29,214.71 1186.80,215.53 1187.31,216.36 1187.82,217.19 1188.33,218.02 1188.85,218.86 1189.36,219.71 1189.87,220.56 1190.38,221.42 1190.89,222.28 1191.40,223.15 1191.91,224.03 1192.42,224.91 1192.93,225.80 1193.44,226.69 1193.95,227.59 1194.47,228.50 1194.98,229.41 1195.49,230.33 1196.00,231.26 1196.51,232.19 1197.02,233.14 1197.53,234.08 1198.04,235.04 1198.55,236.00 1199.07,236.97 1199.58,237.95 1200.09,238.94 1200.60,239.93 1201.11,240.93 1201.62,241.94 1202.13,242.96 1202.64,243.98 1203.15,245.02 1203.66,246.06 1204.17,247.11 1204.69,248.17 1205.20,249.24 1205.71,250.32 1206.22,251.41 1206.73,252.51 1207.24,253.61 1207.75,254.73 1208.26,255.86 1208.77,257.00 1209.28,258.15 1209.80,259.31 1210.31,260.48 1210.82,261.66 1211.33,262.86 1211.84,264.06 1212.35,265.28 1212.86,266.51 1213.37,267.76 1213.88,269.02 1214.39,270.29 1214.91,271.57 1215.42,272.87 1215.93,274.18 1216.44,275.51 1216.95,276.86 1217.46,278.21 1217.97,279.59 1218.48,280.98 1218.99,282.39 1219.51,283.82 1220.02,285.27 1220.53,286.73 1221.04,288.21 1221.55,289.72 1222.06,291.24 1222.57,292.79 1223.08,294.36 1223.59,295.96 1224.10,297.57 1224.62,299.22 1225.13,300.89 1225.64,302.58 1226.15,304.31 1226.66,306.06 1227.17,307.85 1227.68,309.67 1228.19,311.53 1228.70,313.42 1229.21,315.35 1229.72,317.32 1230.24,319.33 1230.75,321.39 1231.26,323.50 1231.77,325.66 1232.28,327.87 1232.79,330.14 1233.30,332.48 1233.81,334.89 1234.32,337.38 1234.84,339.94 1235.35,342.60 1235.86,345.36 1236.37,348.23 1236.88,351.23 1237.39,354.38 1237.90,357.69 1238.41,361.19 1238.92,364.93 1239.43,368.95 1239.94,373.34 1240.46,378.19 1240.97,383.71 1241.48,390.26 1241.99,398.81" fill="none" stroke="#008000" stroke-width="3.0" stroke-dasharray="11.9 10.95" stroke-dashoffset="-9.22" stroke-linejoin="round"/>
<polyline points="732.01,413.37 732.52,409.20 733.03,405.55 733.54,402.20 734.05,399.06 734.57,396.09 735.08,393.24 735.59,390.49 736.10,387.84 736.61,385.26 737.12,382.75 737.63,380.30 738.14,377.91 738.65,375.56 739.16,373.26 739.68,371.01 740.19,368.79 740.70,366.61 741.21,364.46 741.72,362.35 742.23,360.26 742.74,358.21 743.25,356.18 743.76,354.18 744.27,352.20 744.79,350.24 745.30,348.31 745.81,346.39 746.32,344.50 746.83,342.63 747.34,340.78 747.85,338.94 748.36,337.13 748.87,335.33 749.38,333.54 749.90,331.78 750.41,330.02 750.92,328.29 751.43,326.57 751.94,324.86 752.45,323.17 752.96,321.48 753.47,319.82 753.98,318.16 754.50,316.52 755.01,314.89 755.52,313.28 756.03,311.67 756.54,310.08 757.05,308.49 757.56,306.92 758.07,305.36 758.58,303.81 759.09,302.27 759.61,300.74 760.12,299.22 760.63,297.71 761.14,296.21 761.65,294.71 762.16,293.23 762.67,291.76 763.18,290.30 763.69,288.84 764.20,287.39 764.72,285.96 765.23,284.53 765.74,283.10 766.25,281.69 766.76,280.29 767.27,278.89 767.78,277.50 768.29,276.12 768.80,274.74 769.31,273.38 769.83,272.02 770.34,270.67 770.85,269.32 771.36,267.99 771.87,266.66 772.38,265.33 772.89,264.02 773.40,262.71 773.91,261.41 774.42,260.11 774.93,258.82 775.45,257.54 775.96,256.26 776.47,254.99 776.98,253.73 777.49,252.47 778.00,251.22 778.51,249.97 779.02,248.73 779.53,247.50 780.04,246.27 780.56,245.05 781.07,243.84 781.58,242.63 782.09,241.43 782.60,240.23 783.11,239.04 783.62,237.85 784.13,236.67 784.64,235.49 785.15,234.32 785.67,233.16 786.18,232.00 786.69,230.84 787.20,229.69 787.71,228.55 788.22,227.41 788.73,226.28 789.24,225.15 789.75,224.03 790.26,222.91 790.78,221.80 791.29,220.69 791.80,219.59 792.31,218.49 792.82,217.39 793.33,216.31 793.84,215.22 794.35,214.14 794.86,213.07 795.38,212.00 795.89,210.93 796.40,209.87 796.91,208.82 797.42,207.77 797.93,206.72 798.44,205.68 798.95,204.64 799.46,203.61 799.97,202.58 800.49,201.56 801.00,200.54 801.51,199.52 802.02,198.51 802.53,197.50 803.04,196.50 803.55,195.50 804.06,194.51 804.57,193.52 805.08,192.53 805.60,191.55 806.11,190.58 806.62,189.60 807.13,188.64 807.64,187.67 808.15,186.71 808.66,185.75 809.17,184.80 809.68,183.85 810.19,182.91 810.71,181.97 811.22,181.03 811.73,180.10 812.24,179.17 812.75,178.24 813.26,177.32 813.77,176.41 814.28,175.49 814.79,174.58 815.30,173.68 815.82,172.78 816.33,171.88 816.84,170.98 817.35,170.09 817.86,169.21 818.37,168.32 818.88,167.45 819.39,166.57 819.90,165.70 820.41,164.83 820.92,163.96 821.44,163.10 821.95,162.25 822.46,161.39 822.97,160.54 823.48,159.70 823.99,158.85 824.50,158.01 825.01,157.18 825.52,156.34 826.03,155.52 826.55,154.69 827.06,153.87 827.57,153.05 828.08,152.23 828.59,151.42 829.10,150.61 829.61,149.81 830.12,149.01 830.63,148.21 831.14,147.41 831.66,146.62 832.17,145.84 832.68,145.05 833.19,144.27 833.70,143.49 834.21,142.72 834.72,141.95 835.23,141.18 835.74,140.41 836.25,139.65 836.77,138.89 837.28,138.14 837.79,137.39 838.30,136.64 838.81,135.89 839.32,135.15 839.83,134.41 840.34,133.68 840.85,132.94 841.37,132.21 841.88,131.49 842.39,130.77 842.90,130.05 843.41,129.33 843.92,128.62 844.43,127.91 844.94,127.20 845.45,126.49 845.96,125.79 846.48,125.09 846.99,124.40 847.50,123.71 848.01,123.02 848.52,122.33 849.03,121.65 849.54,120.97 850.05,120.29 850.56,119.62 851.07,118.95 851.59,118.28 852.10,117.62 852.61,116.96 853.12,116.30 853.63,115.64 854.14,114.99 854.65,114.34 855.16,113.69 855.67,113.05 856.18,112.41 856.70,111.77 857.21,111.14 857.72,110.51 858.23,109.88 858.74,109.25 859.25,108.63 859.76,108.01 860.27,107.39 860.78,106.77 861.29,106.16 861.81,105.55 862.32,104.95 862.83,104.35 863.34,103.75 863.85,103.15 864.36,102.55 864.87,101.96 865.38,101.37 865.89,100.79 866.40,100.20 866.91,99.62 867.43,99.05 867.94,98.47 868.45,97.90 868.96,97.33 869.47,96.76 869.98,96.20 870.49,95.64 871.00,95.08 871.51,94.53 872.02,93.97 872.54,93.42 873.05,92.88 873.56,92.33 874.07,91.79 874.58,91.25 875.09,90.72 875.60,90.18 876.11,89.65 876.62,89.13 877.13,88.60 877.65,88.08 878.16,87.56 878.67,87.04 879.18,86.53 879.69,86.02 880.20,85.51 880.71,85.00 881.22,84.50 881.73,84.00 882.25,83.50 882.76,83.00 883.27,82.51 883.78,82.02 884.29,81.53 884.80,81.05 885.31,80.57 885.82,80.09 886.33,79.61 886.84,79.14 887.36,78.66 887.87,78.19 888.38,77.73 888.89,77.26 889.40,76.80 889.91,76.35 890.42,75.89 890.93,75.44 891.44,74.99 891.95,74.54 892.47,74.09 892.98,73.65 893.49,73.21 894.00,72.77 894.51,72.34 895.02,71.90 895.53,71.47 896.04,71.05 896.55,70.62 897.06,70.20 897.58,69.78 898.09,69.36 898.60,68.95 899.11,68.53 899.62,68.12 900.13,67.72 900.64,67.31 901.15,66.91 901.66,66.51 902.17,66.12 902.68,65.72 903.20,65.33 903.71,64.94 904.22,64.55 904.73,64.17 905.24,63.79 905.75,63.41 906.26,63.03 906.77,62.66 907.28,62.29 907.80,61.92 908.31,61.55 908.82,61.19 909.33,60.82 909.84,60.46 910.35,60.11 910.86,59.75 911.37,59.40 911.88,59.05 912.39,58.71 912.90,58.36 913.42,58.02 913.93,57.68 914.44,57.34 914.95,57.01 915.46,56.68 915.97,56.35 916.48,56.02 916.99,55.70 917.50,55.37 918.01,55.05 918.53,54.74 919.04,54.42 919.55,54.11 920.06,53.80 920.57,53.49 921.08,53.19 921.59,52.89 922.10,52.59 922.61,52.29 923.12,51.99 923.64,51.70 924.15,51.41 924.66,51.12 925.17,50.84 925.68,50.55 926.19,50.27 926.70,49.99 927.21,49.72 927.72,49.45 928.24,49.17 928.75,48.91 929.26,48.64 929.77,48.38 930.28,48.11 930.79,47.86 931.30,47.60 931.81,47.34 932.32,47.09 932.83,46.84 933.35,46.60 933.86,46.35 934.37,46.11 934.88,45.87 935.39,45.63 935.90,45.40 936.41,45.16 936.92,44.93 937.43,44.71 937.94,44.48 938.45,44.26 938.97,44.04 939.48,43.82 939.99,43.60 940.50,43.39 941.01,43.18 941.52,42.97 942.03,42.76 942.54,42.56 943.05,42.36 943.57,42.16 944.08,41.96 944.59,41.77 945.10,41.57 945.61,41.38 946.12,41.20 946.63,41.01 947.14,40.83 947.65,40.65 948.16,40.47 948.67,40.29 949.19,40.12 949.70,39.95 950.21,39.78 950.72,39.61 951.23,39.45 951.74,39.29 952.25,39.13 952.76,38.97 953.27,38.82 953.78,38.67 954.30,38.52 954.81,38.37 955.32,38.22 955.83,38.08 956.34,37.94 956.85,37.80 957.36,37.67 957.87,37.53 958.38,37.40 958.89,37.27 959.41,37.15 959.92,37.02 960.43,36.90 960.94,36.78 961.45,36.66 961.96,36.55 962.47,36.44 962.98,36.33 963.49,36.22 964.00,36.11 964.52,36.01 965.03,35.91 965.54,35.81 966.05,35.71 966.56,35.62 967.07,35.53 967.58,35.44 968.09,35.35 968.60,35.27 969.12,35.19 969.63,35.11 970.14,35.03 970.65,34.95 971.16,34.88 971.67,34.81 972.18,34.74 972.69,34.67 973.20,34.61 973.71,34.55 974.23,34.49 974.74,34.43 975.25,34.38 975.76,34.33 976.27,34.28 976.78,34.23 977.29,34.18 977.80,34.14 978.31,34.10 978.82,34.06 979.34,34.03 979.85,33.99 980.36,33.96 980.87,33.93 981.38,33.91 981.89,33.88 982.40,33.86 982.91,33.84 983.42,33.82 983.93,33.81 984.45,33.80 984.96,33.79 985.47,33.78 985.98,33.77 986.49,33.77 987.00,33.77 987.51,33.77 988.02,33.77 988.53,33.78 989.04,33.79 989.56,33.80 990.07,33.81 990.58,33.82 991.09,33.84 991.60,33.86 992.11,33.88 992.62,33.91 993.13,33.93 993.64,33.96 994.15,33.99 994.66,34.03 995.18,34.06 995.69,34.10 996.20,34.14 996.71,34.18 997.22,34.23 997.73,34.28 998.24,34.33 998.75,34.38 999.26,34.43 999.78,34.49 1000.29,34.55 1000.80,34.61 1001.31,34.67 1001.82,34.74 1002.33,34.81 1002.84,34.88 1003.35,34.95 1003.86,35.03 1004.37,35.11 1004.88,35.19 1005.40,35.27 1005.91,35.35 1006.42,35.44 1006.93,35.53 1007.44,35.62 1007.95,35.71 1008.46,35.81 1008.97,35.91 1009.48,36.01 1010.00,36.11 1010.51,36.22 1011.02,36.33 1011.53,36.44 1012.04,36.55 1012.55,36.66 1013.06,36.78 1013.57,36.90 1014.08,37.02 1014.59,37.15 1015.11,37.27 1015.62,37.40 1016.13,37.53 1016.64,37.67 1017.15,37.80 1017.66,37.94 1018.17,38.08 1018.68,38.22 1019.19,38.37 1019.70,38.52 1020.22,38.67 1020.73,38.82 1021.24,38.97 1021.75,39.13 1022.26,39.29 1022.77,39.45 1023.28,39.61 1023.79,39.78 1024.30,39.95 1024.81,40.12 1025.33,40.29 1025.84,40.47 1026.35,40.65 1026.86,40.83 1027.37,41.01 1027.88,41.20 1028.39,41.38 1028.90,41.57 1029.41,41.77 1029.92,41.96 1030.43,42.16 1030.95,42.36 1031.46,42.56 1031.97,42.76 1032.48,42.97 1032.99,43.18 1033.50,43.39 1034.01,43.60 1034.52,43.82 1035.03,44.04 1035.55,44.26 1036.06,44.48 1036.57,44.71 1037.08,44.93 1037.59,45.16 1038.10,45.40 1038.61,45.63 1039.12,45.87 1039.63,46.11 1040.14,46.35 1040.65,46.60 1041.17,46.84 1041.68,47.09 1042.19,47.34 1042.70,47.60 1043.21,47.86 1043.72,48.11 1044.23,48.38 1044.74,48.64 1045.25,48.91 1045.77,49.17 1046.28,49.45 1046.79,49.72 1047.30,49.99 1047.81,50.27 1048.32,50.55 1048.83,50.84 1049.34,51.12 1049.85,51.41 1050.36,51.70 1050.88,51.99 1051.39,52.29 1051.90,52.59 1052.41,52.89 1052.92,53.19 1053.43,53.49 1053.94,53.80 1054.45,54.11 1054.96,54.42 1055.47,54.74 1055.99,55.05 1056.50,55.37 1057.01,55.70 1057.52,56.02 1058.03,56.35 1058.54,56.68 1059.05,57.01 1059.56,57.34 1060.07,57.68 1060.58,58.02 1061.10,58.36 1061.61,58.71 1062.12,59.05 1062.63,59.40 1063.14,59.75 1063.65,60.11 1064.16,60.46 1064.67,60.82 1065.18,61.19 1065.69,61.55 1066.20,61.92 1066.72,62.29 1067.23,62.66 1067.74,63.03 1068.25,63.41 1068.76,63.79 1069.27,64.17 1069.78,64.55 1070.29,64.94 1070.80,65.33 1071.32,65.72 1071.83,66.12 1072.34,66.51 1072.85,66.91 1073.36,67.31 1073.87,67.72 1074.38,68.12 1074.89,68.53 1075.40,68.95 1075.91,69.36 1076.42,69.78 1076.94,70.20 1077.45,70.62 1077.96,71.05 1078.47,71.47 1078.98,71.90 1079.49,72.34 1080.00,72.77 1080.51,73.21 1081.02,73.65 1081.53,74.09 1082.05,74.54 1082.56,74.99 1083.07,75.44 1083.58,75.89 1084.09,76.35 1084.60,76.80 1085.11,77.26 1085.62,77.73 1086.13,78.19 1086.64,78.66 1087.16,79.14 1087.67,79.61 1088.18,80.09 1088.69,80.57 1089.20,81.05 1089.71,81.53 1090.22,82.02 1090.73,82.51 1091.24,83.00 1091.76,83.50 1092.27,84.00 1092.78,84.50 1093.29,85.00 1093.80,85.51 1094.31,86.02 1094.82,86.53 1095.33,87.04 1095.84,87.56 1096.35,88.08 1096.87,88.60 1097.38,89.13 1097.89,89.65 1098.40,90.18 1098.91,90.72 1099.42,91.25 1099.93,91.79 1100.44,92.33 1100.95,92.88 1101.46,93.42 1101.97,93.97 1102.49,94.53 1103.00,95.08 1103.51,95.64 1104.02,96.20 1104.53,96.76 1105.04,97.33 1105.55,97.90 1106.06,98.47 1106.57,99.05 1107.09,99.62 1107.60,100.20 1108.11,100.79 1108.62,101.37 1109.13,101.96 1109.64,102.55 1110.15,103.15 1110.66,103.75 1111.17,104.35 1111.68,104.95 1112.19,105.55 1112.71,106.16 1113.22,106.77 1113.73,107.39 1114.24,108.01 1114.75,108.63 1115.26,109.25 1115.77,109.88 1116.28,110.51 1116.79,111.14 1117.31,111.77 1117.82,112.41 1118.33,113.05 1118.84,113.69 1119.35,114.34 1119.86,114.99 1120.37,115.64 1120.88,116.30 1121.39,116.96 1121.90,117.62 1122.41,118.28 1122.93,118.95 1123.44,119.62 1123.95,120.29 1124.46,120.97 1124.97,121.65 1125.48,122.33 1125.99,123.02 1126.50,123.71 1127.01,124.40 1127.53,125.09 1128.04,125.79 1128.55,126.49 1129.06,127.20 1129.57,127.91 1130.08,128.62 1130.59,129.33 1131.10,130.05 1131.61,130.77 1132.12,131.49 1132.63,132.21 1133.15,132.94 1133.66,133.68 1134.17,134.41 1134.68,135.15 1135.19,135.89 1135.70,136.64 1136.21,137.39 1136.72,138.14 1137.23,138.89 1137.74,139.65 1138.26,140.41 1138.77,141.18 1139.28,141.95 1139.79,142.72 1140.30,143.49 1140.81,144.27 1141.32,145.05 1141.83,145.84 1142.34,146.62 1142.86,147.41 1143.37,148.21 1143.88,149.01 1144.39,149.81 1144.90,150.61 1145.41,151.42 1145.92,152.23 1146.43,153.05 1146.94,153.87 1147.45,154.69 1147.97,155.52 1148.48,156.34 1148.99,157.18 1149.50,158.01 1150.01,158.85 1150.52,159.70 1151.03,160.54 1151.54,161.39 1152.05,162.25 1152.56,163.10 1153.08,163.96 1153.59,164.83 1154.10,165.70 1154.61,166.57 1155.12,167.45 1155.63,168.32 1156.14,169.21 1156.65,170.09 1157.16,170.98 1157.67,171.88 1158.18,172.78 1158.70,173.68 1159.21,174.58 1159.72,175.49 1160.23,176.41 1160.74,177.32 1161.25,178.24 1161.76,179.17 1162.27,180.10 1162.78,181.03 1163.30,181.97 1163.81,182.91 1164.32,183.85 1164.83,184.80 1165.34,185.75 1165.85,186.71 1166.36,187.67 1166.87,188.64 1167.38,189.60 1167.89,190.58 1168.40,191.55 1168.92,192.53 1169.43,193.52 1169.94,194.51 1170.45,195.50 1170.96,196.50 1171.47,197.50 1171.98,198.51 1172.49,199.52 1173.00,200.54 1173.52,201.56 1174.03,202.58 1174.54,203.61 1175.05,204.64 1175.56,205.68 1176.07,206.72 1176.58,207.77 1177.09,208.82 1177.60,209.87 1178.11,210.93 1178.62,212.00 1179.14,213.07 1179.65,214.14 1180.16,215.22 1180.67,216.31 1181.18,217.39 1181.69,218.49 1182.20,219.59 1182.71,220.69 1183.22,221.80 1183.74,222.91 1184.25,224.03 1184.76,225.15 1185.27,226.28 1185.78,227.41 1186.29,228.55 1186.80,229.69 1187.31,230.84 1187.82,232.00 1188.33,233.16 1188.85,234.32 1189.36,235.49 1189.87,236.67 1190.38,237.85 1190.89,239.04 1191.40,240.23 1191.91,241.43 1192.42,242.63 1192.93,243.84 1193.44,245.05 1193.95,246.27 1194.47,247.50 1194.98,248.73 1195.49,249.97 1196.00,251.22 1196.51,252.47 1197.02,253.73 1197.53,254.99 1198.04,256.26 1198.55,257.54 1199.07,258.82 1199.58,260.11 1200.09,261.41 1200.60,262.71 1201.11,264.02 1201.62,265.33 1202.13,266.66 1202.64,267.99 1203.15,269.32 1203.66,270.67 1204.17,272.02 1204.69,273.38 1205.20,274.74 1205.71,276.12 1206.22,277.50 1206.73,278.89 1207.24,280.29 1207.75,281.69 1208.26,283.10 1208.77,284.53 1209.28,285.96 1209.80,287.39 1210.31,288.84 1210.82,290.30 1211.33,291.76 1211.84,293.23 1212.35,294.71 1212.86,296.21 1213.37,297.71 1213.88,299.22 1214.39,300.74 1214.91,302.27 1215.42,303.81 1215.93,305.36 1216.44,306.92 1216.95,308.49 1217.46,310.08 1217.97,311.67 1218.48,313.28 1218.99,314.89 1219.51,316.52 1220.02,318.16 1220.53,319.82 1221.04,321.48 1221.55,323.17 1222.06,324.86 1222.57,326.57 1223.08,328.29 1223.59,330.02 1224.10,331.78 1224.62,333.54 1225.13,335.33 1225.64,337.13 1226.15,338.94 1226.66,340.78 1227.17,342.63 1227.68,344.50 1228.19,346.39 1228.70,348.31 1229.21,350.24 1229.72,352.20 1230.24,354.18 1230.75,356.18 1231.26,358.21 1231.77,360.26 1232.28,362.35 1232.79,364.46 1233.30,366.61 1233.81,368.79 1234.32,371.01 1234.84,373.26 1235.35,375.56 1235.86,377.91 1236.37,380.30 1236.88,382.75 1237.39,385.26 1237.90,387.84 1238.41,390.49 1238.92,393.24 1239.43,396.09 1239.94,399.06 1240.46,402.20 1240.97,405.55 1241.48,409.20 1241.99,413.37" fill="none" stroke="#FA0A64" stroke-width="3.0" stroke-dasharray="11.9 10.95" stroke-dashoffset="-2.93" stroke-linejoin="round"/>
<polyline points="732.01,417.87 732.52,416.23 733.03,414.61 733.54,412.98 734.05,411.36 734.57,409.74 735.08,408.13 735.59,406.51 736.10,404.91 736.61,403.30 737.12,401.70 737.63,400.10 738.14,398.51 738.65,396.91 739.16,395.32 739.68,393.74 740.19,392.16 740.70,390.58 741.21,389.00 741.72,387.43 742.23,385.86 742.74,384.29 743.25,382.73 743.76,381.17 744.27,379.62 744.79,378.06 745.30,376.51 745.81,374.97 746.32,373.42 746.83,371.89 747.34,370.35 747.85,368.82 748.36,367.29 748.87,365.76 749.38,364.24 749.90,362.72 750.41,361.20 750.92,359.69 751.43,358.17 751.94,356.67 752.45,355.16 752.96,353.66 753.47,352.17 753.98,350.67 754.50,349.18 755.01,347.69 755.52,346.21 756.03,344.73 756.54,343.25 757.05,341.78 757.56,340.31 758.07,338.84 758.58,337.37 759.09,335.91 759.61,334.46 760.12,333.00 760.63,331.55 761.14,330.10 761.65,328.66 762.16,327.22 762.67,325.78 763.18,324.34 763.69,322.91 764.20,321.48 764.72,320.06 765.23,318.64 765.74,317.22 766.25,315.80 766.76,314.39 767.27,312.98 767.78,311.57 768.29,310.17 768.80,308.77 769.31,307.38 769.83,305.99 770.34,304.60 770.85,303.21 771.36,301.83 771.87,300.45 772.38,299.07 772.89,297.70 773.40,296.33 773.91,294.96 774.42,293.60 774.93,292.24 775.45,290.88 775.96,289.53 776.47,288.18 776.98,286.83 777.49,285.49 778.00,284.15 778.51,282.81 779.02,281.48 779.53,280.15 780.04,278.82 780.56,277.50 781.07,276.18 781.58,274.86 782.09,273.55 782.60,272.24 783.11,270.93 783.62,269.63 784.13,268.33 784.64,267.03 785.15,265.73 785.67,264.44 786.18,263.15 786.69,261.87 787.20,260.59 787.71,259.31 788.22,258.04 788.73,256.77 789.24,255.50 789.75,254.23 790.26,252.97 790.78,251.71 791.29,250.46 791.80,249.21 792.31,247.96 792.82,246.71 793.33,245.47 793.84,244.23 794.35,243.00 794.86,241.76 795.38,240.54 795.89,239.31 796.40,238.09 796.91,236.87 797.42,235.65 797.93,234.44 798.44,233.23 798.95,232.03 799.46,230.82 799.97,229.62 800.49,228.43 801.00,227.23 801.51,226.04 802.02,224.86 802.53,223.68 803.04,222.50 803.55,221.32 804.06,220.15 804.57,218.98 805.08,217.81 805.60,216.65 806.11,215.49 806.62,214.33 807.13,213.18 807.64,212.03 808.15,210.88 808.66,209.73 809.17,208.59 809.68,207.46 810.19,206.32 810.71,205.19 811.22,204.06 811.73,202.94 812.24,201.82 812.75,200.70 813.26,199.59 813.77,198.48 814.28,197.37 814.79,196.26 815.30,195.16 815.82,194.07 816.33,192.97 816.84,191.88 817.35,190.79 817.86,189.71 818.37,188.63 818.88,187.55 819.39,186.47 819.90,185.40 820.41,184.33 820.92,183.27 821.44,182.20 821.95,181.15 822.46,180.09 822.97,179.04 823.48,177.99 823.99,176.94 824.50,175.90 825.01,174.86 825.52,173.83 826.03,172.79 826.55,171.77 827.06,170.74 827.57,169.72 828.08,168.70 828.59,167.68 829.10,166.67 829.61,165.66 830.12,164.65 830.63,163.65 831.14,162.65 831.66,161.65 832.17,160.66 832.68,159.67 833.19,158.68 833.70,157.70 834.21,156.72 834.72,155.74 835.23,154.77 835.74,153.80 836.25,152.83 836.77,151.87 837.28,150.91 837.79,149.95 838.30,149.00 838.81,148.05 839.32,147.10 839.83,146.15 840.34,145.21 840.85,144.28 841.37,143.34 841.88,142.41 842.39,141.48 842.90,140.56 843.41,139.64 843.92,138.72 844.43,137.80 844.94,136.89 845.45,135.99 845.96,135.08 846.48,134.18 846.99,133.28 847.50,132.39 848.01,131.49 848.52,130.61 849.03,129.72 849.54,128.84 850.05,127.96 850.56,127.08 851.07,126.21 851.59,125.34 852.10,124.48 852.61,123.62 853.12,122.76 853.63,121.90 854.14,121.05 854.65,120.20 855.16,119.35 855.67,118.51 856.18,117.67 856.70,116.83 857.21,116.00 857.72,115.17 858.23,114.35 858.74,113.52 859.25,112.70 859.76,111.89 860.27,111.07 860.78,110.26 861.29,109.46 861.81,108.65 862.32,107.85 862.83,107.06 863.34,106.26 863.85,105.47 864.36,104.69 864.87,103.90 865.38,103.12 865.89,102.34 866.40,101.57 866.91,100.80 867.43,100.03 867.94,99.27 868.45,98.51 868.96,97.75 869.47,97.00 869.98,96.24 870.49,95.50 871.00,94.75 871.51,94.01 872.02,93.27 872.54,92.54 873.05,91.81 873.56,91.08 874.07,90.35 874.58,89.63 875.09,88.91 875.60,88.20 876.11,87.49 876.62,86.78 877.13,86.07 877.65,85.37 878.16,84.67 878.67,83.98 879.18,83.28 879.69,82.60 880.20,81.91 880.71,81.23 881.22,80.55 881.73,79.87 882.25,79.20 882.76,78.53 883.27,77.87 883.78,77.20 884.29,76.54 884.80,75.89 885.31,75.23 885.82,74.59 886.33,73.94 886.84,73.30 887.36,72.66 887.87,72.02 888.38,71.39 888.89,70.76 889.40,70.13 889.91,69.51 890.42,68.89 890.93,68.27 891.44,67.66 891.95,67.05 892.47,66.44 892.98,65.83 893.49,65.23 894.00,64.64 894.51,64.04 895.02,63.45 895.53,62.86 896.04,62.28 896.55,61.70 897.06,61.12 897.58,60.55 898.09,59.98 898.60,59.41 899.11,58.84 899.62,58.28 900.13,57.73 900.64,57.17 901.15,56.62 901.66,56.07 902.17,55.53 902.68,54.98 903.20,54.45 903.71,53.91 904.22,53.38 904.73,52.85 905.24,52.33 905.75,51.80 906.26,51.28 906.77,50.77 907.28,50.26 907.80,49.75 908.31,49.24 908.82,48.74 909.33,48.24 909.84,47.75 910.35,47.25 910.86,46.76 911.37,46.28 911.88,45.80 912.39,45.32 912.90,44.84 913.42,44.37 913.93,43.90 914.44,43.43 914.95,42.97 915.46,42.51 915.97,42.05 916.48,41.60 916.99,41.15 917.50,40.70 918.01,40.26 918.53,39.82 919.04,39.38 919.55,38.95 920.06,38.52 920.57,38.09 921.08,37.67 921.59,37.25 922.10,36.83 922.61,36.41 923.12,36.00 923.64,35.60 924.15,35.19 924.66,34.79 925.17,34.39 925.68,34.00 926.19,33.61 926.70,33.22 927.21,32.84 927.72,32.45 928.24,32.08 928.75,31.70 929.26,31.33 929.77,30.96 930.28,30.60 930.79,30.24 931.30,29.88 931.81,29.52 932.32,29.17 932.83,28.82 933.35,28.48 933.86,28.14 934.37,27.80 934.88,27.46 935.39,27.13 935.90,26.80 936.41,26.47 936.92,26.15 937.43,25.83 937.94,25.52 938.45,25.20 938.97,24.90 939.48,24.59 939.99,24.29 940.50,23.99 941.01,23.69 941.52,23.40 942.03,23.11 942.54,22.82 943.05,22.54 943.57,22.26 944.08,21.98 944.59,21.71 945.10,21.44 945.61,21.17 946.12,20.91 946.63,20.65 947.14,20.39 947.65,20.14 948.16,19.89 948.67,19.64 949.19,19.40 949.70,19.16 950.21,18.92 950.72,18.69 951.23,18.46 951.74,18.23 952.25,18.00 952.76,17.78 953.27,17.57 953.78,17.35 954.30,17.14 954.81,16.93 955.32,16.73 955.83,16.53 956.34,16.33 956.85,16.13 957.36,15.94 957.87,15.75 958.38,15.57 958.89,15.39 959.41,15.21 959.92,15.03 960.43,14.86 960.94,14.69 961.45,14.53 961.96,14.37 962.47,14.21 962.98,14.05 963.49,13.90 964.00,13.75 964.52,13.61 965.03,13.46 965.54,13.32 966.05,13.19 966.56,13.06 967.07,12.93 967.58,12.80 968.09,12.68 968.60,12.56 969.12,12.44 969.63,12.33 970.14,12.22 970.65,12.11 971.16,12.01 971.67,11.91 972.18,11.81 972.69,11.72 973.20,11.63 973.71,11.54 974.23,11.46 974.74,11.38 975.25,11.30 975.76,11.23 976.27,11.16 976.78,11.09 977.29,11.03 977.80,10.97 978.31,10.91 978.82,10.86 979.34,10.81 979.85,10.76 980.36,10.71 980.87,10.67 981.38,10.64 981.89,10.60 982.40,10.57 982.91,10.54 983.42,10.52 983.93,10.50 984.45,10.48 984.96,10.46 985.47,10.45 985.98,10.44 986.49,10.44 987.00,10.44 987.51,10.44 988.02,10.44 988.53,10.45 989.04,10.46 989.56,10.48 990.07,10.50 990.58,10.52 991.09,10.54 991.60,10.57 992.11,10.60 992.62,10.64 993.13,10.67 993.64,10.71 994.15,10.76 994.66,10.81 995.18,10.86 995.69,10.91 996.20,10.97 996.71,11.03 997.22,11.09 997.73,11.16 998.24,11.23 998.75,11.30 999.26,11.38 999.78,11.46 1000.29,11.54 1000.80,11.63 1001.31,11.72 1001.82,11.81 1002.33,11.91 1002.84,12.01 1003.35,12.11 1003.86,12.22 1004.37,12.33 1004.88,12.44 1005.40,12.56 1005.91,12.68 1006.42,12.80 1006.93,12.93 1007.44,13.06 1007.95,13.19 1008.46,13.32 1008.97,13.46 1009.48,13.61 1010.00,13.75 1010.51,13.90 1011.02,14.05 1011.53,14.21 1012.04,14.37 1012.55,14.53 1013.06,14.69 1013.57,14.86 1014.08,15.03 1014.59,15.21 1015.11,15.39 1015.62,15.57 1016.13,15.75 1016.64,15.94 1017.15,16.13 1017.66,16.33 1018.17,16.53 1018.68,16.73 1019.19,16.93 1019.70,17.14 1020.22,17.35 1020.73,17.57 1021.24,17.78 1021.75,18.00 1022.26,18.23 1022.77,18.46 1023.28,18.69 1023.79,18.92 1024.30,19.16 1024.81,19.40 1025.33,19.64 1025.84,19.89 1026.35,20.14 1026.86,20.39 1027.37,20.65 1027.88,20.91 1028.39,21.17 1028.90,21.44 1029.41,21.71 1029.92,21.98 1030.43,22.26 1030.95,22.54 1031.46,22.82 1031.97,23.11 1032.48,23.40 1032.99,23.69 1033.50,23.99 1034.01,24.29 1034.52,24.59 1035.03,24.90 1035.55,25.20 1036.06,25.52 1036.57,25.83 1037.08,26.15 1037.59,26.47 1038.10,26.80 1038.61,27.13 1039.12,27.46 1039.63,27.80 1040.14,28.14 1040.65,28.48 1041.17,28.82 1041.68,29.17 1042.19,29.52 1042.70,29.88 1043.21,30.24 1043.72,30.60 1044.23,30.96 1044.74,31.33 1045.25,31.70 1045.77,32.08 1046.28,32.45 1046.79,32.84 1047.30,33.22 1047.81,33.61 1048.32,34.00 1048.83,34.39 1049.34,34.79 1049.85,35.19 1050.36,35.60 1050.88,36.00 1051.39,36.41 1051.90,36.83 1052.41,37.25 1052.92,37.67 1053.43,38.09 1053.94,38.52 1054.45,38.95 1054.96,39.38 1055.47,39.82 1055.99,40.26 1056.50,40.70 1057.01,41.15 1057.52,41.60 1058.03,42.05 1058.54,42.51 1059.05,42.97 1059.56,43.43 1060.07,43.90 1060.58,44.37 1061.10,44.84 1061.61,45.32 1062.12,45.80 1062.63,46.28 1063.14,46.76 1063.65,47.25 1064.16,47.75 1064.67,48.24 1065.18,48.74 1065.69,49.24 1066.20,49.75 1066.72,50.26 1067.23,50.77 1067.74,51.28 1068.25,51.80 1068.76,52.33 1069.27,52.85 1069.78,53.38 1070.29,53.91 1070.80,54.45 1071.32,54.98 1071.83,55.53 1072.34,56.07 1072.85,56.62 1073.36,57.17 1073.87,57.73 1074.38,58.28 1074.89,58.84 1075.40,59.41 1075.91,59.98 1076.42,60.55 1076.94,61.12 1077.45,61.70 1077.96,62.28 1078.47,62.86 1078.98,63.45 1079.49,64.04 1080.00,64.64 1080.51,65.23 1081.02,65.83 1081.53,66.44 1082.05,67.05 1082.56,67.66 1083.07,68.27 1083.58,68.89 1084.09,69.51 1084.60,70.13 1085.11,70.76 1085.62,71.39 1086.13,72.02 1086.64,72.66 1087.16,73.30 1087.67,73.94 1088.18,74.59 1088.69,75.23 1089.20,75.89 1089.71,76.54 1090.22,77.20 1090.73,77.87 1091.24,78.53 1091.76,79.20 1092.27,79.87 1092.78,80.55 1093.29,81.23 1093.80,81.91 1094.31,82.60 1094.82,83.28 1095.33,83.98 1095.84,84.67 1096.35,85.37 1096.87,86.07 1097.38,86.78 1097.89,87.49 1098.40,88.20 1098.91,88.91 1099.42,89.63 1099.93,90.35 1100.44,91.08 1100.95,91.81 1101.46,92.54 1101.97,93.27 1102.49,94.01 1103.00,94.75 1103.51,95.50 1104.02,96.24 1104.53,97.00 1105.04,97.75 1105.55,98.51 1106.06,99.27 1106.57,100.03 1107.09,100.80 1107.60,101.57 1108.11,102.34 1108.62,103.12 1109.13,103.90 1109.64,104.69 1110.15,105.47 1110.66,106.26 1111.17,107.06 1111.68,107.85 1112.19,108.65 1112.71,109.46 1113.22,110.26 1113.73,111.07 1114.24,111.89 1114.75,112.70 1115.26,113.52 1115.77,114.35 1116.28,115.17 1116.79,116.00 1117.31,116.83 1117.82,117.67 1118.33,118.51 1118.84,119.35 1119.35,120.20 1119.86,121.05 1120.37,121.90 1120.88,122.76 1121.39,123.62 1121.90,124.48 1122.41,125.34 1122.93,126.21 1123.44,127.08 1123.95,127.96 1124.46,128.84 1124.97,129.72 1125.48,130.61 1125.99,131.49 1126.50,132.39 1127.01,133.28 1127.53,134.18 1128.04,135.08 1128.55,135.99 1129.06,136.89 1129.57,137.80 1130.08,138.72 1130.59,139.64 1131.10,140.56 1131.61,141.48 1132.12,142.41 1132.63,143.34 1133.15,144.28 1133.66,145.21 1134.17,146.15 1134.68,147.10 1135.19,148.05 1135.70,149.00 1136.21,149.95 1136.72,150.91 1137.23,151.87 1137.74,152.83 1138.26,153.80 1138.77,154.77 1139.28,155.74 1139.79,156.72 1140.30,157.70 1140.81,158.68 1141.32,159.67 1141.83,160.66 1142.34,161.65 1142.86,162.65 1143.37,163.65 1143.88,164.65 1144.39,165.66 1144.90,166.67 1145.41,167.68 1145.92,168.70 1146.43,169.72 1146.94,170.74 1147.45,171.77 1147.97,172.79 1148.48,173.83 1148.99,174.86 1149.50,175.90 1150.01,176.94 1150.52,177.99 1151.03,179.04 1151.54,180.09 1152.05,181.15 1152.56,182.20 1153.08,183.27 1153.59,184.33 1154.10,185.40 1154.61,186.47 1155.12,187.55 1155.63,188.63 1156.14,189.71 1156.65,190.79 1157.16,191.88 1157.67,192.97 1158.18,194.07 1158.70,195.16 1159.21,196.26 1159.72,197.37 1160.23,198.48 1160.74,199.59 1161.25,200.70 1161.76,201.82 1162.27,202.94 1162.78,204.06 1163.30,205.19 1163.81,206.32 1164.32,207.46 1164.83,208.59 1165.34,209.73 1165.85,210.88 1166.36,212.03 1166.87,213.18 1167.38,214.33 1167.89,215.49 1168.40,216.65 1168.92,217.81 1169.43,218.98 1169.94,220.15 1170.45,221.32 1170.96,222.50 1171.47,223.68 1171.98,224.86 1172.49,226.04 1173.00,227.23 1173.52,228.43 1174.03,229.62 1174.54,230.82 1175.05,232.03 1175.56,233.23 1176.07,234.44 1176.58,235.65 1177.09,236.87 1177.60,238.09 1178.11,239.31 1178.62,240.54 1179.14,241.76 1179.65,243.00 1180.16,244.23 1180.67,245.47 1181.18,246.71 1181.69,247.96 1182.20,249.21 1182.71,250.46 1183.22,251.71 1183.74,252.97 1184.25,254.23 1184.76,255.50 1185.27,256.77 1185.78,258.04 1186.29,259.31 1186.80,260.59 1187.31,261.87 1187.82,263.15 1188.33,264.44 1188.85,265.73 1189.36,267.03 1189.87,268.33 1190.38,269.63 1190.89,270.93 1191.40,272.24 1191.91,273.55 1192.42,274.86 1192.93,276.18 1193.44,277.50 1193.95,278.82 1194.47,280.15 1194.98,281.48 1195.49,282.81 1196.00,284.15 1196.51,285.49 1197.02,286.83 1197.53,288.18 1198.04,289.53 1198.55,290.88 1199.07,292.24 1199.58,293.60 1200.09,294.96 1200.60,296.33 1201.11,297.70 1201.62,299.07 1202.13,300.45 1202.64,301.83 1203.15,303.21 1203.66,304.60 1204.17,305.99 1204.69,307.38 1205.20,308.77 1205.71,310.17 1206.22,311.57 1206.73,312.98 1207.24,314.39 1207.75,315.80 1208.26,317.22 1208.77,318.64 1209.28,320.06 1209.80,321.48 1210.31,322.91 1210.82,324.34 1211.33,325.78 1211.84,327.22 1212.35,328.66 1212.86,330.10 1213.37,331.55 1213.88,333.00 1214.39,334.46 1214.91,335.91 1215.42,337.37 1215.93,338.84 1216.44,340.31 1216.95,341.78 1217.46,343.25 1217.97,344.73 1218.48,346.21 1218.99,347.69 1219.51,349.18 1220.02,350.67 1220.53,352.17 1221.04,353.66 1221.55,355.16 1222.06,356.67 1222.57,358.17 1223.08,359.69 1223.59,361.20 1224.10,362.72 1224.62,364.24 1225.13,365.76 1225.64,367.29 1226.15,368.82 1226.66,370.35 1227.17,371.89 1227.68,373.42 1228.19,374.97 1228.70,376.51 1229.21,378.06 1229.72,379.62 1230.24,381.17 1230.75,382.73 1231.26,384.29 1231.77,385.86 1232.28,387.43 1232.79,389.00 1233.30,390.58 1233.81,392.16 1234.32,393.74 1234.84,395.32 1235.35,396.91 1235.86,398.51 1236.37,400.10 1236.88,401.70 1237.39,403.30 1237.90,404.91 1238.41,406.51 1238.92,408.13 1239.43,409.74 1239.94,411.36 1240.46,412.98 1240.97,414.61 1241.48,416.23 1241.99,417.87" fill="none" stroke="#0000FF" stroke-width="3.0" stroke-dasharray="11.9 10.95" stroke-dashoffset="-3.02" stroke-linejoin="round"/>
<rect x="911.0" y="253.0" width="148.0" height="159.5" fill="#fff" stroke="#262626" stroke-width="1"/>
<circle cx="945.60" cy="272.10" r="6.7" fill="none" stroke="#000" stroke-width="1.4"/>
<text transform="translate(978.90,282.60) scale(1.16,1)" font-family="'Liberation Serif', serif" font-style="italic" font-size="23.3" fill="#000">α</text>
<text transform="translate(1000.90,282.90) scale(1.03,0.95)" font-size="23.3" fill="#000">=</text>
<text x="1020.10" y="282.60" font-size="23.3" fill="#000" clip-path="url(#c7)">0.1</text>
<polygon points="941.56,295.69 953.68,302.65 941.56,309.61" fill="none" stroke="#D95319" stroke-width="1.3"/>
<text transform="translate(978.90,313.15) scale(1.16,1)" font-family="'Liberation Serif', serif" font-style="italic" font-size="23.3" fill="#000">α</text>
<text transform="translate(1000.90,313.45) scale(1.03,0.95)" font-size="23.3" fill="#000">=</text>
<text x="1020.10" y="313.15" font-size="23.3" fill="#000">0.5</text>
<rect x="939.75" y="327.35" width="11.70" height="11.70" fill="none" stroke="#77AC30" stroke-width="1.4"/>
<text transform="translate(978.90,343.70) scale(1.16,1)" font-family="'Liberation Serif', serif" font-style="italic" font-size="23.3" fill="#000">α</text>
<text transform="translate(1000.90,344.00) scale(1.03,0.95)" font-size="23.3" fill="#000">=</text>
<text x="1020.10" y="343.70" font-size="23.3" fill="#000" clip-path="url(#c8)">1.0</text>
<path d="M941.00,359.15L950.20,368.35M941.00,368.35L950.20,359.15" stroke="#FF0000" stroke-width="2.6" fill="none"/>
<text transform="translate(978.90,374.25) scale(1.16,1)" font-family="'Liberation Serif', serif" font-style="italic" font-size="23.3" fill="#000">α</text>
<text transform="translate(1000.90,374.55) scale(1.03,0.95)" font-size="23.3" fill="#000">=</text>
<text x="1020.10" y="374.25" font-size="23.3" fill="#000" clip-path="url(#c9)">1.5</text>
<circle cx="945.60" cy="394.30" r="7.45" fill="#0072BD"/>
<text transform="translate(978.90,404.80) scale(1.16,1)" font-family="'Liberation Serif', serif" font-style="italic" font-size="23.3" fill="#000">α</text>
<text transform="translate(1000.90,405.10) scale(1.03,0.95)" font-size="23.3" fill="#000">=</text>
<text x="1020.10" y="404.80" font-size="23.3" fill="#000">2.0</text>
<text transform="translate(692.00,209.05) rotate(-90)" text-anchor="middle" font-size="33" letter-spacing="1.5">&lt;<tspan font-family="'Liberation Serif', serif" font-style="italic">τ</tspan>&gt;</text>
</svg>
</body></html>
